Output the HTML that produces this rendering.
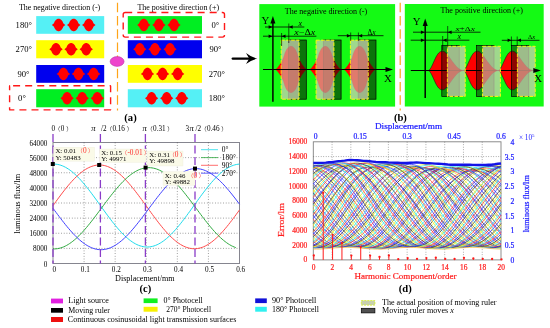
<!DOCTYPE html>
<html><head><meta charset="utf-8"><title>Figure</title>
<style>
html,body{margin:0;padding:0;background:#fff;}
body{width:550px;height:328px;overflow:hidden;font-family:"Liberation Serif","Noto Serif CJK SC",serif;}
svg{display:block;}
</style></head><body>
<svg width="550" height="328" viewBox="0 0 550 328">
<rect width="550" height="328" fill="#fff"/>
<rect x="36.2" y="16.1" width="68" height="17.7" fill="#55f0f5"/>
<path d="M51.90,24.95 L52.20,24.71 L52.51,24.46 L52.81,24.22 L53.12,23.98 L53.42,23.73 L53.73,23.49 L54.03,23.06 L54.34,22.19 L54.64,21.56 L54.95,21.06 L55.25,20.64 L55.55,20.28 L55.86,19.97 L56.16,19.70 L56.47,19.47 L56.77,19.27 L57.08,19.10 L57.38,18.96 L57.69,18.85 L57.99,18.76 L58.30,18.69 L58.60,18.65 L58.90,18.69 L59.21,18.76 L59.51,18.85 L59.82,18.96 L60.12,19.10 L60.43,19.27 L60.73,19.47 L61.04,19.70 L61.34,19.97 L61.65,20.28 L61.95,20.64 L62.25,21.06 L62.56,21.56 L62.86,22.19 L63.17,23.06 L63.47,23.49 L63.78,23.73 L64.08,23.98 L64.39,24.22 L64.69,24.46 L65.00,24.71 L65.30,24.95 L65.30,24.95 L65.00,25.19 L64.69,25.44 L64.39,25.68 L64.08,25.92 L63.78,26.17 L63.47,26.41 L63.17,26.84 L62.86,27.71 L62.56,28.34 L62.25,28.84 L61.95,29.26 L61.65,29.62 L61.34,29.93 L61.04,30.20 L60.73,30.43 L60.43,30.63 L60.12,30.80 L59.82,30.94 L59.51,31.05 L59.21,31.14 L58.90,31.21 L58.60,31.25 L58.30,31.21 L57.99,31.14 L57.69,31.05 L57.38,30.94 L57.08,30.80 L56.77,30.63 L56.47,30.43 L56.16,30.20 L55.86,29.93 L55.55,29.62 L55.25,29.26 L54.95,28.84 L54.64,28.34 L54.34,27.71 L54.03,26.84 L53.73,26.41 L53.42,26.17 L53.12,25.92 L52.81,25.68 L52.51,25.44 L52.20,25.19 L51.90,24.95Z" fill="#ff0000"/>
<path d="M67.00,24.95 L67.30,24.71 L67.61,24.46 L67.91,24.22 L68.22,23.98 L68.52,23.73 L68.83,23.49 L69.13,23.06 L69.44,22.19 L69.74,21.56 L70.05,21.06 L70.35,20.64 L70.65,20.28 L70.96,19.97 L71.26,19.70 L71.57,19.47 L71.87,19.27 L72.18,19.10 L72.48,18.96 L72.79,18.85 L73.09,18.76 L73.40,18.69 L73.70,18.65 L74.00,18.69 L74.31,18.76 L74.61,18.85 L74.92,18.96 L75.22,19.10 L75.53,19.27 L75.83,19.47 L76.14,19.70 L76.44,19.97 L76.75,20.28 L77.05,20.64 L77.35,21.06 L77.66,21.56 L77.96,22.19 L78.27,23.06 L78.57,23.49 L78.88,23.73 L79.18,23.98 L79.49,24.22 L79.79,24.46 L80.10,24.71 L80.40,24.95 L80.40,24.95 L80.10,25.19 L79.79,25.44 L79.49,25.68 L79.18,25.92 L78.88,26.17 L78.57,26.41 L78.27,26.84 L77.96,27.71 L77.66,28.34 L77.35,28.84 L77.05,29.26 L76.75,29.62 L76.44,29.93 L76.14,30.20 L75.83,30.43 L75.53,30.63 L75.22,30.80 L74.92,30.94 L74.61,31.05 L74.31,31.14 L74.00,31.21 L73.70,31.25 L73.40,31.21 L73.09,31.14 L72.79,31.05 L72.48,30.94 L72.18,30.80 L71.87,30.63 L71.57,30.43 L71.26,30.20 L70.96,29.93 L70.65,29.62 L70.35,29.26 L70.05,28.84 L69.74,28.34 L69.44,27.71 L69.13,26.84 L68.83,26.41 L68.52,26.17 L68.22,25.92 L67.91,25.68 L67.61,25.44 L67.30,25.19 L67.00,24.95Z" fill="#ff0000"/>
<path d="M82.10,24.95 L82.40,24.71 L82.71,24.46 L83.01,24.22 L83.32,23.98 L83.62,23.73 L83.93,23.49 L84.23,23.06 L84.54,22.19 L84.84,21.56 L85.15,21.06 L85.45,20.64 L85.75,20.28 L86.06,19.97 L86.36,19.70 L86.67,19.47 L86.97,19.27 L87.28,19.10 L87.58,18.96 L87.89,18.85 L88.19,18.76 L88.50,18.69 L88.80,18.65 L89.10,18.69 L89.41,18.76 L89.71,18.85 L90.02,18.96 L90.32,19.10 L90.63,19.27 L90.93,19.47 L91.24,19.70 L91.54,19.97 L91.85,20.28 L92.15,20.64 L92.45,21.06 L92.76,21.56 L93.06,22.19 L93.37,23.06 L93.67,23.49 L93.98,23.73 L94.28,23.98 L94.59,24.22 L94.89,24.46 L95.20,24.71 L95.50,24.95 L95.50,24.95 L95.20,25.19 L94.89,25.44 L94.59,25.68 L94.28,25.92 L93.98,26.17 L93.67,26.41 L93.37,26.84 L93.06,27.71 L92.76,28.34 L92.45,28.84 L92.15,29.26 L91.85,29.62 L91.54,29.93 L91.24,30.20 L90.93,30.43 L90.63,30.63 L90.32,30.80 L90.02,30.94 L89.71,31.05 L89.41,31.14 L89.10,31.21 L88.80,31.25 L88.50,31.21 L88.19,31.14 L87.89,31.05 L87.58,30.94 L87.28,30.80 L86.97,30.63 L86.67,30.43 L86.36,30.20 L86.06,29.93 L85.75,29.62 L85.45,29.26 L85.15,28.84 L84.84,28.34 L84.54,27.71 L84.23,26.84 L83.93,26.41 L83.62,26.17 L83.32,25.92 L83.01,25.68 L82.71,25.44 L82.40,25.19 L82.10,24.95Z" fill="#ff0000"/>
<text x="23.75" y="27.849999999999998" font-size="8.6" fill="#000" text-anchor="middle" font-family='"Liberation Serif","Noto Serif CJK SC",serif' >180°</text>
<rect x="36.2" y="40.2" width="68" height="18.1" fill="#ffff00"/>
<path d="M49.30,49.25 L49.60,49.01 L49.91,48.76 L50.21,48.52 L50.52,48.28 L50.82,48.03 L51.13,47.79 L51.43,47.36 L51.74,46.49 L52.04,45.86 L52.35,45.36 L52.65,44.94 L52.95,44.58 L53.26,44.27 L53.56,44.00 L53.87,43.77 L54.17,43.57 L54.48,43.40 L54.78,43.26 L55.09,43.15 L55.39,43.06 L55.70,42.99 L56.00,42.95 L56.30,42.99 L56.61,43.06 L56.91,43.15 L57.22,43.26 L57.52,43.40 L57.83,43.57 L58.13,43.77 L58.44,44.00 L58.74,44.27 L59.05,44.58 L59.35,44.94 L59.65,45.36 L59.96,45.86 L60.26,46.49 L60.57,47.36 L60.87,47.79 L61.18,48.03 L61.48,48.28 L61.79,48.52 L62.09,48.76 L62.40,49.01 L62.70,49.25 L62.70,49.25 L62.40,49.49 L62.09,49.74 L61.79,49.98 L61.48,50.22 L61.18,50.47 L60.87,50.71 L60.57,51.14 L60.26,52.01 L59.96,52.64 L59.65,53.14 L59.35,53.56 L59.05,53.92 L58.74,54.23 L58.44,54.50 L58.13,54.73 L57.83,54.93 L57.52,55.10 L57.22,55.24 L56.91,55.35 L56.61,55.44 L56.30,55.51 L56.00,55.55 L55.70,55.51 L55.39,55.44 L55.09,55.35 L54.78,55.24 L54.48,55.10 L54.17,54.93 L53.87,54.73 L53.56,54.50 L53.26,54.23 L52.95,53.92 L52.65,53.56 L52.35,53.14 L52.04,52.64 L51.74,52.01 L51.43,51.14 L51.13,50.71 L50.82,50.47 L50.52,50.22 L50.21,49.98 L49.91,49.74 L49.60,49.49 L49.30,49.25Z" fill="#ff0000"/>
<path d="M64.40,49.25 L64.70,49.01 L65.01,48.76 L65.31,48.52 L65.62,48.28 L65.92,48.03 L66.23,47.79 L66.53,47.36 L66.84,46.49 L67.14,45.86 L67.45,45.36 L67.75,44.94 L68.05,44.58 L68.36,44.27 L68.66,44.00 L68.97,43.77 L69.27,43.57 L69.58,43.40 L69.88,43.26 L70.19,43.15 L70.49,43.06 L70.80,42.99 L71.10,42.95 L71.40,42.99 L71.71,43.06 L72.01,43.15 L72.32,43.26 L72.62,43.40 L72.93,43.57 L73.23,43.77 L73.54,44.00 L73.84,44.27 L74.15,44.58 L74.45,44.94 L74.75,45.36 L75.06,45.86 L75.36,46.49 L75.67,47.36 L75.97,47.79 L76.28,48.03 L76.58,48.28 L76.89,48.52 L77.19,48.76 L77.50,49.01 L77.80,49.25 L77.80,49.25 L77.50,49.49 L77.19,49.74 L76.89,49.98 L76.58,50.22 L76.28,50.47 L75.97,50.71 L75.67,51.14 L75.36,52.01 L75.06,52.64 L74.75,53.14 L74.45,53.56 L74.15,53.92 L73.84,54.23 L73.54,54.50 L73.23,54.73 L72.93,54.93 L72.62,55.10 L72.32,55.24 L72.01,55.35 L71.71,55.44 L71.40,55.51 L71.10,55.55 L70.80,55.51 L70.49,55.44 L70.19,55.35 L69.88,55.24 L69.58,55.10 L69.27,54.93 L68.97,54.73 L68.66,54.50 L68.36,54.23 L68.05,53.92 L67.75,53.56 L67.45,53.14 L67.14,52.64 L66.84,52.01 L66.53,51.14 L66.23,50.71 L65.92,50.47 L65.62,50.22 L65.31,49.98 L65.01,49.74 L64.70,49.49 L64.40,49.25Z" fill="#ff0000"/>
<path d="M79.50,49.25 L79.80,49.01 L80.11,48.76 L80.41,48.52 L80.72,48.28 L81.02,48.03 L81.33,47.79 L81.63,47.36 L81.94,46.49 L82.24,45.86 L82.55,45.36 L82.85,44.94 L83.15,44.58 L83.46,44.27 L83.76,44.00 L84.07,43.77 L84.37,43.57 L84.68,43.40 L84.98,43.26 L85.29,43.15 L85.59,43.06 L85.90,42.99 L86.20,42.95 L86.50,42.99 L86.81,43.06 L87.11,43.15 L87.42,43.26 L87.72,43.40 L88.03,43.57 L88.33,43.77 L88.64,44.00 L88.94,44.27 L89.25,44.58 L89.55,44.94 L89.85,45.36 L90.16,45.86 L90.46,46.49 L90.77,47.36 L91.07,47.79 L91.38,48.03 L91.68,48.28 L91.99,48.52 L92.29,48.76 L92.60,49.01 L92.90,49.25 L92.90,49.25 L92.60,49.49 L92.29,49.74 L91.99,49.98 L91.68,50.22 L91.38,50.47 L91.07,50.71 L90.77,51.14 L90.46,52.01 L90.16,52.64 L89.85,53.14 L89.55,53.56 L89.25,53.92 L88.94,54.23 L88.64,54.50 L88.33,54.73 L88.03,54.93 L87.72,55.10 L87.42,55.24 L87.11,55.35 L86.81,55.44 L86.50,55.51 L86.20,55.55 L85.90,55.51 L85.59,55.44 L85.29,55.35 L84.98,55.24 L84.68,55.10 L84.37,54.93 L84.07,54.73 L83.76,54.50 L83.46,54.23 L83.15,53.92 L82.85,53.56 L82.55,53.14 L82.24,52.64 L81.94,52.01 L81.63,51.14 L81.33,50.71 L81.02,50.47 L80.72,50.22 L80.41,49.98 L80.11,49.74 L79.80,49.49 L79.50,49.25Z" fill="#ff0000"/>
<text x="23.75" y="52.15" font-size="8.6" fill="#000" text-anchor="middle" font-family='"Liberation Serif","Noto Serif CJK SC",serif' >270°</text>
<rect x="36.2" y="65.0" width="68" height="17.8" fill="#0000ee"/>
<path d="M56.70,73.90 L57.00,73.66 L57.31,73.41 L57.61,73.17 L57.92,72.93 L58.22,72.68 L58.53,72.44 L58.83,72.01 L59.14,71.14 L59.44,70.51 L59.75,70.01 L60.05,69.59 L60.35,69.23 L60.66,68.92 L60.96,68.65 L61.27,68.42 L61.57,68.22 L61.88,68.05 L62.18,67.91 L62.49,67.80 L62.79,67.71 L63.10,67.64 L63.40,67.60 L63.70,67.64 L64.01,67.71 L64.31,67.80 L64.62,67.91 L64.92,68.05 L65.23,68.22 L65.53,68.42 L65.84,68.65 L66.14,68.92 L66.45,69.23 L66.75,69.59 L67.05,70.01 L67.36,70.51 L67.66,71.14 L67.97,72.01 L68.27,72.44 L68.58,72.68 L68.88,72.93 L69.19,73.17 L69.49,73.41 L69.80,73.66 L70.10,73.90 L70.10,73.90 L69.80,74.14 L69.49,74.39 L69.19,74.63 L68.88,74.87 L68.58,75.12 L68.27,75.36 L67.97,75.79 L67.66,76.66 L67.36,77.29 L67.05,77.79 L66.75,78.21 L66.45,78.57 L66.14,78.88 L65.84,79.15 L65.53,79.38 L65.23,79.58 L64.92,79.75 L64.62,79.89 L64.31,80.00 L64.01,80.09 L63.70,80.16 L63.40,80.20 L63.10,80.16 L62.79,80.09 L62.49,80.00 L62.18,79.89 L61.88,79.75 L61.57,79.58 L61.27,79.38 L60.96,79.15 L60.66,78.88 L60.35,78.57 L60.05,78.21 L59.75,77.79 L59.44,77.29 L59.14,76.66 L58.83,75.79 L58.53,75.36 L58.22,75.12 L57.92,74.87 L57.61,74.63 L57.31,74.39 L57.00,74.14 L56.70,73.90Z" fill="#ff0000"/>
<path d="M71.80,73.90 L72.10,73.66 L72.41,73.41 L72.71,73.17 L73.02,72.93 L73.32,72.68 L73.63,72.44 L73.93,72.01 L74.24,71.14 L74.54,70.51 L74.85,70.01 L75.15,69.59 L75.45,69.23 L75.76,68.92 L76.06,68.65 L76.37,68.42 L76.67,68.22 L76.98,68.05 L77.28,67.91 L77.59,67.80 L77.89,67.71 L78.20,67.64 L78.50,67.60 L78.80,67.64 L79.11,67.71 L79.41,67.80 L79.72,67.91 L80.02,68.05 L80.33,68.22 L80.63,68.42 L80.94,68.65 L81.24,68.92 L81.55,69.23 L81.85,69.59 L82.15,70.01 L82.46,70.51 L82.76,71.14 L83.07,72.01 L83.37,72.44 L83.68,72.68 L83.98,72.93 L84.29,73.17 L84.59,73.41 L84.90,73.66 L85.20,73.90 L85.20,73.90 L84.90,74.14 L84.59,74.39 L84.29,74.63 L83.98,74.87 L83.68,75.12 L83.37,75.36 L83.07,75.79 L82.76,76.66 L82.46,77.29 L82.15,77.79 L81.85,78.21 L81.55,78.57 L81.24,78.88 L80.94,79.15 L80.63,79.38 L80.33,79.58 L80.02,79.75 L79.72,79.89 L79.41,80.00 L79.11,80.09 L78.80,80.16 L78.50,80.20 L78.20,80.16 L77.89,80.09 L77.59,80.00 L77.28,79.89 L76.98,79.75 L76.67,79.58 L76.37,79.38 L76.06,79.15 L75.76,78.88 L75.45,78.57 L75.15,78.21 L74.85,77.79 L74.54,77.29 L74.24,76.66 L73.93,75.79 L73.63,75.36 L73.32,75.12 L73.02,74.87 L72.71,74.63 L72.41,74.39 L72.10,74.14 L71.80,73.90Z" fill="#ff0000"/>
<path d="M86.90,73.90 L87.20,73.66 L87.51,73.41 L87.81,73.17 L88.12,72.93 L88.42,72.68 L88.73,72.44 L89.03,72.01 L89.34,71.14 L89.64,70.51 L89.95,70.01 L90.25,69.59 L90.55,69.23 L90.86,68.92 L91.16,68.65 L91.47,68.42 L91.77,68.22 L92.08,68.05 L92.38,67.91 L92.69,67.80 L92.99,67.71 L93.30,67.64 L93.60,67.60 L93.90,67.64 L94.21,67.71 L94.51,67.80 L94.82,67.91 L95.12,68.05 L95.43,68.22 L95.73,68.42 L96.04,68.65 L96.34,68.92 L96.65,69.23 L96.95,69.59 L97.25,70.01 L97.56,70.51 L97.86,71.14 L98.17,72.01 L98.47,72.44 L98.78,72.68 L99.08,72.93 L99.39,73.17 L99.69,73.41 L100.00,73.66 L100.30,73.90 L100.30,73.90 L100.00,74.14 L99.69,74.39 L99.39,74.63 L99.08,74.87 L98.78,75.12 L98.47,75.36 L98.17,75.79 L97.86,76.66 L97.56,77.29 L97.25,77.79 L96.95,78.21 L96.65,78.57 L96.34,78.88 L96.04,79.15 L95.73,79.38 L95.43,79.58 L95.12,79.75 L94.82,79.89 L94.51,80.00 L94.21,80.09 L93.90,80.16 L93.60,80.20 L93.30,80.16 L92.99,80.09 L92.69,80.00 L92.38,79.89 L92.08,79.75 L91.77,79.58 L91.47,79.38 L91.16,79.15 L90.86,78.88 L90.55,78.57 L90.25,78.21 L89.95,77.79 L89.64,77.29 L89.34,76.66 L89.03,75.79 L88.73,75.36 L88.42,75.12 L88.12,74.87 L87.81,74.63 L87.51,74.39 L87.20,74.14 L86.90,73.90Z" fill="#ff0000"/>
<text x="23.45" y="76.80000000000001" font-size="8.6" fill="#000" text-anchor="middle" font-family='"Liberation Serif","Noto Serif CJK SC",serif' >90°</text>
<rect x="36.2" y="89.2" width="68" height="18.1" fill="#00ee22"/>
<path d="M60.40,98.25 L60.70,98.01 L61.01,97.76 L61.31,97.52 L61.62,97.28 L61.92,97.03 L62.23,96.79 L62.53,96.36 L62.84,95.49 L63.14,94.86 L63.45,94.36 L63.75,93.94 L64.05,93.58 L64.36,93.27 L64.66,93.00 L64.97,92.77 L65.27,92.57 L65.58,92.40 L65.88,92.26 L66.19,92.15 L66.49,92.06 L66.80,91.99 L67.10,91.95 L67.40,91.99 L67.71,92.06 L68.01,92.15 L68.32,92.26 L68.62,92.40 L68.93,92.57 L69.23,92.77 L69.54,93.00 L69.84,93.27 L70.15,93.58 L70.45,93.94 L70.75,94.36 L71.06,94.86 L71.36,95.49 L71.67,96.36 L71.97,96.79 L72.28,97.03 L72.58,97.28 L72.89,97.52 L73.19,97.76 L73.50,98.01 L73.80,98.25 L73.80,98.25 L73.50,98.49 L73.19,98.74 L72.89,98.98 L72.58,99.22 L72.28,99.47 L71.97,99.71 L71.67,100.14 L71.36,101.01 L71.06,101.64 L70.75,102.14 L70.45,102.56 L70.15,102.92 L69.84,103.23 L69.54,103.50 L69.23,103.73 L68.93,103.93 L68.62,104.10 L68.32,104.24 L68.01,104.35 L67.71,104.44 L67.40,104.51 L67.10,104.55 L66.80,104.51 L66.49,104.44 L66.19,104.35 L65.88,104.24 L65.58,104.10 L65.27,103.93 L64.97,103.73 L64.66,103.50 L64.36,103.23 L64.05,102.92 L63.75,102.56 L63.45,102.14 L63.14,101.64 L62.84,101.01 L62.53,100.14 L62.23,99.71 L61.92,99.47 L61.62,99.22 L61.31,98.98 L61.01,98.74 L60.70,98.49 L60.40,98.25Z" fill="#ff0000"/>
<path d="M75.50,98.25 L75.80,98.01 L76.11,97.76 L76.41,97.52 L76.72,97.28 L77.02,97.03 L77.33,96.79 L77.63,96.36 L77.94,95.49 L78.24,94.86 L78.55,94.36 L78.85,93.94 L79.15,93.58 L79.46,93.27 L79.76,93.00 L80.07,92.77 L80.37,92.57 L80.68,92.40 L80.98,92.26 L81.29,92.15 L81.59,92.06 L81.90,91.99 L82.20,91.95 L82.50,91.99 L82.81,92.06 L83.11,92.15 L83.42,92.26 L83.72,92.40 L84.03,92.57 L84.33,92.77 L84.64,93.00 L84.94,93.27 L85.25,93.58 L85.55,93.94 L85.85,94.36 L86.16,94.86 L86.46,95.49 L86.77,96.36 L87.07,96.79 L87.38,97.03 L87.68,97.28 L87.99,97.52 L88.29,97.76 L88.60,98.01 L88.90,98.25 L88.90,98.25 L88.60,98.49 L88.29,98.74 L87.99,98.98 L87.68,99.22 L87.38,99.47 L87.07,99.71 L86.77,100.14 L86.46,101.01 L86.16,101.64 L85.85,102.14 L85.55,102.56 L85.25,102.92 L84.94,103.23 L84.64,103.50 L84.33,103.73 L84.03,103.93 L83.72,104.10 L83.42,104.24 L83.11,104.35 L82.81,104.44 L82.50,104.51 L82.20,104.55 L81.90,104.51 L81.59,104.44 L81.29,104.35 L80.98,104.24 L80.68,104.10 L80.37,103.93 L80.07,103.73 L79.76,103.50 L79.46,103.23 L79.15,102.92 L78.85,102.56 L78.55,102.14 L78.24,101.64 L77.94,101.01 L77.63,100.14 L77.33,99.71 L77.02,99.47 L76.72,99.22 L76.41,98.98 L76.11,98.74 L75.80,98.49 L75.50,98.25Z" fill="#ff0000"/>
<path d="M90.60,98.25 L90.90,98.01 L91.21,97.76 L91.51,97.52 L91.82,97.28 L92.12,97.03 L92.43,96.79 L92.73,96.36 L93.04,95.49 L93.34,94.86 L93.65,94.36 L93.95,93.94 L94.25,93.58 L94.56,93.27 L94.86,93.00 L95.17,92.77 L95.47,92.57 L95.78,92.40 L96.08,92.26 L96.39,92.15 L96.69,92.06 L97.00,91.99 L97.30,91.95 L97.60,91.99 L97.91,92.06 L98.21,92.15 L98.52,92.26 L98.82,92.40 L99.13,92.57 L99.43,92.77 L99.74,93.00 L100.04,93.27 L100.35,93.58 L100.65,93.94 L100.95,94.36 L101.26,94.86 L101.56,95.49 L101.87,96.36 L102.17,96.79 L102.48,97.03 L102.78,97.28 L103.09,97.52 L103.39,97.76 L103.70,98.01 L104.00,98.25 L104.00,98.25 L103.70,98.49 L103.39,98.74 L103.09,98.98 L102.78,99.22 L102.48,99.47 L102.17,99.71 L101.87,100.14 L101.56,101.01 L101.26,101.64 L100.95,102.14 L100.65,102.56 L100.35,102.92 L100.04,103.23 L99.74,103.50 L99.43,103.73 L99.13,103.93 L98.82,104.10 L98.52,104.24 L98.21,104.35 L97.91,104.44 L97.60,104.51 L97.30,104.55 L97.00,104.51 L96.69,104.44 L96.39,104.35 L96.08,104.24 L95.78,104.10 L95.47,103.93 L95.17,103.73 L94.86,103.50 L94.56,103.23 L94.25,102.92 L93.95,102.56 L93.65,102.14 L93.34,101.64 L93.04,101.01 L92.73,100.14 L92.43,99.71 L92.12,99.47 L91.82,99.22 L91.51,98.98 L91.21,98.74 L90.90,98.49 L90.60,98.25Z" fill="#ff0000"/>
<text x="21.95" y="101.15" font-size="8.6" fill="#000" text-anchor="middle" font-family='"Liberation Serif","Noto Serif CJK SC",serif' >0°</text>
<rect x="127.8" y="16.1" width="74.2" height="17.7" fill="#00ee22"/>
<path d="M137.20,24.95 L137.50,24.71 L137.80,24.46 L138.10,24.22 L138.40,23.98 L138.70,23.73 L139.00,23.49 L139.30,23.06 L139.60,22.19 L139.90,21.56 L140.20,21.06 L140.50,20.64 L140.80,20.28 L141.10,19.97 L141.40,19.70 L141.70,19.47 L142.00,19.27 L142.30,19.10 L142.60,18.96 L142.90,18.85 L143.20,18.76 L143.50,18.69 L143.80,18.65 L144.10,18.69 L144.40,18.76 L144.70,18.85 L145.00,18.96 L145.30,19.10 L145.60,19.27 L145.90,19.47 L146.20,19.70 L146.50,19.97 L146.80,20.28 L147.10,20.64 L147.40,21.06 L147.70,21.56 L148.00,22.19 L148.30,23.06 L148.60,23.49 L148.90,23.73 L149.20,23.98 L149.50,24.22 L149.80,24.46 L150.10,24.71 L150.40,24.95 L150.40,24.95 L150.10,25.19 L149.80,25.44 L149.50,25.68 L149.20,25.92 L148.90,26.17 L148.60,26.41 L148.30,26.84 L148.00,27.71 L147.70,28.34 L147.40,28.84 L147.10,29.26 L146.80,29.62 L146.50,29.93 L146.20,30.20 L145.90,30.43 L145.60,30.63 L145.30,30.80 L145.00,30.94 L144.70,31.05 L144.40,31.14 L144.10,31.21 L143.80,31.25 L143.50,31.21 L143.20,31.14 L142.90,31.05 L142.60,30.94 L142.30,30.80 L142.00,30.63 L141.70,30.43 L141.40,30.20 L141.10,29.93 L140.80,29.62 L140.50,29.26 L140.20,28.84 L139.90,28.34 L139.60,27.71 L139.30,26.84 L139.00,26.41 L138.70,26.17 L138.40,25.92 L138.10,25.68 L137.80,25.44 L137.50,25.19 L137.20,24.95Z" fill="#ff0000"/>
<path d="M152.30,24.95 L152.60,24.71 L152.90,24.46 L153.20,24.22 L153.50,23.98 L153.80,23.73 L154.10,23.49 L154.40,23.06 L154.70,22.19 L155.00,21.56 L155.30,21.06 L155.60,20.64 L155.90,20.28 L156.20,19.97 L156.50,19.70 L156.80,19.47 L157.10,19.27 L157.40,19.10 L157.70,18.96 L158.00,18.85 L158.30,18.76 L158.60,18.69 L158.90,18.65 L159.20,18.69 L159.50,18.76 L159.80,18.85 L160.10,18.96 L160.40,19.10 L160.70,19.27 L161.00,19.47 L161.30,19.70 L161.60,19.97 L161.90,20.28 L162.20,20.64 L162.50,21.06 L162.80,21.56 L163.10,22.19 L163.40,23.06 L163.70,23.49 L164.00,23.73 L164.30,23.98 L164.60,24.22 L164.90,24.46 L165.20,24.71 L165.50,24.95 L165.50,24.95 L165.20,25.19 L164.90,25.44 L164.60,25.68 L164.30,25.92 L164.00,26.17 L163.70,26.41 L163.40,26.84 L163.10,27.71 L162.80,28.34 L162.50,28.84 L162.20,29.26 L161.90,29.62 L161.60,29.93 L161.30,30.20 L161.00,30.43 L160.70,30.63 L160.40,30.80 L160.10,30.94 L159.80,31.05 L159.50,31.14 L159.20,31.21 L158.90,31.25 L158.60,31.21 L158.30,31.14 L158.00,31.05 L157.70,30.94 L157.40,30.80 L157.10,30.63 L156.80,30.43 L156.50,30.20 L156.20,29.93 L155.90,29.62 L155.60,29.26 L155.30,28.84 L155.00,28.34 L154.70,27.71 L154.40,26.84 L154.10,26.41 L153.80,26.17 L153.50,25.92 L153.20,25.68 L152.90,25.44 L152.60,25.19 L152.30,24.95Z" fill="#ff0000"/>
<path d="M167.40,24.95 L167.70,24.71 L168.00,24.46 L168.30,24.22 L168.60,23.98 L168.90,23.73 L169.20,23.49 L169.50,23.06 L169.80,22.19 L170.10,21.56 L170.40,21.06 L170.70,20.64 L171.00,20.28 L171.30,19.97 L171.60,19.70 L171.90,19.47 L172.20,19.27 L172.50,19.10 L172.80,18.96 L173.10,18.85 L173.40,18.76 L173.70,18.69 L174.00,18.65 L174.30,18.69 L174.60,18.76 L174.90,18.85 L175.20,18.96 L175.50,19.10 L175.80,19.27 L176.10,19.47 L176.40,19.70 L176.70,19.97 L177.00,20.28 L177.30,20.64 L177.60,21.06 L177.90,21.56 L178.20,22.19 L178.50,23.06 L178.80,23.49 L179.10,23.73 L179.40,23.98 L179.70,24.22 L180.00,24.46 L180.30,24.71 L180.60,24.95 L180.60,24.95 L180.30,25.19 L180.00,25.44 L179.70,25.68 L179.40,25.92 L179.10,26.17 L178.80,26.41 L178.50,26.84 L178.20,27.71 L177.90,28.34 L177.60,28.84 L177.30,29.26 L177.00,29.62 L176.70,29.93 L176.40,30.20 L176.10,30.43 L175.80,30.63 L175.50,30.80 L175.20,30.94 L174.90,31.05 L174.60,31.14 L174.30,31.21 L174.00,31.25 L173.70,31.21 L173.40,31.14 L173.10,31.05 L172.80,30.94 L172.50,30.80 L172.20,30.63 L171.90,30.43 L171.60,30.20 L171.30,29.93 L171.00,29.62 L170.70,29.26 L170.40,28.84 L170.10,28.34 L169.80,27.71 L169.50,26.84 L169.20,26.41 L168.90,26.17 L168.60,25.92 L168.30,25.68 L168.00,25.44 L167.70,25.19 L167.40,24.95Z" fill="#ff0000"/>
<text x="215.4" y="27.849999999999998" font-size="8.6" fill="#000" text-anchor="middle" font-family='"Liberation Serif","Noto Serif CJK SC",serif' >0°</text>
<rect x="127.8" y="40.2" width="74.2" height="18.1" fill="#0000ee"/>
<path d="M133.20,49.25 L133.50,49.01 L133.80,48.76 L134.10,48.52 L134.40,48.28 L134.70,48.03 L135.00,47.79 L135.30,47.36 L135.60,46.49 L135.90,45.86 L136.20,45.36 L136.50,44.94 L136.80,44.58 L137.10,44.27 L137.40,44.00 L137.70,43.77 L138.00,43.57 L138.30,43.40 L138.60,43.26 L138.90,43.15 L139.20,43.06 L139.50,42.99 L139.80,42.95 L140.10,42.99 L140.40,43.06 L140.70,43.15 L141.00,43.26 L141.30,43.40 L141.60,43.57 L141.90,43.77 L142.20,44.00 L142.50,44.27 L142.80,44.58 L143.10,44.94 L143.40,45.36 L143.70,45.86 L144.00,46.49 L144.30,47.36 L144.60,47.79 L144.90,48.03 L145.20,48.28 L145.50,48.52 L145.80,48.76 L146.10,49.01 L146.40,49.25 L146.40,49.25 L146.10,49.49 L145.80,49.74 L145.50,49.98 L145.20,50.22 L144.90,50.47 L144.60,50.71 L144.30,51.14 L144.00,52.01 L143.70,52.64 L143.40,53.14 L143.10,53.56 L142.80,53.92 L142.50,54.23 L142.20,54.50 L141.90,54.73 L141.60,54.93 L141.30,55.10 L141.00,55.24 L140.70,55.35 L140.40,55.44 L140.10,55.51 L139.80,55.55 L139.50,55.51 L139.20,55.44 L138.90,55.35 L138.60,55.24 L138.30,55.10 L138.00,54.93 L137.70,54.73 L137.40,54.50 L137.10,54.23 L136.80,53.92 L136.50,53.56 L136.20,53.14 L135.90,52.64 L135.60,52.01 L135.30,51.14 L135.00,50.71 L134.70,50.47 L134.40,50.22 L134.10,49.98 L133.80,49.74 L133.50,49.49 L133.20,49.25Z" fill="#ff0000"/>
<path d="M148.30,49.25 L148.60,49.01 L148.90,48.76 L149.20,48.52 L149.50,48.28 L149.80,48.03 L150.10,47.79 L150.40,47.36 L150.70,46.49 L151.00,45.86 L151.30,45.36 L151.60,44.94 L151.90,44.58 L152.20,44.27 L152.50,44.00 L152.80,43.77 L153.10,43.57 L153.40,43.40 L153.70,43.26 L154.00,43.15 L154.30,43.06 L154.60,42.99 L154.90,42.95 L155.20,42.99 L155.50,43.06 L155.80,43.15 L156.10,43.26 L156.40,43.40 L156.70,43.57 L157.00,43.77 L157.30,44.00 L157.60,44.27 L157.90,44.58 L158.20,44.94 L158.50,45.36 L158.80,45.86 L159.10,46.49 L159.40,47.36 L159.70,47.79 L160.00,48.03 L160.30,48.28 L160.60,48.52 L160.90,48.76 L161.20,49.01 L161.50,49.25 L161.50,49.25 L161.20,49.49 L160.90,49.74 L160.60,49.98 L160.30,50.22 L160.00,50.47 L159.70,50.71 L159.40,51.14 L159.10,52.01 L158.80,52.64 L158.50,53.14 L158.20,53.56 L157.90,53.92 L157.60,54.23 L157.30,54.50 L157.00,54.73 L156.70,54.93 L156.40,55.10 L156.10,55.24 L155.80,55.35 L155.50,55.44 L155.20,55.51 L154.90,55.55 L154.60,55.51 L154.30,55.44 L154.00,55.35 L153.70,55.24 L153.40,55.10 L153.10,54.93 L152.80,54.73 L152.50,54.50 L152.20,54.23 L151.90,53.92 L151.60,53.56 L151.30,53.14 L151.00,52.64 L150.70,52.01 L150.40,51.14 L150.10,50.71 L149.80,50.47 L149.50,50.22 L149.20,49.98 L148.90,49.74 L148.60,49.49 L148.30,49.25Z" fill="#ff0000"/>
<path d="M163.40,49.25 L163.70,49.01 L164.00,48.76 L164.30,48.52 L164.60,48.28 L164.90,48.03 L165.20,47.79 L165.50,47.36 L165.80,46.49 L166.10,45.86 L166.40,45.36 L166.70,44.94 L167.00,44.58 L167.30,44.27 L167.60,44.00 L167.90,43.77 L168.20,43.57 L168.50,43.40 L168.80,43.26 L169.10,43.15 L169.40,43.06 L169.70,42.99 L170.00,42.95 L170.30,42.99 L170.60,43.06 L170.90,43.15 L171.20,43.26 L171.50,43.40 L171.80,43.57 L172.10,43.77 L172.40,44.00 L172.70,44.27 L173.00,44.58 L173.30,44.94 L173.60,45.36 L173.90,45.86 L174.20,46.49 L174.50,47.36 L174.80,47.79 L175.10,48.03 L175.40,48.28 L175.70,48.52 L176.00,48.76 L176.30,49.01 L176.60,49.25 L176.60,49.25 L176.30,49.49 L176.00,49.74 L175.70,49.98 L175.40,50.22 L175.10,50.47 L174.80,50.71 L174.50,51.14 L174.20,52.01 L173.90,52.64 L173.60,53.14 L173.30,53.56 L173.00,53.92 L172.70,54.23 L172.40,54.50 L172.10,54.73 L171.80,54.93 L171.50,55.10 L171.20,55.24 L170.90,55.35 L170.60,55.44 L170.30,55.51 L170.00,55.55 L169.70,55.51 L169.40,55.44 L169.10,55.35 L168.80,55.24 L168.50,55.10 L168.20,54.93 L167.90,54.73 L167.60,54.50 L167.30,54.23 L167.00,53.92 L166.70,53.56 L166.40,53.14 L166.10,52.64 L165.80,52.01 L165.50,51.14 L165.20,50.71 L164.90,50.47 L164.60,50.22 L164.30,49.98 L164.00,49.74 L163.70,49.49 L163.40,49.25Z" fill="#ff0000"/>
<text x="215.4" y="52.15" font-size="8.6" fill="#000" text-anchor="middle" font-family='"Liberation Serif","Noto Serif CJK SC",serif' >90°</text>
<rect x="127.8" y="65.0" width="74.2" height="17.8" fill="#ffff00"/>
<path d="M140.90,73.90 L141.20,73.66 L141.50,73.41 L141.80,73.17 L142.10,72.93 L142.40,72.68 L142.70,72.44 L143.00,72.01 L143.30,71.14 L143.60,70.51 L143.90,70.01 L144.20,69.59 L144.50,69.23 L144.80,68.92 L145.10,68.65 L145.40,68.42 L145.70,68.22 L146.00,68.05 L146.30,67.91 L146.60,67.80 L146.90,67.71 L147.20,67.64 L147.50,67.60 L147.80,67.64 L148.10,67.71 L148.40,67.80 L148.70,67.91 L149.00,68.05 L149.30,68.22 L149.60,68.42 L149.90,68.65 L150.20,68.92 L150.50,69.23 L150.80,69.59 L151.10,70.01 L151.40,70.51 L151.70,71.14 L152.00,72.01 L152.30,72.44 L152.60,72.68 L152.90,72.93 L153.20,73.17 L153.50,73.41 L153.80,73.66 L154.10,73.90 L154.10,73.90 L153.80,74.14 L153.50,74.39 L153.20,74.63 L152.90,74.87 L152.60,75.12 L152.30,75.36 L152.00,75.79 L151.70,76.66 L151.40,77.29 L151.10,77.79 L150.80,78.21 L150.50,78.57 L150.20,78.88 L149.90,79.15 L149.60,79.38 L149.30,79.58 L149.00,79.75 L148.70,79.89 L148.40,80.00 L148.10,80.09 L147.80,80.16 L147.50,80.20 L147.20,80.16 L146.90,80.09 L146.60,80.00 L146.30,79.89 L146.00,79.75 L145.70,79.58 L145.40,79.38 L145.10,79.15 L144.80,78.88 L144.50,78.57 L144.20,78.21 L143.90,77.79 L143.60,77.29 L143.30,76.66 L143.00,75.79 L142.70,75.36 L142.40,75.12 L142.10,74.87 L141.80,74.63 L141.50,74.39 L141.20,74.14 L140.90,73.90Z" fill="#ff0000"/>
<path d="M156.00,73.90 L156.30,73.66 L156.60,73.41 L156.90,73.17 L157.20,72.93 L157.50,72.68 L157.80,72.44 L158.10,72.01 L158.40,71.14 L158.70,70.51 L159.00,70.01 L159.30,69.59 L159.60,69.23 L159.90,68.92 L160.20,68.65 L160.50,68.42 L160.80,68.22 L161.10,68.05 L161.40,67.91 L161.70,67.80 L162.00,67.71 L162.30,67.64 L162.60,67.60 L162.90,67.64 L163.20,67.71 L163.50,67.80 L163.80,67.91 L164.10,68.05 L164.40,68.22 L164.70,68.42 L165.00,68.65 L165.30,68.92 L165.60,69.23 L165.90,69.59 L166.20,70.01 L166.50,70.51 L166.80,71.14 L167.10,72.01 L167.40,72.44 L167.70,72.68 L168.00,72.93 L168.30,73.17 L168.60,73.41 L168.90,73.66 L169.20,73.90 L169.20,73.90 L168.90,74.14 L168.60,74.39 L168.30,74.63 L168.00,74.87 L167.70,75.12 L167.40,75.36 L167.10,75.79 L166.80,76.66 L166.50,77.29 L166.20,77.79 L165.90,78.21 L165.60,78.57 L165.30,78.88 L165.00,79.15 L164.70,79.38 L164.40,79.58 L164.10,79.75 L163.80,79.89 L163.50,80.00 L163.20,80.09 L162.90,80.16 L162.60,80.20 L162.30,80.16 L162.00,80.09 L161.70,80.00 L161.40,79.89 L161.10,79.75 L160.80,79.58 L160.50,79.38 L160.20,79.15 L159.90,78.88 L159.60,78.57 L159.30,78.21 L159.00,77.79 L158.70,77.29 L158.40,76.66 L158.10,75.79 L157.80,75.36 L157.50,75.12 L157.20,74.87 L156.90,74.63 L156.60,74.39 L156.30,74.14 L156.00,73.90Z" fill="#ff0000"/>
<path d="M171.10,73.90 L171.40,73.66 L171.70,73.41 L172.00,73.17 L172.30,72.93 L172.60,72.68 L172.90,72.44 L173.20,72.01 L173.50,71.14 L173.80,70.51 L174.10,70.01 L174.40,69.59 L174.70,69.23 L175.00,68.92 L175.30,68.65 L175.60,68.42 L175.90,68.22 L176.20,68.05 L176.50,67.91 L176.80,67.80 L177.10,67.71 L177.40,67.64 L177.70,67.60 L178.00,67.64 L178.30,67.71 L178.60,67.80 L178.90,67.91 L179.20,68.05 L179.50,68.22 L179.80,68.42 L180.10,68.65 L180.40,68.92 L180.70,69.23 L181.00,69.59 L181.30,70.01 L181.60,70.51 L181.90,71.14 L182.20,72.01 L182.50,72.44 L182.80,72.68 L183.10,72.93 L183.40,73.17 L183.70,73.41 L184.00,73.66 L184.30,73.90 L184.30,73.90 L184.00,74.14 L183.70,74.39 L183.40,74.63 L183.10,74.87 L182.80,75.12 L182.50,75.36 L182.20,75.79 L181.90,76.66 L181.60,77.29 L181.30,77.79 L181.00,78.21 L180.70,78.57 L180.40,78.88 L180.10,79.15 L179.80,79.38 L179.50,79.58 L179.20,79.75 L178.90,79.89 L178.60,80.00 L178.30,80.09 L178.00,80.16 L177.70,80.20 L177.40,80.16 L177.10,80.09 L176.80,80.00 L176.50,79.89 L176.20,79.75 L175.90,79.58 L175.60,79.38 L175.30,79.15 L175.00,78.88 L174.70,78.57 L174.40,78.21 L174.10,77.79 L173.80,77.29 L173.50,76.66 L173.20,75.79 L172.90,75.36 L172.60,75.12 L172.30,74.87 L172.00,74.63 L171.70,74.39 L171.40,74.14 L171.10,73.90Z" fill="#ff0000"/>
<text x="216.8" y="76.80000000000001" font-size="8.6" fill="#000" text-anchor="middle" font-family='"Liberation Serif","Noto Serif CJK SC",serif' >270°</text>
<rect x="127.8" y="89.2" width="74.2" height="18.1" fill="#55f0f5"/>
<path d="M145.00,98.25 L145.30,98.01 L145.60,97.76 L145.90,97.52 L146.20,97.28 L146.50,97.03 L146.80,96.79 L147.10,96.36 L147.40,95.49 L147.70,94.86 L148.00,94.36 L148.30,93.94 L148.60,93.58 L148.90,93.27 L149.20,93.00 L149.50,92.77 L149.80,92.57 L150.10,92.40 L150.40,92.26 L150.70,92.15 L151.00,92.06 L151.30,91.99 L151.60,91.95 L151.90,91.99 L152.20,92.06 L152.50,92.15 L152.80,92.26 L153.10,92.40 L153.40,92.57 L153.70,92.77 L154.00,93.00 L154.30,93.27 L154.60,93.58 L154.90,93.94 L155.20,94.36 L155.50,94.86 L155.80,95.49 L156.10,96.36 L156.40,96.79 L156.70,97.03 L157.00,97.28 L157.30,97.52 L157.60,97.76 L157.90,98.01 L158.20,98.25 L158.20,98.25 L157.90,98.49 L157.60,98.74 L157.30,98.98 L157.00,99.22 L156.70,99.47 L156.40,99.71 L156.10,100.14 L155.80,101.01 L155.50,101.64 L155.20,102.14 L154.90,102.56 L154.60,102.92 L154.30,103.23 L154.00,103.50 L153.70,103.73 L153.40,103.93 L153.10,104.10 L152.80,104.24 L152.50,104.35 L152.20,104.44 L151.90,104.51 L151.60,104.55 L151.30,104.51 L151.00,104.44 L150.70,104.35 L150.40,104.24 L150.10,104.10 L149.80,103.93 L149.50,103.73 L149.20,103.50 L148.90,103.23 L148.60,102.92 L148.30,102.56 L148.00,102.14 L147.70,101.64 L147.40,101.01 L147.10,100.14 L146.80,99.71 L146.50,99.47 L146.20,99.22 L145.90,98.98 L145.60,98.74 L145.30,98.49 L145.00,98.25Z" fill="#ff0000"/>
<path d="M160.10,98.25 L160.40,98.01 L160.70,97.76 L161.00,97.52 L161.30,97.28 L161.60,97.03 L161.90,96.79 L162.20,96.36 L162.50,95.49 L162.80,94.86 L163.10,94.36 L163.40,93.94 L163.70,93.58 L164.00,93.27 L164.30,93.00 L164.60,92.77 L164.90,92.57 L165.20,92.40 L165.50,92.26 L165.80,92.15 L166.10,92.06 L166.40,91.99 L166.70,91.95 L167.00,91.99 L167.30,92.06 L167.60,92.15 L167.90,92.26 L168.20,92.40 L168.50,92.57 L168.80,92.77 L169.10,93.00 L169.40,93.27 L169.70,93.58 L170.00,93.94 L170.30,94.36 L170.60,94.86 L170.90,95.49 L171.20,96.36 L171.50,96.79 L171.80,97.03 L172.10,97.28 L172.40,97.52 L172.70,97.76 L173.00,98.01 L173.30,98.25 L173.30,98.25 L173.00,98.49 L172.70,98.74 L172.40,98.98 L172.10,99.22 L171.80,99.47 L171.50,99.71 L171.20,100.14 L170.90,101.01 L170.60,101.64 L170.30,102.14 L170.00,102.56 L169.70,102.92 L169.40,103.23 L169.10,103.50 L168.80,103.73 L168.50,103.93 L168.20,104.10 L167.90,104.24 L167.60,104.35 L167.30,104.44 L167.00,104.51 L166.70,104.55 L166.40,104.51 L166.10,104.44 L165.80,104.35 L165.50,104.24 L165.20,104.10 L164.90,103.93 L164.60,103.73 L164.30,103.50 L164.00,103.23 L163.70,102.92 L163.40,102.56 L163.10,102.14 L162.80,101.64 L162.50,101.01 L162.20,100.14 L161.90,99.71 L161.60,99.47 L161.30,99.22 L161.00,98.98 L160.70,98.74 L160.40,98.49 L160.10,98.25Z" fill="#ff0000"/>
<path d="M175.20,98.25 L175.50,98.01 L175.80,97.76 L176.10,97.52 L176.40,97.28 L176.70,97.03 L177.00,96.79 L177.30,96.36 L177.60,95.49 L177.90,94.86 L178.20,94.36 L178.50,93.94 L178.80,93.58 L179.10,93.27 L179.40,93.00 L179.70,92.77 L180.00,92.57 L180.30,92.40 L180.60,92.26 L180.90,92.15 L181.20,92.06 L181.50,91.99 L181.80,91.95 L182.10,91.99 L182.40,92.06 L182.70,92.15 L183.00,92.26 L183.30,92.40 L183.60,92.57 L183.90,92.77 L184.20,93.00 L184.50,93.27 L184.80,93.58 L185.10,93.94 L185.40,94.36 L185.70,94.86 L186.00,95.49 L186.30,96.36 L186.60,96.79 L186.90,97.03 L187.20,97.28 L187.50,97.52 L187.80,97.76 L188.10,98.01 L188.40,98.25 L188.40,98.25 L188.10,98.49 L187.80,98.74 L187.50,98.98 L187.20,99.22 L186.90,99.47 L186.60,99.71 L186.30,100.14 L186.00,101.01 L185.70,101.64 L185.40,102.14 L185.10,102.56 L184.80,102.92 L184.50,103.23 L184.20,103.50 L183.90,103.73 L183.60,103.93 L183.30,104.10 L183.00,104.24 L182.70,104.35 L182.40,104.44 L182.10,104.51 L181.80,104.55 L181.50,104.51 L181.20,104.44 L180.90,104.35 L180.60,104.24 L180.30,104.10 L180.00,103.93 L179.70,103.73 L179.40,103.50 L179.10,103.23 L178.80,102.92 L178.50,102.56 L178.20,102.14 L177.90,101.64 L177.60,101.01 L177.30,100.14 L177.00,99.71 L176.70,99.47 L176.40,99.22 L176.10,98.98 L175.80,98.74 L175.50,98.49 L175.20,98.25Z" fill="#ff0000"/>
<text x="216.8" y="101.15" font-size="8.6" fill="#000" text-anchor="middle" font-family='"Liberation Serif","Noto Serif CJK SC",serif' >180°</text>
<text x="18.9" y="9.7" font-size="7.8" fill="#000" text-anchor="start" font-family='"Liberation Serif","Noto Serif CJK SC",serif' textLength="81.3" lengthAdjust="spacingAndGlyphs" >The negative direction (-)</text>
<text x="137.4" y="9.7" font-size="7.8" fill="#000" text-anchor="start" font-family='"Liberation Serif","Noto Serif CJK SC",serif' textLength="81.8" lengthAdjust="spacingAndGlyphs" >The positive direction (+)</text>
<rect x="9.6" y="85.8" width="101" height="24.1" rx="0.5" fill="none" stroke="#ff1818" stroke-width="1.4" stroke-dasharray="7 5.07" stroke-dashoffset="-3"/>
<rect x="123.2" y="12.5" width="101.3" height="24.6" rx="2" fill="none" stroke="#ff1818" stroke-width="1.4" stroke-dasharray="7 5.07"/>
<line x1="117.5" y1="2.8" x2="117.5" y2="110.6" stroke="#ffa418" stroke-width="1.2" stroke-dasharray="9.5 3.7"/>
<ellipse cx="117.1" cy="61.5" rx="7" ry="4.9" fill="#ee44cc" stroke="#b030a0" stroke-width="0.5"/>
<line x1="232.8" y1="58.6" x2="251" y2="58.6" stroke="#000" stroke-width="2.4" stroke-linecap="round"/>
<path d="M257.3,58.6 Q251,57.2 246,53.1 L249.2,58.6 L246,64.1 Q251,60 257.3,58.6 Z" fill="#000"/>
<text x="130.5" y="120.7" font-size="10.6" fill="#000" text-anchor="middle" font-family='"Liberation Serif","Noto Serif CJK SC",serif' font-weight="bold" >(a)</text>
<rect x="259.3" y="4.1" width="135.8" height="102.5" fill="#14fa14"/>
<rect x="404.8" y="4.0" width="138.9" height="102.5" fill="#14fa14"/>
<line x1="400.2" y1="2.8" x2="400.2" y2="110.6" stroke="#ffa418" stroke-width="1.2" stroke-dasharray="9.5 3.7"/>
<text x="400.4" y="120.7" font-size="10.6" fill="#000" text-anchor="middle" font-family='"Liberation Serif","Noto Serif CJK SC",serif' font-weight="bold" >(b)</text>
<path d="M274.80,69.50 L275.48,69.24 L276.15,68.77 L276.82,68.16 L277.50,67.43 L278.18,66.61 L278.85,65.70 L279.52,64.71 L280.20,63.65 L280.88,62.51 L281.55,61.32 L282.23,60.06 L282.90,58.74 L283.57,57.80 L284.25,57.80 L284.93,57.80 L285.60,57.80 L286.27,57.80 L286.95,57.80 L287.62,57.80 L288.30,57.80 L288.98,57.80 L289.65,57.80 L290.32,57.80 L291.00,57.80 L291.68,57.80 L292.35,57.80 L293.02,57.80 L293.70,57.80 L294.38,57.80 L295.05,57.80 L295.73,57.80 L296.40,57.80 L297.07,57.80 L297.75,57.80 L298.43,57.80 L299.10,58.74 L299.77,60.06 L300.45,61.32 L301.12,62.51 L301.80,63.65 L302.48,64.71 L303.15,65.70 L303.82,66.61 L304.50,67.43 L305.18,68.16 L305.85,68.77 L306.52,69.24 L307.20,69.50 L307.20,69.50 L306.52,69.76 L305.85,70.23 L305.18,70.84 L304.50,71.57 L303.82,72.39 L303.15,73.30 L302.48,74.29 L301.80,75.35 L301.12,76.49 L300.45,77.68 L299.77,78.94 L299.10,80.26 L298.43,81.20 L297.75,81.20 L297.07,81.20 L296.40,81.20 L295.73,81.20 L295.05,81.20 L294.38,81.20 L293.70,81.20 L293.02,81.20 L292.35,81.20 L291.68,81.20 L291.00,81.20 L290.32,81.20 L289.65,81.20 L288.98,81.20 L288.30,81.20 L287.62,81.20 L286.95,81.20 L286.27,81.20 L285.60,81.20 L284.93,81.20 L284.25,81.20 L283.57,81.20 L282.90,80.26 L282.23,78.94 L281.55,77.68 L280.88,76.49 L280.20,75.35 L279.52,74.29 L278.85,73.30 L278.18,72.39 L277.50,71.57 L276.82,70.84 L276.15,70.23 L275.48,69.76 L274.80,69.50Z" fill="#ff0000"/><ellipse cx="291" cy="69.5" rx="8.7" ry="23.4" fill="#ff0000" stroke="#303040" stroke-width="0.4"/>
<path d="M309.10,69.50 L309.78,69.24 L310.45,68.77 L311.12,68.16 L311.80,67.43 L312.48,66.61 L313.15,65.70 L313.82,64.71 L314.50,63.65 L315.18,62.51 L315.85,61.32 L316.53,60.06 L317.20,58.74 L317.88,57.80 L318.55,57.80 L319.23,57.80 L319.90,57.80 L320.57,57.80 L321.25,57.80 L321.93,57.80 L322.60,57.80 L323.28,57.80 L323.95,57.80 L324.62,57.80 L325.30,57.80 L325.98,57.80 L326.65,57.80 L327.32,57.80 L328.00,57.80 L328.68,57.80 L329.35,57.80 L330.03,57.80 L330.70,57.80 L331.38,57.80 L332.05,57.80 L332.73,57.80 L333.40,58.74 L334.07,60.06 L334.75,61.32 L335.43,62.51 L336.10,63.65 L336.78,64.71 L337.45,65.70 L338.12,66.61 L338.80,67.43 L339.48,68.16 L340.15,68.77 L340.82,69.24 L341.50,69.50 L341.50,69.50 L340.82,69.76 L340.15,70.23 L339.48,70.84 L338.80,71.57 L338.12,72.39 L337.45,73.30 L336.78,74.29 L336.10,75.35 L335.43,76.49 L334.75,77.68 L334.07,78.94 L333.40,80.26 L332.73,81.20 L332.05,81.20 L331.38,81.20 L330.70,81.20 L330.03,81.20 L329.35,81.20 L328.68,81.20 L328.00,81.20 L327.32,81.20 L326.65,81.20 L325.98,81.20 L325.30,81.20 L324.62,81.20 L323.95,81.20 L323.28,81.20 L322.60,81.20 L321.93,81.20 L321.25,81.20 L320.57,81.20 L319.90,81.20 L319.23,81.20 L318.55,81.20 L317.88,81.20 L317.20,80.26 L316.53,78.94 L315.85,77.68 L315.18,76.49 L314.50,75.35 L313.82,74.29 L313.15,73.30 L312.48,72.39 L311.80,71.57 L311.12,70.84 L310.45,70.23 L309.78,69.76 L309.10,69.50Z" fill="#ff0000"/><ellipse cx="325.3" cy="69.5" rx="8.7" ry="23.4" fill="#ff0000" stroke="#303040" stroke-width="0.4"/>
<path d="M343.40,69.50 L344.08,69.24 L344.75,68.77 L345.43,68.16 L346.10,67.43 L346.78,66.61 L347.45,65.70 L348.12,64.71 L348.80,63.65 L349.48,62.51 L350.15,61.32 L350.83,60.06 L351.50,58.74 L352.18,57.80 L352.85,57.80 L353.53,57.80 L354.20,57.80 L354.88,57.80 L355.55,57.80 L356.23,57.80 L356.90,57.80 L357.58,57.80 L358.25,57.80 L358.93,57.80 L359.60,57.80 L360.28,57.80 L360.95,57.80 L361.62,57.80 L362.30,57.80 L362.98,57.80 L363.65,57.80 L364.33,57.80 L365.00,57.80 L365.68,57.80 L366.35,57.80 L367.03,57.80 L367.70,58.74 L368.38,60.06 L369.05,61.32 L369.73,62.51 L370.40,63.65 L371.08,64.71 L371.75,65.70 L372.43,66.61 L373.10,67.43 L373.78,68.16 L374.45,68.77 L375.12,69.24 L375.80,69.50 L375.80,69.50 L375.12,69.76 L374.45,70.23 L373.78,70.84 L373.10,71.57 L372.43,72.39 L371.75,73.30 L371.08,74.29 L370.40,75.35 L369.73,76.49 L369.05,77.68 L368.38,78.94 L367.70,80.26 L367.03,81.20 L366.35,81.20 L365.68,81.20 L365.00,81.20 L364.33,81.20 L363.65,81.20 L362.98,81.20 L362.30,81.20 L361.62,81.20 L360.95,81.20 L360.28,81.20 L359.60,81.20 L358.93,81.20 L358.25,81.20 L357.58,81.20 L356.90,81.20 L356.23,81.20 L355.55,81.20 L354.88,81.20 L354.20,81.20 L353.53,81.20 L352.85,81.20 L352.18,81.20 L351.50,80.26 L350.83,78.94 L350.15,77.68 L349.48,76.49 L348.80,75.35 L348.12,74.29 L347.45,73.30 L346.78,72.39 L346.10,71.57 L345.43,70.84 L344.75,70.23 L344.08,69.76 L343.40,69.50Z" fill="#ff0000"/><ellipse cx="359.6" cy="69.5" rx="8.7" ry="23.4" fill="#ff0000" stroke="#303040" stroke-width="0.4"/>
<rect x="288.5" y="40" width="17.8" height="59.2" fill="rgba(5,10,5,0.56)" stroke="#000" stroke-width="0.7"/>
<rect x="323.3" y="40" width="17.8" height="59.2" fill="rgba(5,10,5,0.56)" stroke="#000" stroke-width="0.7"/>
<rect x="358.2" y="40" width="17.8" height="59.2" fill="rgba(5,10,5,0.56)" stroke="#000" stroke-width="0.7"/>
<rect x="281.2" y="40.2" width="17.8" height="59" fill="rgba(205,204,180,0.75)" stroke="#fbfb10" stroke-width="1" stroke-dasharray="3.6 1.4"/>
<rect x="316.1" y="40.2" width="17.8" height="59" fill="rgba(205,204,180,0.75)" stroke="#fbfb10" stroke-width="1" stroke-dasharray="3.6 1.4"/>
<rect x="350.4" y="40.2" width="17.8" height="59" fill="rgba(205,204,180,0.75)" stroke="#fbfb10" stroke-width="1" stroke-dasharray="3.6 1.4"/>
<clipPath id="lb1"><rect x="281.2" y="40.2" width="17.8" height="59"/><rect x="316.1" y="40.2" width="17.8" height="59"/><rect x="350.4" y="40.2" width="17.8" height="59"/></clipPath>
<g clip-path="url(#lb1)" opacity="0.2">
<path d="M274.80,69.50 L275.48,69.24 L276.15,68.77 L276.82,68.16 L277.50,67.43 L278.18,66.61 L278.85,65.70 L279.52,64.71 L280.20,63.65 L280.88,62.51 L281.55,61.32 L282.23,60.06 L282.90,58.74 L283.57,57.80 L284.25,57.80 L284.93,57.80 L285.60,57.80 L286.27,57.80 L286.95,57.80 L287.62,57.80 L288.30,57.80 L288.98,57.80 L289.65,57.80 L290.32,57.80 L291.00,57.80 L291.68,57.80 L292.35,57.80 L293.02,57.80 L293.70,57.80 L294.38,57.80 L295.05,57.80 L295.73,57.80 L296.40,57.80 L297.07,57.80 L297.75,57.80 L298.43,57.80 L299.10,58.74 L299.77,60.06 L300.45,61.32 L301.12,62.51 L301.80,63.65 L302.48,64.71 L303.15,65.70 L303.82,66.61 L304.50,67.43 L305.18,68.16 L305.85,68.77 L306.52,69.24 L307.20,69.50 L307.20,69.50 L306.52,69.76 L305.85,70.23 L305.18,70.84 L304.50,71.57 L303.82,72.39 L303.15,73.30 L302.48,74.29 L301.80,75.35 L301.12,76.49 L300.45,77.68 L299.77,78.94 L299.10,80.26 L298.43,81.20 L297.75,81.20 L297.07,81.20 L296.40,81.20 L295.73,81.20 L295.05,81.20 L294.38,81.20 L293.70,81.20 L293.02,81.20 L292.35,81.20 L291.68,81.20 L291.00,81.20 L290.32,81.20 L289.65,81.20 L288.98,81.20 L288.30,81.20 L287.62,81.20 L286.95,81.20 L286.27,81.20 L285.60,81.20 L284.93,81.20 L284.25,81.20 L283.57,81.20 L282.90,80.26 L282.23,78.94 L281.55,77.68 L280.88,76.49 L280.20,75.35 L279.52,74.29 L278.85,73.30 L278.18,72.39 L277.50,71.57 L276.82,70.84 L276.15,70.23 L275.48,69.76 L274.80,69.50Z" fill="#ff0000"/><ellipse cx="291" cy="69.5" rx="8.7" ry="23.4" fill="#ff0000"/>
<path d="M309.10,69.50 L309.78,69.24 L310.45,68.77 L311.12,68.16 L311.80,67.43 L312.48,66.61 L313.15,65.70 L313.82,64.71 L314.50,63.65 L315.18,62.51 L315.85,61.32 L316.53,60.06 L317.20,58.74 L317.88,57.80 L318.55,57.80 L319.23,57.80 L319.90,57.80 L320.57,57.80 L321.25,57.80 L321.93,57.80 L322.60,57.80 L323.28,57.80 L323.95,57.80 L324.62,57.80 L325.30,57.80 L325.98,57.80 L326.65,57.80 L327.32,57.80 L328.00,57.80 L328.68,57.80 L329.35,57.80 L330.03,57.80 L330.70,57.80 L331.38,57.80 L332.05,57.80 L332.73,57.80 L333.40,58.74 L334.07,60.06 L334.75,61.32 L335.43,62.51 L336.10,63.65 L336.78,64.71 L337.45,65.70 L338.12,66.61 L338.80,67.43 L339.48,68.16 L340.15,68.77 L340.82,69.24 L341.50,69.50 L341.50,69.50 L340.82,69.76 L340.15,70.23 L339.48,70.84 L338.80,71.57 L338.12,72.39 L337.45,73.30 L336.78,74.29 L336.10,75.35 L335.43,76.49 L334.75,77.68 L334.07,78.94 L333.40,80.26 L332.73,81.20 L332.05,81.20 L331.38,81.20 L330.70,81.20 L330.03,81.20 L329.35,81.20 L328.68,81.20 L328.00,81.20 L327.32,81.20 L326.65,81.20 L325.98,81.20 L325.30,81.20 L324.62,81.20 L323.95,81.20 L323.28,81.20 L322.60,81.20 L321.93,81.20 L321.25,81.20 L320.57,81.20 L319.90,81.20 L319.23,81.20 L318.55,81.20 L317.88,81.20 L317.20,80.26 L316.53,78.94 L315.85,77.68 L315.18,76.49 L314.50,75.35 L313.82,74.29 L313.15,73.30 L312.48,72.39 L311.80,71.57 L311.12,70.84 L310.45,70.23 L309.78,69.76 L309.10,69.50Z" fill="#ff0000"/><ellipse cx="325.3" cy="69.5" rx="8.7" ry="23.4" fill="#ff0000"/>
<path d="M343.40,69.50 L344.08,69.24 L344.75,68.77 L345.43,68.16 L346.10,67.43 L346.78,66.61 L347.45,65.70 L348.12,64.71 L348.80,63.65 L349.48,62.51 L350.15,61.32 L350.83,60.06 L351.50,58.74 L352.18,57.80 L352.85,57.80 L353.53,57.80 L354.20,57.80 L354.88,57.80 L355.55,57.80 L356.23,57.80 L356.90,57.80 L357.58,57.80 L358.25,57.80 L358.93,57.80 L359.60,57.80 L360.28,57.80 L360.95,57.80 L361.62,57.80 L362.30,57.80 L362.98,57.80 L363.65,57.80 L364.33,57.80 L365.00,57.80 L365.68,57.80 L366.35,57.80 L367.03,57.80 L367.70,58.74 L368.38,60.06 L369.05,61.32 L369.73,62.51 L370.40,63.65 L371.08,64.71 L371.75,65.70 L372.43,66.61 L373.10,67.43 L373.78,68.16 L374.45,68.77 L375.12,69.24 L375.80,69.50 L375.80,69.50 L375.12,69.76 L374.45,70.23 L373.78,70.84 L373.10,71.57 L372.43,72.39 L371.75,73.30 L371.08,74.29 L370.40,75.35 L369.73,76.49 L369.05,77.68 L368.38,78.94 L367.70,80.26 L367.03,81.20 L366.35,81.20 L365.68,81.20 L365.00,81.20 L364.33,81.20 L363.65,81.20 L362.98,81.20 L362.30,81.20 L361.62,81.20 L360.95,81.20 L360.28,81.20 L359.60,81.20 L358.93,81.20 L358.25,81.20 L357.58,81.20 L356.90,81.20 L356.23,81.20 L355.55,81.20 L354.88,81.20 L354.20,81.20 L353.53,81.20 L352.85,81.20 L352.18,81.20 L351.50,80.26 L350.83,78.94 L350.15,77.68 L349.48,76.49 L348.80,75.35 L348.12,74.29 L347.45,73.30 L346.78,72.39 L346.10,71.57 L345.43,70.84 L344.75,70.23 L344.08,69.76 L343.40,69.50Z" fill="#ff0000"/><ellipse cx="359.6" cy="69.5" rx="8.7" ry="23.4" fill="#ff0000"/>
</g>
<line x1="263" y1="69.5" x2="388" y2="69.5" stroke="#000" stroke-width="1.1"/>
<path d="M393,69.5 L385.5,67.1 L385.5,71.9Z" fill="#000"/>
<line x1="272.9" y1="22" x2="272.9" y2="101.8" stroke="#000" stroke-width="1.5"/>
<path d="M272.9,16 L270.4,23.5 L275.4,23.5Z" fill="#000"/>
<text x="261.6" y="23.9" font-size="10.8" fill="#000" text-anchor="start" font-family='"Liberation Serif","Noto Serif CJK SC",serif' >Y</text>
<text x="384" y="81.5" font-size="10.8" fill="#000" text-anchor="start" font-family='"Liberation Serif","Noto Serif CJK SC",serif' >X</text>
<text x="284.8" y="13.9" font-size="7.7" fill="#000" text-anchor="start" font-family='"Liberation Serif","Noto Serif CJK SC",serif' textLength="82.4" lengthAdjust="spacingAndGlyphs" >The negative direction (-)</text>
<line x1="265" y1="27" x2="304.3" y2="27" stroke="#000" stroke-width="0.8"/>
<path d="M272.4,27 L268.59999999999997,25.3 L268.59999999999997,28.7Z" fill="#000"/>
<path d="M288.9,27 L292.7,25.3 L292.7,28.7Z" fill="#000"/>
<line x1="288.8" y1="23.5" x2="288.8" y2="43" stroke="#000" stroke-width="0.65"/>
<line x1="263" y1="36.2" x2="316.4" y2="36.2" stroke="#000" stroke-width="0.8"/>
<path d="M272.4,36.2 L268.59999999999997,34.5 L268.59999999999997,37.900000000000006Z" fill="#000"/>
<path d="M281.7,36.2 L285.5,34.5 L285.5,37.900000000000006Z" fill="#000"/>
<line x1="281.6" y1="33" x2="281.6" y2="46" stroke="#000" stroke-width="0.65"/>
<text x="298.5" y="25.8" font-size="8" fill="#000" text-anchor="start" font-family='"Liberation Serif","Noto Serif CJK SC",serif' font-style="italic" >x</text>
<text x="294.3" y="35.2" font-size="7.5" fill="#000" text-anchor="start" font-family='"Liberation Serif","Noto Serif CJK SC",serif' textLength="21" lengthAdjust="spacingAndGlyphs" ><tspan font-style="italic">x</tspan>−Δ<tspan font-style="italic">x</tspan></text>
<line x1="337.8" y1="35.7" x2="383.5" y2="35.7" stroke="#000" stroke-width="0.8"/>
<path d="M350.7,35.7 L346.9,34.0 L346.9,37.400000000000006Z" fill="#000"/>
<path d="M358.4,35.7 L362.2,34.0 L362.2,37.400000000000006Z" fill="#000"/>
<line x1="350.7" y1="32.5" x2="350.7" y2="41" stroke="#000" stroke-width="0.65"/>
<line x1="358.4" y1="32.5" x2="358.4" y2="41" stroke="#000" stroke-width="0.65"/>
<text x="367.4" y="34.6" font-size="7.5" fill="#000" text-anchor="start" font-family='"Liberation Serif","Noto Serif CJK SC",serif' >Δ<tspan font-style="italic">x</tspan></text>
<path d="M428.00,70.50 L428.62,70.36 L429.25,69.96 L429.88,69.32 L430.50,68.46 L431.12,67.41 L431.75,66.22 L432.38,64.92 L433.00,63.55 L433.62,62.14 L434.25,60.74 L434.88,59.36 L435.50,58.05 L436.12,56.82 L436.75,55.69 L437.38,54.69 L438.00,53.81 L438.62,53.07 L439.25,52.47 L439.88,52.00 L440.50,51.65 L441.12,51.41 L441.75,51.27 L442.38,51.21 L443.00,51.20 L443.88,51.46 L444.75,52.00 L445.62,52.73 L446.50,53.61 L447.38,54.61 L448.25,55.70 L449.12,56.85 L450.00,58.05 L450.88,59.26 L451.75,60.48 L452.62,61.68 L453.50,62.85 L454.38,63.97 L455.25,65.03 L456.12,66.03 L457.00,66.93 L457.88,67.75 L458.75,68.47 L459.62,69.09 L460.50,69.60 L461.38,69.99 L462.25,70.28 L463.12,70.44 L464.00,70.50 L464.00,70.50 L463.12,70.56 L462.25,70.72 L461.38,71.01 L460.50,71.40 L459.62,71.91 L458.75,72.53 L457.88,73.25 L457.00,74.07 L456.12,74.97 L455.25,75.97 L454.38,77.03 L453.50,78.15 L452.62,79.32 L451.75,80.52 L450.88,81.74 L450.00,82.95 L449.12,84.15 L448.25,85.30 L447.38,86.39 L446.50,87.39 L445.62,88.27 L444.75,89.00 L443.88,89.54 L443.00,89.80 L442.38,89.79 L441.75,89.73 L441.12,89.59 L440.50,89.35 L439.88,89.00 L439.25,88.53 L438.62,87.93 L438.00,87.19 L437.38,86.31 L436.75,85.31 L436.12,84.18 L435.50,82.95 L434.88,81.64 L434.25,80.26 L433.62,78.86 L433.00,77.45 L432.38,76.08 L431.75,74.78 L431.12,73.59 L430.50,72.54 L429.88,71.68 L429.25,71.04 L428.62,70.64 L428.00,70.50Z" fill="#ff0000" stroke="#181818" stroke-width="0.6"/>
<path d="M463.00,70.50 L463.62,70.36 L464.25,69.96 L464.88,69.32 L465.50,68.46 L466.12,67.41 L466.75,66.22 L467.38,64.92 L468.00,63.55 L468.62,62.14 L469.25,60.74 L469.88,59.36 L470.50,58.05 L471.12,56.82 L471.75,55.69 L472.38,54.69 L473.00,53.81 L473.62,53.07 L474.25,52.47 L474.88,52.00 L475.50,51.65 L476.12,51.41 L476.75,51.27 L477.38,51.21 L478.00,51.20 L478.88,51.46 L479.75,52.00 L480.62,52.73 L481.50,53.61 L482.38,54.61 L483.25,55.70 L484.12,56.85 L485.00,58.05 L485.88,59.26 L486.75,60.48 L487.62,61.68 L488.50,62.85 L489.38,63.97 L490.25,65.03 L491.12,66.03 L492.00,66.93 L492.88,67.75 L493.75,68.47 L494.62,69.09 L495.50,69.60 L496.38,69.99 L497.25,70.28 L498.12,70.44 L499.00,70.50 L499.00,70.50 L498.12,70.56 L497.25,70.72 L496.38,71.01 L495.50,71.40 L494.62,71.91 L493.75,72.53 L492.88,73.25 L492.00,74.07 L491.12,74.97 L490.25,75.97 L489.38,77.03 L488.50,78.15 L487.62,79.32 L486.75,80.52 L485.88,81.74 L485.00,82.95 L484.12,84.15 L483.25,85.30 L482.38,86.39 L481.50,87.39 L480.62,88.27 L479.75,89.00 L478.88,89.54 L478.00,89.80 L477.38,89.79 L476.75,89.73 L476.12,89.59 L475.50,89.35 L474.88,89.00 L474.25,88.53 L473.62,87.93 L473.00,87.19 L472.38,86.31 L471.75,85.31 L471.12,84.18 L470.50,82.95 L469.88,81.64 L469.25,80.26 L468.62,78.86 L468.00,77.45 L467.38,76.08 L466.75,74.78 L466.12,73.59 L465.50,72.54 L464.88,71.68 L464.25,71.04 L463.62,70.64 L463.00,70.50Z" fill="#ff0000" stroke="#181818" stroke-width="0.6"/>
<path d="M498.00,70.50 L498.62,70.36 L499.25,69.96 L499.88,69.32 L500.50,68.46 L501.12,67.41 L501.75,66.22 L502.38,64.92 L503.00,63.55 L503.62,62.14 L504.25,60.74 L504.88,59.36 L505.50,58.05 L506.12,56.82 L506.75,55.69 L507.38,54.69 L508.00,53.81 L508.62,53.07 L509.25,52.47 L509.88,52.00 L510.50,51.65 L511.12,51.41 L511.75,51.27 L512.38,51.21 L513.00,51.20 L513.88,51.46 L514.75,52.00 L515.62,52.73 L516.50,53.61 L517.38,54.61 L518.25,55.70 L519.12,56.85 L520.00,58.05 L520.88,59.26 L521.75,60.48 L522.62,61.68 L523.50,62.85 L524.38,63.97 L525.25,65.03 L526.12,66.03 L527.00,66.93 L527.88,67.75 L528.75,68.47 L529.62,69.09 L530.50,69.60 L531.38,69.99 L532.25,70.28 L533.12,70.44 L534.00,70.50 L534.00,70.50 L533.12,70.56 L532.25,70.72 L531.38,71.01 L530.50,71.40 L529.62,71.91 L528.75,72.53 L527.88,73.25 L527.00,74.07 L526.12,74.97 L525.25,75.97 L524.38,77.03 L523.50,78.15 L522.62,79.32 L521.75,80.52 L520.88,81.74 L520.00,82.95 L519.12,84.15 L518.25,85.30 L517.38,86.39 L516.50,87.39 L515.62,88.27 L514.75,89.00 L513.88,89.54 L513.00,89.80 L512.38,89.79 L511.75,89.73 L511.12,89.59 L510.50,89.35 L509.88,89.00 L509.25,88.53 L508.62,87.93 L508.00,87.19 L507.38,86.31 L506.75,85.31 L506.12,84.18 L505.50,82.95 L504.88,81.64 L504.25,80.26 L503.62,78.86 L503.00,77.45 L502.38,76.08 L501.75,74.78 L501.12,73.59 L500.50,72.54 L499.88,71.68 L499.25,71.04 L498.62,70.64 L498.00,70.50Z" fill="#ff0000" stroke="#181818" stroke-width="0.6"/>
<rect x="441.8" y="45.4" width="17.4" height="51" fill="rgba(5,10,5,0.46)" stroke="#000" stroke-width="0.7"/>
<rect x="476.6" y="45.4" width="17.4" height="51" fill="rgba(5,10,5,0.46)" stroke="#000" stroke-width="0.7"/>
<rect x="511.4" y="45.4" width="17.4" height="51" fill="rgba(5,10,5,0.46)" stroke="#000" stroke-width="0.7"/>
<line x1="410.8" y1="70.5" x2="536" y2="70.5" stroke="#000" stroke-width="1.1"/>
<rect x="447.4" y="46.3" width="17.8" height="50.1" fill="rgba(205,204,180,0.75)" stroke="#fbfb10" stroke-width="1" stroke-dasharray="3.6 1.4"/>
<rect x="482.6" y="46.3" width="17.8" height="50.1" fill="rgba(205,204,180,0.75)" stroke="#fbfb10" stroke-width="1" stroke-dasharray="3.6 1.4"/>
<rect x="517.4" y="46.3" width="17.8" height="50.1" fill="rgba(205,204,180,0.75)" stroke="#fbfb10" stroke-width="1" stroke-dasharray="3.6 1.4"/>
<clipPath id="lb2"><rect x="447.4" y="46.3" width="17.8" height="50.1"/><rect x="482.6" y="46.3" width="17.8" height="50.1"/><rect x="517.4" y="46.3" width="17.8" height="50.1"/></clipPath>
<g clip-path="url(#lb2)" opacity="0.2">
<path d="M428.00,70.50 L428.62,70.36 L429.25,69.96 L429.88,69.32 L430.50,68.46 L431.12,67.41 L431.75,66.22 L432.38,64.92 L433.00,63.55 L433.62,62.14 L434.25,60.74 L434.88,59.36 L435.50,58.05 L436.12,56.82 L436.75,55.69 L437.38,54.69 L438.00,53.81 L438.62,53.07 L439.25,52.47 L439.88,52.00 L440.50,51.65 L441.12,51.41 L441.75,51.27 L442.38,51.21 L443.00,51.20 L443.88,51.46 L444.75,52.00 L445.62,52.73 L446.50,53.61 L447.38,54.61 L448.25,55.70 L449.12,56.85 L450.00,58.05 L450.88,59.26 L451.75,60.48 L452.62,61.68 L453.50,62.85 L454.38,63.97 L455.25,65.03 L456.12,66.03 L457.00,66.93 L457.88,67.75 L458.75,68.47 L459.62,69.09 L460.50,69.60 L461.38,69.99 L462.25,70.28 L463.12,70.44 L464.00,70.50 L464.00,70.50 L463.12,70.56 L462.25,70.72 L461.38,71.01 L460.50,71.40 L459.62,71.91 L458.75,72.53 L457.88,73.25 L457.00,74.07 L456.12,74.97 L455.25,75.97 L454.38,77.03 L453.50,78.15 L452.62,79.32 L451.75,80.52 L450.88,81.74 L450.00,82.95 L449.12,84.15 L448.25,85.30 L447.38,86.39 L446.50,87.39 L445.62,88.27 L444.75,89.00 L443.88,89.54 L443.00,89.80 L442.38,89.79 L441.75,89.73 L441.12,89.59 L440.50,89.35 L439.88,89.00 L439.25,88.53 L438.62,87.93 L438.00,87.19 L437.38,86.31 L436.75,85.31 L436.12,84.18 L435.50,82.95 L434.88,81.64 L434.25,80.26 L433.62,78.86 L433.00,77.45 L432.38,76.08 L431.75,74.78 L431.12,73.59 L430.50,72.54 L429.88,71.68 L429.25,71.04 L428.62,70.64 L428.00,70.50Z" fill="#ff0000"/>
<path d="M463.00,70.50 L463.62,70.36 L464.25,69.96 L464.88,69.32 L465.50,68.46 L466.12,67.41 L466.75,66.22 L467.38,64.92 L468.00,63.55 L468.62,62.14 L469.25,60.74 L469.88,59.36 L470.50,58.05 L471.12,56.82 L471.75,55.69 L472.38,54.69 L473.00,53.81 L473.62,53.07 L474.25,52.47 L474.88,52.00 L475.50,51.65 L476.12,51.41 L476.75,51.27 L477.38,51.21 L478.00,51.20 L478.88,51.46 L479.75,52.00 L480.62,52.73 L481.50,53.61 L482.38,54.61 L483.25,55.70 L484.12,56.85 L485.00,58.05 L485.88,59.26 L486.75,60.48 L487.62,61.68 L488.50,62.85 L489.38,63.97 L490.25,65.03 L491.12,66.03 L492.00,66.93 L492.88,67.75 L493.75,68.47 L494.62,69.09 L495.50,69.60 L496.38,69.99 L497.25,70.28 L498.12,70.44 L499.00,70.50 L499.00,70.50 L498.12,70.56 L497.25,70.72 L496.38,71.01 L495.50,71.40 L494.62,71.91 L493.75,72.53 L492.88,73.25 L492.00,74.07 L491.12,74.97 L490.25,75.97 L489.38,77.03 L488.50,78.15 L487.62,79.32 L486.75,80.52 L485.88,81.74 L485.00,82.95 L484.12,84.15 L483.25,85.30 L482.38,86.39 L481.50,87.39 L480.62,88.27 L479.75,89.00 L478.88,89.54 L478.00,89.80 L477.38,89.79 L476.75,89.73 L476.12,89.59 L475.50,89.35 L474.88,89.00 L474.25,88.53 L473.62,87.93 L473.00,87.19 L472.38,86.31 L471.75,85.31 L471.12,84.18 L470.50,82.95 L469.88,81.64 L469.25,80.26 L468.62,78.86 L468.00,77.45 L467.38,76.08 L466.75,74.78 L466.12,73.59 L465.50,72.54 L464.88,71.68 L464.25,71.04 L463.62,70.64 L463.00,70.50Z" fill="#ff0000"/>
<path d="M498.00,70.50 L498.62,70.36 L499.25,69.96 L499.88,69.32 L500.50,68.46 L501.12,67.41 L501.75,66.22 L502.38,64.92 L503.00,63.55 L503.62,62.14 L504.25,60.74 L504.88,59.36 L505.50,58.05 L506.12,56.82 L506.75,55.69 L507.38,54.69 L508.00,53.81 L508.62,53.07 L509.25,52.47 L509.88,52.00 L510.50,51.65 L511.12,51.41 L511.75,51.27 L512.38,51.21 L513.00,51.20 L513.88,51.46 L514.75,52.00 L515.62,52.73 L516.50,53.61 L517.38,54.61 L518.25,55.70 L519.12,56.85 L520.00,58.05 L520.88,59.26 L521.75,60.48 L522.62,61.68 L523.50,62.85 L524.38,63.97 L525.25,65.03 L526.12,66.03 L527.00,66.93 L527.88,67.75 L528.75,68.47 L529.62,69.09 L530.50,69.60 L531.38,69.99 L532.25,70.28 L533.12,70.44 L534.00,70.50 L534.00,70.50 L533.12,70.56 L532.25,70.72 L531.38,71.01 L530.50,71.40 L529.62,71.91 L528.75,72.53 L527.88,73.25 L527.00,74.07 L526.12,74.97 L525.25,75.97 L524.38,77.03 L523.50,78.15 L522.62,79.32 L521.75,80.52 L520.88,81.74 L520.00,82.95 L519.12,84.15 L518.25,85.30 L517.38,86.39 L516.50,87.39 L515.62,88.27 L514.75,89.00 L513.88,89.54 L513.00,89.80 L512.38,89.79 L511.75,89.73 L511.12,89.59 L510.50,89.35 L509.88,89.00 L509.25,88.53 L508.62,87.93 L508.00,87.19 L507.38,86.31 L506.75,85.31 L506.12,84.18 L505.50,82.95 L504.88,81.64 L504.25,80.26 L503.62,78.86 L503.00,77.45 L502.38,76.08 L501.75,74.78 L501.12,73.59 L500.50,72.54 L499.88,71.68 L499.25,71.04 L498.62,70.64 L498.00,70.50Z" fill="#ff0000"/>
</g>
<path d="M540.8,70.5 L533.3,68.1 L533.3,72.9Z" fill="#000"/>
<line x1="425.2" y1="24" x2="425.2" y2="98" stroke="#000" stroke-width="1.5"/>
<path d="M425.2,18.5 L422.7,26 L427.7,26Z" fill="#000"/>
<text x="412.8" y="24.6" font-size="10.8" fill="#000" text-anchor="start" font-family='"Liberation Serif","Noto Serif CJK SC",serif' >Y</text>
<text x="534.2" y="82.1" font-size="10.8" fill="#000" text-anchor="start" font-family='"Liberation Serif","Noto Serif CJK SC",serif' >X</text>
<text x="440.4" y="13.0" font-size="7.7" fill="#000" text-anchor="start" font-family='"Liberation Serif","Noto Serif CJK SC",serif' textLength="82.6" lengthAdjust="spacingAndGlyphs" >The positive direction (+)</text>
<line x1="413" y1="32.2" x2="480.5" y2="32.2" stroke="#000" stroke-width="0.8"/>
<path d="M424.7,32.2 L420.9,30.500000000000004 L420.9,33.900000000000006Z" fill="#000"/>
<path d="M447.8,32.2 L451.6,30.500000000000004 L451.6,33.900000000000006Z" fill="#000"/>
<line x1="447.7" y1="26" x2="447.7" y2="47" stroke="#000" stroke-width="0.65"/>
<line x1="410.7" y1="40.2" x2="469.4" y2="40.2" stroke="#000" stroke-width="0.8"/>
<path d="M424.7,40.2 L420.9,38.5 L420.9,41.900000000000006Z" fill="#000"/>
<path d="M442.8,40.2 L446.6,38.5 L446.6,41.900000000000006Z" fill="#000"/>
<line x1="442.7" y1="36" x2="442.7" y2="50" stroke="#000" stroke-width="0.65"/>
<text x="455.4" y="31" font-size="6.8" fill="#000" text-anchor="start" font-family='"Liberation Serif","Noto Serif CJK SC",serif' textLength="19.5" lengthAdjust="spacingAndGlyphs" ><tspan font-style="italic">x</tspan>+Δ<tspan font-style="italic">x</tspan></text>
<text x="457.5" y="39.2" font-size="8" fill="#000" text-anchor="start" font-family='"Liberation Serif","Noto Serif CJK SC",serif' font-style="italic" >x</text>
<line x1="501.8" y1="40.3" x2="539.5" y2="40.3" stroke="#000" stroke-width="0.8"/>
<path d="M511.4,40.3 L507.59999999999997,38.599999999999994 L507.59999999999997,42.0Z" fill="#000"/>
<path d="M517.2,40.3 L521.0,38.599999999999994 L521.0,42.0Z" fill="#000"/>
<line x1="511.4" y1="36.5" x2="511.4" y2="46" stroke="#000" stroke-width="0.65"/>
<line x1="517.2" y1="36.5" x2="517.2" y2="46" stroke="#000" stroke-width="0.65"/>
<text x="528" y="39.2" font-size="6.5" fill="#000" text-anchor="start" font-family='"Liberation Serif","Noto Serif CJK SC",serif' >Δ<tspan font-style="italic">x</tspan></text>
<rect x="53.0" y="142.5" width="186.5" height="121.0" fill="#fff" stroke="#85858f" stroke-width="1"/>
<line x1="53.0" y1="248.38" x2="239.5" y2="248.38" stroke="#3a3a3a" stroke-width="0.6" stroke-dasharray="0.8 1.9"/>
<line x1="53.0" y1="233.25" x2="239.5" y2="233.25" stroke="#3a3a3a" stroke-width="0.6" stroke-dasharray="0.8 1.9"/>
<line x1="53.0" y1="218.12" x2="239.5" y2="218.12" stroke="#3a3a3a" stroke-width="0.6" stroke-dasharray="0.8 1.9"/>
<line x1="53.0" y1="203.00" x2="239.5" y2="203.00" stroke="#3a3a3a" stroke-width="0.6" stroke-dasharray="0.8 1.9"/>
<line x1="53.0" y1="187.88" x2="239.5" y2="187.88" stroke="#3a3a3a" stroke-width="0.6" stroke-dasharray="0.8 1.9"/>
<line x1="53.0" y1="172.75" x2="239.5" y2="172.75" stroke="#3a3a3a" stroke-width="0.6" stroke-dasharray="0.8 1.9"/>
<line x1="53.0" y1="157.62" x2="239.5" y2="157.62" stroke="#3a3a3a" stroke-width="0.6" stroke-dasharray="0.8 1.9"/>
<line x1="84.08" y1="142.5" x2="84.08" y2="263.5" stroke="#3a3a3a" stroke-width="0.6" stroke-dasharray="0.8 1.9"/>
<line x1="115.17" y1="142.5" x2="115.17" y2="263.5" stroke="#3a3a3a" stroke-width="0.6" stroke-dasharray="0.8 1.9"/>
<line x1="146.25" y1="142.5" x2="146.25" y2="263.5" stroke="#3a3a3a" stroke-width="0.6" stroke-dasharray="0.8 1.9"/>
<line x1="177.33" y1="142.5" x2="177.33" y2="263.5" stroke="#3a3a3a" stroke-width="0.6" stroke-dasharray="0.8 1.9"/>
<line x1="208.42" y1="142.5" x2="208.42" y2="263.5" stroke="#3a3a3a" stroke-width="0.6" stroke-dasharray="0.8 1.9"/>
<text x="47.4" y="266.5" font-size="7.2" fill="#000" text-anchor="end" font-family='"Liberation Serif","Noto Serif CJK SC",serif' >0</text>
<text x="47.4" y="251.375" font-size="7.2" fill="#000" text-anchor="end" font-family='"Liberation Serif","Noto Serif CJK SC",serif' >8000</text>
<text x="47.4" y="236.25" font-size="7.2" fill="#000" text-anchor="end" font-family='"Liberation Serif","Noto Serif CJK SC",serif' >16000</text>
<text x="47.4" y="221.125" font-size="7.2" fill="#000" text-anchor="end" font-family='"Liberation Serif","Noto Serif CJK SC",serif' >24000</text>
<text x="47.4" y="206.0" font-size="7.2" fill="#000" text-anchor="end" font-family='"Liberation Serif","Noto Serif CJK SC",serif' >32000</text>
<text x="47.4" y="190.875" font-size="7.2" fill="#000" text-anchor="end" font-family='"Liberation Serif","Noto Serif CJK SC",serif' >40000</text>
<text x="47.4" y="175.75" font-size="7.2" fill="#000" text-anchor="end" font-family='"Liberation Serif","Noto Serif CJK SC",serif' >48000</text>
<text x="47.4" y="160.625" font-size="7.2" fill="#000" text-anchor="end" font-family='"Liberation Serif","Noto Serif CJK SC",serif' >56000</text>
<text x="47.4" y="145.5" font-size="7.2" fill="#000" text-anchor="end" font-family='"Liberation Serif","Noto Serif CJK SC",serif' >64000</text>
<text x="54.2" y="272" font-size="7.2" fill="#000" text-anchor="middle" font-family='"Liberation Serif","Noto Serif CJK SC",serif' >0</text>
<text x="85.28333333333335" y="272" font-size="7.2" fill="#000" text-anchor="middle" font-family='"Liberation Serif","Noto Serif CJK SC",serif' >0.1</text>
<text x="116.36666666666669" y="272" font-size="7.2" fill="#000" text-anchor="middle" font-family='"Liberation Serif","Noto Serif CJK SC",serif' >0.2</text>
<text x="147.45" y="272" font-size="7.2" fill="#000" text-anchor="middle" font-family='"Liberation Serif","Noto Serif CJK SC",serif' >0.3</text>
<text x="178.53333333333336" y="272" font-size="7.2" fill="#000" text-anchor="middle" font-family='"Liberation Serif","Noto Serif CJK SC",serif' >0.4</text>
<text x="209.61666666666667" y="272" font-size="7.2" fill="#000" text-anchor="middle" font-family='"Liberation Serif","Noto Serif CJK SC",serif' >0.5</text>
<text x="240.70000000000002" y="272" font-size="7.2" fill="#000" text-anchor="middle" font-family='"Liberation Serif","Noto Serif CJK SC",serif' >0.6</text>
<text x="144.8" y="280.9" font-size="7.8" fill="#000" text-anchor="middle" font-family='"Liberation Serif","Noto Serif CJK SC",serif' textLength="59.5" lengthAdjust="spacingAndGlyphs" >Displacement/mm</text>
<text transform="translate(19.8,203.7) rotate(-90)" font-size="8" text-anchor="middle" font-family='"Liberation Serif","Noto Serif CJK SC",serif' textLength="60" lengthAdjust="spacingAndGlyphs">luminous flux/lm</text>
<text x="145.3" y="291.8" font-size="10.6" fill="#000" text-anchor="middle" font-family='"Liberation Serif","Noto Serif CJK SC",serif' font-weight="bold" >(c)</text>
<path d="M53.00,164.06 L54.55,164.07 L56.11,164.20 L57.66,164.43 L59.22,164.78 L60.77,165.24 L62.33,165.81 L63.88,166.49 L65.43,167.27 L66.99,168.16 L68.54,169.15 L70.10,170.24 L71.65,171.42 L73.20,172.70 L74.76,174.07 L76.31,175.52 L77.87,177.06 L79.42,178.67 L80.97,180.35 L82.53,182.11 L84.08,183.92 L85.64,185.80 L87.19,187.73 L88.75,189.71 L90.30,191.73 L91.85,193.79 L93.41,195.88 L94.96,198.00 L96.52,200.14 L98.07,202.29 L99.62,204.45 L101.18,206.62 L102.73,208.78 L104.29,210.93 L105.84,213.07 L107.40,215.19 L108.95,217.28 L110.50,219.34 L112.06,221.36 L113.61,223.34 L115.17,225.27 L116.72,227.14 L118.28,228.96 L119.83,230.71 L121.38,232.40 L122.94,234.01 L124.49,235.55 L126.05,237.00 L127.60,238.36 L129.15,239.64 L130.71,240.83 L132.26,241.92 L133.82,242.91 L135.37,243.79 L136.92,244.58 L138.48,245.26 L140.03,245.82 L141.59,246.28 L143.14,246.63 L144.70,246.87 L146.25,246.99 L147.80,247.00 L149.36,246.90 L150.91,246.69 L152.47,246.36 L154.02,245.93 L155.57,245.38 L157.13,244.72 L158.68,243.96 L160.24,243.09 L161.79,242.12 L163.35,241.05 L164.90,239.89 L166.45,238.63 L168.01,237.28 L169.56,235.84 L171.12,234.32 L172.67,232.73 L174.22,231.06 L175.78,229.32 L177.33,227.51 L178.89,225.65 L180.44,223.73 L182.00,221.76 L183.55,219.74 L185.10,217.69 L186.66,215.61 L188.21,213.49 L189.77,211.36 L191.32,209.21 L192.88,207.05 L194.43,204.88 L195.98,202.72 L197.54,200.57 L199.09,198.43 L200.65,196.30 L202.20,194.21 L203.75,192.14 L205.31,190.11 L206.86,188.12 L208.42,186.18 L209.97,184.30 L211.53,182.47 L213.08,180.70 L214.63,179.00 L216.19,177.37 L217.74,175.82 L219.30,174.35 L220.85,172.97 L222.40,171.67 L223.96,170.47 L225.51,169.36 L227.07,168.35 L228.62,167.44 L230.17,166.64 L231.73,165.94 L233.28,165.35 L234.84,164.87 L236.39,164.50 L237.95,164.24 L239.50,164.09" fill="none" stroke="#1edcec" stroke-width="1"/>
<path d="M53.00,205.62 L54.55,203.47 L56.11,201.32 L57.66,199.19 L59.22,197.08 L60.77,195.00 L62.33,192.95 L63.88,190.93 L65.43,188.96 L66.99,187.04 L68.54,185.17 L70.10,183.35 L71.65,181.60 L73.20,179.91 L74.76,178.30 L76.31,176.76 L77.87,175.30 L79.42,173.93 L80.97,172.64 L82.53,171.45 L84.08,170.34 L85.64,169.34 L87.19,168.43 L88.75,167.63 L90.30,166.93 L91.85,166.33 L93.41,165.85 L94.96,165.47 L96.52,165.20 L98.07,165.05 L99.62,165.00 L101.18,165.06 L102.73,165.24 L104.29,165.53 L105.84,165.92 L107.40,166.42 L108.95,167.04 L110.50,167.75 L112.06,168.57 L113.61,169.50 L115.17,170.52 L116.72,171.64 L118.28,172.85 L119.83,174.15 L121.38,175.54 L122.94,177.01 L124.49,178.56 L126.05,180.19 L127.60,181.88 L129.15,183.65 L130.71,185.47 L132.26,187.35 L133.82,189.28 L135.37,191.26 L136.92,193.29 L138.48,195.34 L140.03,197.43 L141.59,199.54 L143.14,201.68 L144.70,203.82 L146.25,205.98 L147.80,208.13 L149.36,210.29 L150.91,212.43 L152.47,214.56 L154.02,216.67 L155.57,218.75 L157.13,220.80 L158.68,222.82 L160.24,224.79 L161.79,226.71 L163.35,228.59 L164.90,230.40 L166.45,232.15 L168.01,233.84 L169.56,235.45 L171.12,236.99 L172.67,238.45 L174.22,239.82 L175.78,241.11 L177.33,242.31 L178.89,243.41 L180.44,244.41 L182.00,245.32 L183.55,246.12 L185.10,246.82 L186.66,247.42 L188.21,247.90 L189.77,248.28 L191.32,248.55 L192.88,248.71 L194.43,248.75 L195.98,248.69 L197.54,248.51 L199.09,248.23 L200.65,247.83 L202.20,247.33 L203.75,246.72 L205.31,246.00 L206.86,245.18 L208.42,244.25 L209.97,243.23 L211.53,242.12 L213.08,240.90 L214.63,239.60 L216.19,238.21 L217.74,236.74 L219.30,235.19 L220.85,233.57 L222.40,231.87 L223.96,230.11 L225.51,228.28 L227.07,226.40 L228.62,224.47 L230.17,222.49 L231.73,220.47 L233.28,218.41 L234.84,216.32 L236.39,214.21 L237.95,212.08 L239.50,209.93" fill="none" stroke="#ff4a4a" stroke-width="1"/>
<path d="M53.00,248.92 L54.52,248.93 L56.05,248.84 L57.57,248.65 L59.09,248.35 L60.62,247.95 L62.14,247.45 L63.66,246.85 L65.18,246.15 L66.71,245.35 L68.23,244.46 L69.75,243.48 L71.28,242.41 L72.80,241.25 L74.32,240.01 L75.85,238.69 L77.37,237.29 L78.89,235.81 L80.42,234.27 L81.94,232.66 L83.46,230.99 L84.98,229.26 L86.51,227.47 L88.03,225.64 L89.55,223.76 L91.08,221.85 L92.60,219.90 L94.12,217.92 L95.65,215.91 L97.17,213.89 L98.69,211.85 L100.22,209.80 L101.74,207.75 L103.26,205.70 L104.78,203.66 L106.31,201.62 L107.83,199.61 L109.35,197.62 L110.88,195.65 L112.40,193.72 L113.92,191.82 L115.45,189.97 L116.97,188.16 L118.49,186.41 L120.02,184.71 L121.54,183.07 L123.06,181.49 L124.58,179.98 L126.11,178.55 L127.63,177.19 L129.15,175.91 L130.68,174.71 L132.20,173.60 L133.72,172.57 L135.25,171.64 L136.77,170.80 L138.29,170.06 L139.82,169.41 L141.34,168.86 L142.86,168.41 L144.38,168.07 L145.91,167.82 L147.43,167.68 L148.95,167.65 L150.48,167.71 L152.00,167.88 L153.52,168.16 L155.05,168.53 L156.57,169.01 L158.09,169.58 L159.62,170.26 L161.14,171.03 L162.66,171.90 L164.19,172.86 L165.71,173.91 L167.23,175.04 L168.75,176.27 L170.28,177.57 L171.80,178.95 L173.32,180.41 L174.85,181.93 L176.37,183.53 L177.89,185.19 L179.42,186.90 L180.94,188.67 L182.46,190.50 L183.99,192.36 L185.51,194.27 L187.03,196.21 L188.55,198.18 L190.08,200.18 L191.60,202.20 L193.12,204.24 L194.65,206.28 L196.17,208.34 L197.69,210.39 L199.22,212.43 L200.74,214.47 L202.26,216.49 L203.79,218.48 L205.31,220.46 L206.83,222.40 L208.35,224.30 L209.88,226.17 L211.40,227.99 L212.92,229.76 L214.45,231.47 L215.97,233.12 L217.49,234.72 L219.02,236.24 L220.54,237.69 L222.06,239.07 L223.59,240.37 L225.11,241.59 L226.63,242.73 L228.15,243.77 L229.68,244.73 L231.20,245.59 L232.72,246.36 L234.25,247.03 L235.77,247.60" fill="none" stroke="#30aa40" stroke-width="1"/>
<path d="M53.00,208.31 L54.55,210.40 L56.11,212.48 L57.66,214.56 L59.22,216.62 L60.77,218.66 L62.33,220.68 L63.88,222.67 L65.43,224.62 L66.99,226.52 L68.54,228.39 L70.10,230.20 L71.65,231.96 L73.20,233.65 L74.76,235.28 L76.31,236.84 L77.87,238.33 L79.42,239.74 L80.97,241.07 L82.53,242.32 L84.08,243.47 L85.64,244.54 L87.19,245.51 L88.75,246.39 L90.30,247.16 L91.85,247.84 L93.41,248.41 L94.96,248.88 L96.52,249.25 L98.07,249.50 L99.62,249.65 L101.18,249.70 L102.73,249.63 L104.29,249.46 L105.84,249.18 L107.40,248.80 L108.95,248.31 L110.50,247.71 L112.06,247.02 L113.61,246.22 L115.17,245.33 L116.72,244.33 L118.28,243.25 L119.83,242.08 L121.38,240.81 L122.94,239.47 L124.49,238.04 L126.05,236.54 L127.60,234.96 L129.15,233.32 L130.71,231.61 L132.26,229.84 L133.82,228.02 L135.37,226.15 L136.92,224.23 L138.48,222.27 L140.03,220.28 L141.59,218.26 L143.14,216.21 L144.70,214.14 L146.25,212.07 L147.80,209.98 L149.36,207.89 L150.91,205.81 L152.47,203.73 L154.02,201.67 L155.57,199.63 L157.13,197.61 L158.68,195.62 L160.24,193.67 L161.79,191.76 L163.35,189.90 L164.90,188.09 L166.45,186.33 L168.01,184.64 L169.56,183.01 L171.12,181.44 L172.67,179.96 L174.22,178.55 L175.78,177.22 L177.33,175.97 L178.89,174.81 L180.44,173.75 L182.00,172.78 L183.55,171.90 L185.10,171.12 L186.66,170.45 L188.21,169.88 L189.77,169.41 L191.32,169.04 L192.88,168.78 L194.43,168.63 L195.98,168.59 L197.54,168.66 L199.09,168.83 L200.65,169.11 L202.20,169.49 L203.75,169.98 L205.31,170.58 L206.86,171.27 L208.42,172.07 L209.97,172.96 L211.53,173.95 L213.08,175.04 L214.63,176.21 L216.19,177.48 L217.74,178.82 L219.30,180.25 L220.85,181.75 L222.40,183.33 L223.96,184.97 L225.51,186.68 L227.07,188.45 L228.62,190.27 L230.17,192.14 L231.73,194.06 L233.28,196.02 L234.84,198.01 L236.39,200.03 L237.95,202.08 L239.50,204.14" fill="none" stroke="#4040ff" stroke-width="1"/>
<line x1="53.0" y1="134" x2="53.0" y2="263.5" stroke="#8a3cc8" stroke-width="1.3" stroke-dasharray="8 3.5"/>
<line x1="100.4" y1="134" x2="100.4" y2="263.5" stroke="#8a3cc8" stroke-width="1.3" stroke-dasharray="8 3.5"/>
<line x1="145.4" y1="134" x2="145.4" y2="263.5" stroke="#8a3cc8" stroke-width="1.3" stroke-dasharray="8 3.5"/>
<line x1="195.0" y1="134" x2="195.0" y2="263.5" stroke="#8a3cc8" stroke-width="1.3" stroke-dasharray="8 3.5"/>
<text x="51.4" y="131.4" font-size="7.2" fill="#000" text-anchor="start" font-family='"Liberation Serif","Noto Serif CJK SC",serif' >0<tspan font-size="6.2" dx="-0.4">（</tspan>0<tspan font-size="6.2" dx="1.5">）</tspan></text>
<text x="91.2" y="131.4" font-size="7.2" fill="#000" text-anchor="start" font-family='"Liberation Serif","Noto Serif CJK SC",serif' ><tspan font-style="italic" font-size="8.6">π</tspan></text>
<text x="101" y="131.4" font-size="7.2" fill="#000" text-anchor="start" font-family='"Liberation Serif","Noto Serif CJK SC",serif' >/2<tspan font-size="6.2" dx="-0.4">（</tspan>0.16<tspan font-size="6.2" dx="1.5">）</tspan></text>
<text x="142.4" y="131.4" font-size="7.2" fill="#000" text-anchor="start" font-family='"Liberation Serif","Noto Serif CJK SC",serif' ><tspan font-style="italic" font-size="8.6">π</tspan></text>
<text x="147.2" y="131.4" font-size="7.2" fill="#000" text-anchor="start" font-family='"Liberation Serif","Noto Serif CJK SC",serif' ><tspan font-size="6.2" dx="-0.4">（</tspan>0.31<tspan font-size="6.2" dx="1.5">）</tspan></text>
<text x="185.4" y="131.4" font-size="7.2" fill="#000" text-anchor="start" font-family='"Liberation Serif","Noto Serif CJK SC",serif' >3</text>
<text x="189.4" y="131.4" font-size="7.2" fill="#000" text-anchor="start" font-family='"Liberation Serif","Noto Serif CJK SC",serif' ><tspan font-style="italic" font-size="8.6">π</tspan></text>
<text x="195.6" y="131.4" font-size="7.2" fill="#000" text-anchor="start" font-family='"Liberation Serif","Noto Serif CJK SC",serif' >/2<tspan font-size="6.2" dx="-0.4">（</tspan>0.46<tspan font-size="6.2" dx="1.5">）</tspan></text>
<rect x="53.6" y="147.2" width="41" height="14" fill="#fafae8" stroke="#ececd8" stroke-width="0.3"/>
<text x="55.4" y="153.39999999999998" font-size="6.9" fill="#000" text-anchor="start" font-family='"Liberation Serif","Noto Serif CJK SC",serif' >X: 0.01</text>
<text x="77.3" y="153.39999999999998" font-size="7.3" fill="#ff2a2a" text-anchor="start" font-family='"Liberation Serif","Noto Serif CJK SC",serif' ><tspan font-size="5.6">（</tspan>0<tspan font-size="5.6" dx="1.2">）</tspan></text>
<text x="55.4" y="159.6" font-size="6.9" fill="#000" text-anchor="start" font-family='"Liberation Serif","Noto Serif CJK SC",serif' >Y: 50483</text>
<rect x="50.8" y="162" width="4" height="4" fill="#000"/>
<rect x="99.4" y="149" width="46.6" height="13.4" fill="#fafae8" stroke="#ececd8" stroke-width="0.3"/>
<text x="101.2" y="155.2" font-size="6.9" fill="#000" text-anchor="start" font-family='"Liberation Serif","Noto Serif CJK SC",serif' >X: 0.15</text>
<text x="121.8" y="155.2" font-size="7.3" fill="#ff2a2a" text-anchor="start" font-family='"Liberation Serif","Noto Serif CJK SC",serif' ><tspan font-size="5.6">（</tspan>-0.01<tspan font-size="5.6" dx="1.2">）</tspan></text>
<text x="101.2" y="161.4" font-size="6.9" fill="#000" text-anchor="start" font-family='"Liberation Serif","Noto Serif CJK SC",serif' >Y: 49971</text>
<rect x="97.2" y="163" width="4" height="4" fill="#000"/>
<rect x="147.4" y="151" width="35.6" height="15" fill="#fafae8" stroke="#ececd8" stroke-width="0.3"/>
<text x="149.20000000000002" y="157.2" font-size="6.9" fill="#000" text-anchor="start" font-family='"Liberation Serif","Noto Serif CJK SC",serif' >X: 0.31</text>
<text x="169.2" y="157.2" font-size="7.3" fill="#ff2a2a" text-anchor="start" font-family='"Liberation Serif","Noto Serif CJK SC",serif' ><tspan font-size="5.6">（</tspan>0<tspan font-size="5.6" dx="1.2">）</tspan></text>
<text x="149.20000000000002" y="163.4" font-size="6.9" fill="#000" text-anchor="start" font-family='"Liberation Serif","Noto Serif CJK SC",serif' >Y: 49898</text>
<rect x="143.6" y="165.6" width="4" height="4" fill="#000"/>
<rect x="163" y="171.6" width="32" height="13.6" fill="#fafae8" stroke="#ececd8" stroke-width="0.3"/>
<text x="164.8" y="177.79999999999998" font-size="6.9" fill="#000" text-anchor="start" font-family='"Liberation Serif","Noto Serif CJK SC",serif' >X: 0.46</text>
<text x="188" y="177.79999999999998" font-size="7.3" fill="#ff2a2a" text-anchor="start" font-family='"Liberation Serif","Noto Serif CJK SC",serif' ><tspan font-size="5.6">（</tspan>0<tspan font-size="5.6" dx="1.2">）</tspan></text>
<text x="164.8" y="184.0" font-size="6.9" fill="#000" text-anchor="start" font-family='"Liberation Serif","Noto Serif CJK SC",serif' >Y: 49882</text>
<rect x="193" y="166.6" width="4" height="4" fill="#000"/>
<line x1="201" y1="149.7" x2="218" y2="149.7" stroke="#1edcec" stroke-width="0.8"/>
<text x="221.8" y="152.2" font-size="7.4" fill="#000" text-anchor="start" font-family='"Liberation Serif","Noto Serif CJK SC",serif' >0°</text>
<line x1="201" y1="157.6" x2="218" y2="157.6" stroke="#30aa40" stroke-width="0.8"/>
<text x="221.8" y="160.1" font-size="7.4" fill="#000" text-anchor="start" font-family='"Liberation Serif","Noto Serif CJK SC",serif' >180°</text>
<line x1="201" y1="165.3" x2="218" y2="165.3" stroke="#ff4a4a" stroke-width="0.8"/>
<text x="221.8" y="167.8" font-size="7.4" fill="#000" text-anchor="start" font-family='"Liberation Serif","Noto Serif CJK SC",serif' >90°</text>
<line x1="201" y1="173.2" x2="218" y2="173.2" stroke="#4040ff" stroke-width="0.8"/>
<text x="221.8" y="175.7" font-size="7.4" fill="#000" text-anchor="start" font-family='"Liberation Serif","Noto Serif CJK SC",serif' >270°</text>
<rect x="313.3" y="141.8" width="187.7" height="118.1" fill="#fff" stroke="#808080" stroke-width="0.9"/>
<line x1="332.07" y1="141.8" x2="332.07" y2="259.9" stroke="#555" stroke-width="0.6" stroke-dasharray="0.8 1.7"/>
<line x1="350.84" y1="141.8" x2="350.84" y2="259.9" stroke="#555" stroke-width="0.6" stroke-dasharray="0.8 1.7"/>
<line x1="369.61" y1="141.8" x2="369.61" y2="259.9" stroke="#555" stroke-width="0.6" stroke-dasharray="0.8 1.7"/>
<line x1="388.38" y1="141.8" x2="388.38" y2="259.9" stroke="#555" stroke-width="0.6" stroke-dasharray="0.8 1.7"/>
<line x1="407.15" y1="141.8" x2="407.15" y2="259.9" stroke="#555" stroke-width="0.6" stroke-dasharray="0.8 1.7"/>
<line x1="425.92" y1="141.8" x2="425.92" y2="259.9" stroke="#555" stroke-width="0.6" stroke-dasharray="0.8 1.7"/>
<line x1="444.69" y1="141.8" x2="444.69" y2="259.9" stroke="#555" stroke-width="0.6" stroke-dasharray="0.8 1.7"/>
<line x1="463.46" y1="141.8" x2="463.46" y2="259.9" stroke="#555" stroke-width="0.6" stroke-dasharray="0.8 1.7"/>
<line x1="482.23" y1="141.8" x2="482.23" y2="259.9" stroke="#555" stroke-width="0.6" stroke-dasharray="0.8 1.7"/>
<line x1="313.3" y1="245.14" x2="501.0" y2="245.14" stroke="#555" stroke-width="0.6" stroke-dasharray="0.8 1.7"/>
<line x1="313.3" y1="230.38" x2="501.0" y2="230.38" stroke="#555" stroke-width="0.6" stroke-dasharray="0.8 1.7"/>
<line x1="313.3" y1="215.61" x2="501.0" y2="215.61" stroke="#555" stroke-width="0.6" stroke-dasharray="0.8 1.7"/>
<line x1="313.3" y1="200.85" x2="501.0" y2="200.85" stroke="#555" stroke-width="0.6" stroke-dasharray="0.8 1.7"/>
<line x1="313.3" y1="186.09" x2="501.0" y2="186.09" stroke="#555" stroke-width="0.6" stroke-dasharray="0.8 1.7"/>
<line x1="313.3" y1="171.32" x2="501.0" y2="171.32" stroke="#555" stroke-width="0.6" stroke-dasharray="0.8 1.7"/>
<line x1="313.3" y1="156.56" x2="501.0" y2="156.56" stroke="#555" stroke-width="0.6" stroke-dasharray="0.8 1.7"/>
<g fill="none" stroke-width="0.72">
<path d="M313.3,165.7 L315.6,165.8 L318.0,166.2 L320.3,166.8 L322.7,167.6 L325.0,168.5 L327.4,169.6 L329.7,171.0 L332.1,172.7 L334.4,174.4 L336.8,176.2 L339.1,178.3 L341.5,180.8 L343.8,183.3 L346.1,185.9 L348.5,188.7 L350.8,191.8 L353.2,195.1 L355.5,198.5 L357.9,201.9 L360.2,205.3 L362.6,208.9 L364.9,212.4 L367.3,215.8 L369.6,219.2 L372.0,222.4 L374.3,225.6 L376.6,228.6 L379.0,231.4 L381.3,233.9 L383.7,236.3 L386.0,238.4 L388.4,240.3 L390.7,241.9 L393.1,243.3 L395.4,244.5 L397.8,245.4 L400.1,246.1 L402.5,246.6 L404.8,246.8 L407.1,246.9 L409.5,246.7 L411.8,246.4 L414.2,245.8 L416.5,245.0 L418.9,244.1 L421.2,242.9 L423.6,241.5 L425.9,240.0 L428.3,238.2 L430.6,236.1 L433.0,233.9 L435.3,231.5 L437.7,228.9 L440.0,226.2 L442.3,223.3 L444.7,220.3 L447.0,217.3 L449.4,214.1 L451.7,211.0 L454.1,207.7 L456.4,204.5 L458.8,201.2 L461.1,198.1 L463.5,195.0 L465.8,192.0 L468.2,189.1 L470.5,186.5 L472.8,184.0 L475.2,181.6 L477.5,179.3 L479.9,177.2 L482.2,175.2 L484.6,173.5 L486.9,171.9 L489.3,170.6 L491.6,169.4 L494.0,168.3 L496.3,167.3 L498.7,166.5 L501.0,166.2" stroke="#2828ff"/>
<path d="M313.3,167.4 L315.6,167.8 L318.0,168.4 L320.3,169.3 L322.7,170.4 L325.0,171.6 L327.4,172.8 L329.7,174.5 L332.1,176.4 L334.4,178.2 L336.8,180.2 L339.1,182.5 L341.5,185.1 L343.8,187.7 L346.1,190.4 L348.5,193.3 L350.8,196.4 L353.2,199.7 L355.5,203.0 L357.9,206.4 L360.2,209.8 L362.6,213.3 L364.9,216.7 L367.3,220.0 L369.6,223.2 L372.0,226.3 L374.3,229.3 L376.6,232.1 L379.0,234.6 L381.3,236.9 L383.7,239.0 L386.0,240.9 L388.4,242.5 L390.7,243.9 L393.1,245.0 L395.4,245.9 L397.8,246.5 L400.1,246.9 L402.5,247.1 L404.8,247.1 L407.1,246.8 L409.5,246.4 L411.8,245.8 L414.2,245.0 L416.5,243.9 L418.9,242.7 L421.2,241.3 L423.6,239.8 L425.9,238.0 L428.3,236.0 L430.6,233.8 L433.0,231.5 L435.3,229.0 L437.7,226.3 L440.0,223.4 L442.3,220.5 L444.7,217.5 L447.0,214.5 L449.4,211.4 L451.7,208.2 L454.1,205.1 L456.4,201.9 L458.8,198.8 L461.1,195.7 L463.5,192.8 L465.8,190.0 L468.2,187.3 L470.5,184.8 L472.8,182.5 L475.2,180.4 L477.5,178.3 L479.9,176.5 L482.2,174.7 L484.6,173.2 L486.9,171.9 L489.3,170.9 L491.6,170.0 L494.0,169.1 L496.3,168.4 L498.7,167.9 L501.0,167.9" stroke="#ff3838"/>
<path d="M313.3,167.3 L315.6,168.0 L318.0,168.9 L320.3,170.0 L322.7,171.4 L325.0,172.8 L327.4,174.4 L329.7,176.2 L332.1,178.3 L334.4,180.4 L336.8,182.6 L339.1,185.0 L341.5,187.8 L343.8,190.5 L346.1,193.3 L348.5,196.3 L350.8,199.5 L353.2,202.8 L355.5,206.2 L357.9,209.6 L360.2,213.0 L362.6,216.4 L364.9,219.7 L367.3,222.9 L369.6,226.0 L372.0,229.0 L374.3,231.8 L376.6,234.4 L379.0,236.8 L381.3,238.9 L383.7,240.8 L386.0,242.4 L388.4,243.8 L390.7,244.9 L393.1,245.7 L395.4,246.3 L397.8,246.7 L400.1,246.8 L402.5,246.7 L404.8,246.4 L407.1,245.9 L409.5,245.2 L411.8,244.3 L414.2,243.2 L416.5,242.0 L418.9,240.5 L421.2,238.9 L423.6,237.1 L425.9,235.1 L428.3,232.9 L430.6,230.5 L433.0,228.0 L435.3,225.4 L437.7,222.5 L440.0,219.6 L442.3,216.6 L444.7,213.5 L447.0,210.5 L449.4,207.4 L451.7,204.2 L454.1,201.1 L456.4,198.0 L458.8,194.9 L461.1,192.0 L463.5,189.1 L465.8,186.4 L468.2,183.9 L470.5,181.6 L472.8,179.5 L475.2,177.5 L477.5,175.7 L479.9,174.0 L482.2,172.6 L484.6,171.3 L486.9,170.2 L489.3,169.4 L491.6,168.8 L494.0,168.2 L496.3,167.8 L498.7,167.6 L501.0,167.9" stroke="#22e4f0"/>
<path d="M313.3,165.9 L315.6,166.9 L318.0,168.1 L320.3,169.5 L322.7,171.2 L325.0,172.9 L327.4,174.7 L329.7,176.8 L332.1,179.1 L334.4,181.5 L336.8,183.9 L339.1,186.6 L341.5,189.5 L343.8,192.4 L346.1,195.4 L348.5,198.5 L350.8,201.9 L353.2,205.3 L355.5,208.7 L357.9,212.2 L360.2,215.6 L362.6,219.0 L364.9,222.3 L367.3,225.5 L369.6,228.5 L372.0,231.4 L374.3,234.1 L376.6,236.6 L379.0,238.8 L381.3,240.7 L383.7,242.4 L386.0,243.8 L388.4,244.9 L390.7,245.8 L393.1,246.4 L395.4,246.7 L397.8,246.8 L400.1,246.7 L402.5,246.3 L404.8,245.7 L407.1,244.9 L409.5,243.9 L411.8,242.7 L414.2,241.3 L416.5,239.8 L418.9,238.0 L421.2,236.1 L423.6,234.1 L425.9,231.8 L428.3,229.4 L430.6,226.8 L433.0,224.1 L435.3,221.2 L437.7,218.2 L440.0,215.1 L442.3,212.0 L444.7,208.8 L447.0,205.7 L449.4,202.5 L451.7,199.3 L454.1,196.2 L456.4,193.1 L458.8,190.0 L461.1,187.1 L463.5,184.4 L465.8,181.8 L468.2,179.4 L470.5,177.2 L472.8,175.2 L475.2,173.4 L477.5,171.7 L479.9,170.3 L482.2,169.0 L484.6,167.9 L486.9,167.1 L489.3,166.6 L491.6,166.2 L494.0,165.9 L496.3,165.7 L498.7,165.9 L501.0,166.4" stroke="#f4f020"/>
<path d="M313.3,167.0 L315.6,168.2 L318.0,169.7 L320.3,171.3 L322.7,173.2 L325.0,175.2 L327.4,177.2 L329.7,179.6 L332.1,182.1 L334.4,184.6 L336.8,187.1 L339.1,190.0 L341.5,193.0 L343.8,196.0 L346.1,199.1 L348.5,202.3 L350.8,205.6 L353.2,209.0 L355.5,212.5 L357.9,215.9 L360.2,219.2 L362.6,222.6 L364.9,225.7 L367.3,228.8 L369.6,231.6 L372.0,234.4 L374.3,236.8 L376.6,239.1 L379.0,241.1 L381.3,242.8 L383.7,244.2 L386.0,245.3 L388.4,246.2 L390.7,246.8 L393.1,247.1 L395.4,247.1 L397.8,246.9 L400.1,246.5 L402.5,245.8 L404.8,245.0 L407.1,243.9 L409.5,242.6 L411.8,241.2 L414.2,239.5 L416.5,237.7 L418.9,235.7 L421.2,233.6 L423.6,231.4 L425.9,228.9 L428.3,226.3 L430.6,223.6 L433.0,220.7 L435.3,217.8 L437.7,214.7 L440.0,211.5 L442.3,208.3 L444.7,205.2 L447.0,202.0 L449.4,198.9 L451.7,195.8 L454.1,192.7 L456.4,189.7 L458.8,186.8 L461.1,184.0 L463.5,181.4 L465.8,179.0 L468.2,176.8 L470.5,174.8 L472.8,173.0 L475.2,171.4 L477.5,170.0 L479.9,168.8 L482.2,167.8 L484.6,167.0 L486.9,166.5 L489.3,166.2 L491.6,166.1 L494.0,166.1 L496.3,166.2 L498.7,166.6 L501.0,167.4" stroke="#383838"/>
<path d="M313.3,168.6 L315.6,170.1 L318.0,171.8 L320.3,173.7 L322.7,175.9 L325.0,178.0 L327.4,180.3 L329.7,182.8 L332.1,185.5 L334.4,188.1 L336.8,190.9 L339.1,193.8 L341.5,196.9 L343.8,200.0 L346.1,203.2 L348.5,206.4 L350.8,209.7 L353.2,213.1 L355.5,216.5 L357.9,219.8 L360.2,223.1 L362.6,226.3 L364.9,229.4 L367.3,232.2 L369.6,235.0 L372.0,237.5 L374.3,239.7 L376.6,241.8 L379.0,243.5 L381.3,244.9 L383.7,246.1 L386.0,247.0 L388.4,247.6 L390.7,247.9 L393.1,247.9 L395.4,247.6 L397.8,247.1 L400.1,246.4 L402.5,245.5 L404.8,244.3 L407.1,243.0 L409.5,241.4 L411.8,239.7 L414.2,237.8 L416.5,235.8 L418.9,233.6 L421.2,231.3 L423.6,228.8 L425.9,226.2 L428.3,223.4 L430.6,220.6 L433.0,217.6 L435.3,214.5 L437.7,211.4 L440.0,208.2 L442.3,205.0 L444.7,201.8 L447.0,198.7 L449.4,195.7 L451.7,192.7 L454.1,189.7 L456.4,186.8 L458.8,184.0 L461.1,181.4 L463.5,178.9 L465.8,176.7 L468.2,174.7 L470.5,172.9 L472.8,171.4 L475.2,170.0 L477.5,168.9 L479.9,167.9 L482.2,167.1 L484.6,166.6 L486.9,166.4 L489.3,166.4 L491.6,166.6 L494.0,166.8 L496.3,167.2 L498.7,167.9 L501.0,169.0" stroke="#2828ff"/>
<path d="M313.3,171.8 L315.6,173.5 L318.0,175.4 L320.3,177.5 L322.7,179.8 L325.0,182.0 L327.4,184.4 L329.7,187.0 L332.1,189.7 L334.4,192.3 L336.8,195.1 L339.1,198.0 L341.5,201.1 L343.8,204.1 L346.1,207.1 L348.5,210.2 L350.8,213.4 L353.2,216.7 L355.5,219.9 L357.9,223.0 L360.2,226.1 L362.6,229.0 L364.9,231.8 L367.3,234.4 L369.6,236.9 L372.0,239.1 L374.3,241.0 L376.6,242.7 L379.0,244.2 L381.3,245.3 L383.7,246.2 L386.0,246.7 L388.4,247.0 L390.7,247.0 L393.1,246.7 L395.4,246.2 L397.8,245.5 L400.1,244.5 L402.5,243.3 L404.8,241.9 L407.1,240.4 L409.5,238.7 L411.8,236.8 L414.2,234.7 L416.5,232.5 L418.9,230.2 L421.2,227.8 L423.6,225.3 L425.9,222.7 L428.3,219.9 L430.6,217.0 L433.0,214.1 L435.3,211.0 L437.7,207.9 L440.0,204.9 L442.3,201.8 L444.7,198.8 L447.0,195.9 L449.4,193.0 L451.7,190.2 L454.1,187.5 L456.4,184.8 L458.8,182.3 L461.1,179.9 L463.5,177.8 L465.8,175.8 L468.2,174.1 L470.5,172.6 L472.8,171.4 L475.2,170.3 L477.5,169.4 L479.9,168.8 L482.2,168.3 L484.6,168.1 L486.9,168.1 L489.3,168.4 L491.6,168.9 L494.0,169.4 L496.3,170.0 L498.7,170.9 L501.0,172.3" stroke="#ff3838"/>
<path d="M313.3,172.5 L315.6,174.5 L318.0,176.7 L320.3,179.1 L322.7,181.6 L325.0,184.1 L327.4,186.7 L329.7,189.5 L332.1,192.4 L334.4,195.3 L336.8,198.2 L339.1,201.2 L341.5,204.4 L343.8,207.5 L346.1,210.7 L348.5,213.8 L350.8,217.1 L353.2,220.3 L355.5,223.5 L357.9,226.6 L360.2,229.5 L362.6,232.4 L364.9,235.1 L367.3,237.6 L369.6,239.8 L372.0,241.9 L374.3,243.6 L376.6,245.1 L379.0,246.3 L381.3,247.2 L383.7,247.8 L386.0,248.1 L388.4,248.1 L390.7,247.8 L393.1,247.2 L395.4,246.4 L397.8,245.4 L400.1,244.1 L402.5,242.6 L404.8,241.0 L407.1,239.1 L409.5,237.1 L411.8,235.0 L414.2,232.6 L416.5,230.2 L418.9,227.6 L421.2,225.0 L423.6,222.3 L425.9,219.4 L428.3,216.5 L430.6,213.4 L433.0,210.4 L435.3,207.2 L437.7,204.0 L440.0,200.9 L442.3,197.8 L444.7,194.8 L447.0,191.9 L449.4,189.0 L451.7,186.3 L454.1,183.6 L456.4,181.0 L458.8,178.6 L461.1,176.4 L463.5,174.4 L465.8,172.6 L468.2,171.1 L470.5,169.8 L472.8,168.8 L475.2,167.9 L477.5,167.3 L479.9,166.9 L482.2,166.7 L484.6,166.7 L486.9,167.0 L489.3,167.6 L491.6,168.4 L494.0,169.2 L496.3,170.1 L498.7,171.4 L501.0,173.0" stroke="#22e4f0"/>
<path d="M313.3,176.8 L315.6,178.9 L318.0,181.2 L320.3,183.6 L322.7,186.2 L325.0,188.8 L327.4,191.4 L329.7,194.1 L332.1,197.0 L334.4,199.8 L336.8,202.6 L339.1,205.6 L341.5,208.7 L343.8,211.6 L346.1,214.6 L348.5,217.6 L350.8,220.6 L353.2,223.6 L355.5,226.5 L357.9,229.3 L360.2,232.0 L362.6,234.6 L364.9,237.0 L367.3,239.2 L369.6,241.1 L372.0,242.8 L374.3,244.3 L376.6,245.4 L379.0,246.3 L381.3,246.9 L383.7,247.2 L386.0,247.2 L388.4,246.9 L390.7,246.3 L393.1,245.5 L395.4,244.5 L397.8,243.2 L400.1,241.7 L402.5,240.1 L404.8,238.2 L407.1,236.2 L409.5,234.1 L411.8,231.8 L414.2,229.4 L416.5,226.9 L418.9,224.3 L421.2,221.7 L423.6,219.0 L425.9,216.2 L428.3,213.3 L430.6,210.3 L433.0,207.4 L435.3,204.4 L437.7,201.3 L440.0,198.3 L442.3,195.4 L444.7,192.7 L447.0,190.0 L449.4,187.4 L451.7,185.0 L454.1,182.6 L456.4,180.3 L458.8,178.2 L461.1,176.2 L463.5,174.5 L465.8,173.0 L468.2,171.8 L470.5,170.8 L472.8,170.1 L475.2,169.6 L477.5,169.3 L479.9,169.1 L482.2,169.2 L484.6,169.5 L486.9,170.1 L489.3,170.9 L491.6,171.9 L494.0,172.9 L496.3,174.0 L498.7,175.4 L501.0,177.2" stroke="#f4f020"/>
<path d="M313.3,179.1 L315.6,181.5 L318.0,184.0 L320.3,186.6 L322.7,189.4 L325.0,192.1 L327.4,194.8 L329.7,197.7 L332.1,200.7 L334.4,203.6 L336.8,206.5 L339.1,209.5 L341.5,212.6 L343.8,215.6 L346.1,218.5 L348.5,221.4 L350.8,224.4 L353.2,227.3 L355.5,230.1 L357.9,232.8 L360.2,235.3 L362.6,237.7 L364.9,239.9 L367.3,241.9 L369.6,243.6 L372.0,245.1 L374.3,246.3 L376.6,247.2 L379.0,247.8 L381.3,248.1 L383.7,248.1 L386.0,247.8 L388.4,247.3 L390.7,246.4 L393.1,245.3 L395.4,244.0 L397.8,242.4 L400.1,240.7 L402.5,238.8 L404.8,236.7 L407.1,234.5 L409.5,232.2 L411.8,229.7 L414.2,227.1 L416.5,224.4 L418.9,221.6 L421.2,218.8 L423.6,216.0 L425.9,213.1 L428.3,210.1 L430.6,207.1 L433.0,204.1 L435.3,201.1 L437.7,198.0 L440.0,195.1 L442.3,192.2 L444.7,189.6 L447.0,187.0 L449.4,184.5 L451.7,182.2 L454.1,180.0 L456.4,177.8 L458.8,175.9 L461.1,174.2 L463.5,172.7 L465.8,171.4 L468.2,170.4 L470.5,169.7 L472.8,169.2 L475.2,169.0 L477.5,168.9 L479.9,169.0 L482.2,169.4 L484.6,170.0 L486.9,170.8 L489.3,171.9 L491.6,173.2 L494.0,174.5 L496.3,175.9 L498.7,177.5 L501.0,179.6" stroke="#383838"/>
<path d="M313.3,183.4 L315.6,185.9 L318.0,188.6 L320.3,191.3 L322.7,194.1 L325.0,196.9 L327.4,199.7 L329.7,202.6 L332.1,205.5 L334.4,208.4 L336.8,211.2 L339.1,214.2 L341.5,217.1 L343.8,220.0 L346.1,222.8 L348.5,225.6 L350.8,228.4 L353.2,231.1 L355.5,233.7 L357.9,236.1 L360.2,238.5 L362.6,240.6 L364.9,242.5 L367.3,244.2 L369.6,245.7 L372.0,246.8 L374.3,247.8 L376.6,248.4 L379.0,248.7 L381.3,248.7 L383.7,248.4 L386.0,247.9 L388.4,247.0 L390.7,245.9 L393.1,244.6 L395.4,243.0 L397.8,241.3 L400.1,239.4 L402.5,237.3 L404.8,235.0 L407.1,232.7 L409.5,230.2 L411.8,227.6 L414.2,224.8 L416.5,222.1 L418.9,219.3 L421.2,216.4 L423.6,213.6 L425.9,210.7 L428.3,207.7 L430.6,204.8 L433.0,201.9 L435.3,198.9 L437.7,196.0 L440.0,193.2 L442.3,190.6 L444.7,188.1 L447.0,185.7 L449.4,183.5 L451.7,181.4 L454.1,179.4 L456.4,177.5 L458.8,175.8 L461.1,174.4 L463.5,173.1 L465.8,172.1 L468.2,171.4 L470.5,171.0 L472.8,170.8 L475.2,170.8 L477.5,171.0 L479.9,171.4 L482.2,172.0 L484.6,172.8 L486.9,173.9 L489.3,175.2 L491.6,176.7 L494.0,178.2 L496.3,179.8 L498.7,181.7 L501.0,183.9" stroke="#2828ff"/>
<path d="M313.3,185.8 L315.6,188.4 L318.0,191.2 L320.3,194.0 L322.7,197.0 L325.0,199.8 L327.4,202.7 L329.7,205.6 L332.1,208.6 L334.4,211.5 L336.8,214.3 L339.1,217.2 L341.5,220.1 L343.8,222.9 L346.1,225.6 L348.5,228.3 L350.8,230.9 L353.2,233.5 L355.5,235.9 L357.9,238.1 L360.2,240.2 L362.6,242.1 L364.9,243.8 L367.3,245.3 L369.6,246.5 L372.0,247.4 L374.3,248.0 L376.6,248.3 L379.0,248.4 L381.3,248.1 L383.7,247.6 L386.0,246.7 L388.4,245.6 L390.7,244.3 L393.1,242.7 L395.4,240.9 L397.8,238.9 L400.1,236.7 L402.5,234.5 L404.8,232.0 L407.1,229.5 L409.5,226.8 L411.8,224.1 L414.2,221.2 L416.5,218.3 L418.9,215.4 L421.2,212.6 L423.6,209.7 L425.9,206.8 L428.3,203.8 L430.6,200.8 L433.0,198.0 L435.3,195.1 L437.7,192.3 L440.0,189.6 L442.3,187.0 L444.7,184.7 L447.0,182.5 L449.4,180.5 L451.7,178.6 L454.1,176.8 L456.4,175.1 L458.8,173.7 L461.1,172.5 L463.5,171.5 L465.8,170.7 L468.2,170.3 L470.5,170.1 L472.8,170.2 L475.2,170.4 L477.5,170.9 L479.9,171.6 L482.2,172.4 L484.6,173.5 L486.9,174.8 L489.3,176.4 L491.6,178.1 L494.0,179.9 L496.3,181.7 L498.7,183.8 L501.0,186.2" stroke="#ff3838"/>
<path d="M313.3,186.3 L315.6,189.3 L318.0,192.3 L320.3,195.4 L322.7,198.5 L325.0,201.6 L327.4,204.6 L329.7,207.7 L332.1,210.8 L334.4,213.8 L336.8,216.7 L339.1,219.7 L341.5,222.6 L343.8,225.4 L346.1,228.1 L348.5,230.8 L350.8,233.3 L353.2,235.8 L355.5,238.1 L357.9,240.2 L360.2,242.1 L362.6,243.9 L364.9,245.4 L367.3,246.6 L369.6,247.5 L372.0,248.2 L374.3,248.6 L376.6,248.6 L379.0,248.4 L381.3,247.8 L383.7,246.9 L386.0,245.8 L388.4,244.4 L390.7,242.7 L393.1,240.8 L395.4,238.7 L397.8,236.4 L400.1,234.0 L402.5,231.4 L404.8,228.7 L407.1,225.9 L409.5,222.9 L411.8,219.9 L414.2,216.8 L416.5,213.7 L418.9,210.6 L421.2,207.6 L423.6,204.6 L425.9,201.5 L428.3,198.4 L430.6,195.4 L433.0,192.4 L435.3,189.5 L437.7,186.7 L440.0,184.0 L442.3,181.5 L444.7,179.2 L447.0,177.1 L449.4,175.2 L451.7,173.5 L454.1,171.8 L456.4,170.3 L458.8,169.1 L461.1,168.1 L463.5,167.3 L465.8,166.8 L468.2,166.6 L470.5,166.7 L472.8,167.1 L475.2,167.6 L477.5,168.4 L479.9,169.3 L482.2,170.5 L484.6,171.9 L486.9,173.6 L489.3,175.4 L491.6,177.5 L494.0,179.5 L496.3,181.7 L498.7,184.1 L501.0,186.7" stroke="#22e4f0"/>
<path d="M313.3,189.9 L315.6,192.9 L318.0,195.9 L320.3,199.0 L322.7,202.1 L325.0,205.2 L327.4,208.1 L329.7,211.2 L332.1,214.2 L334.4,217.0 L336.8,219.8 L339.1,222.6 L341.5,225.3 L343.8,227.9 L346.1,230.4 L348.5,232.9 L350.8,235.2 L353.2,237.4 L355.5,239.4 L357.9,241.2 L360.2,242.9 L362.6,244.3 L364.9,245.5 L367.3,246.4 L369.6,247.1 L372.0,247.4 L374.3,247.5 L376.6,247.3 L379.0,246.7 L381.3,245.9 L383.7,244.8 L386.0,243.4 L388.4,241.7 L390.7,239.9 L393.1,237.8 L395.4,235.5 L397.8,233.1 L400.1,230.5 L402.5,227.8 L404.8,225.0 L407.1,222.1 L409.5,219.1 L411.8,216.1 L414.2,213.0 L416.5,209.9 L418.9,206.8 L421.2,203.8 L423.6,200.9 L425.9,197.9 L428.3,195.0 L430.6,192.1 L433.0,189.3 L435.3,186.6 L437.7,183.9 L440.0,181.5 L442.3,179.2 L444.7,177.2 L447.0,175.4 L449.4,173.7 L451.7,172.3 L454.1,170.9 L456.4,169.7 L458.8,168.8 L461.1,168.0 L463.5,167.6 L465.8,167.4 L468.2,167.4 L470.5,167.8 L472.8,168.4 L475.2,169.2 L477.5,170.2 L479.9,171.4 L482.2,172.8 L484.6,174.4 L486.9,176.3 L489.3,178.3 L491.6,180.5 L494.0,182.7 L496.3,185.0 L498.7,187.5 L501.0,190.3" stroke="#f4f020"/>
<path d="M313.3,193.0 L315.6,196.1 L318.0,199.2 L320.3,202.4 L322.7,205.6 L325.0,208.7 L327.4,211.7 L329.7,214.7 L332.1,217.7 L334.4,220.5 L336.8,223.2 L339.1,225.9 L341.5,228.6 L343.8,231.0 L346.1,233.4 L348.5,235.6 L350.8,237.8 L353.2,239.8 L355.5,241.6 L357.9,243.2 L360.2,244.6 L362.6,245.7 L364.9,246.6 L367.3,247.3 L369.6,247.6 L372.0,247.7 L374.3,247.5 L376.6,247.0 L379.0,246.1 L381.3,245.0 L383.7,243.6 L386.0,242.0 L388.4,240.1 L390.7,237.9 L393.1,235.6 L395.4,233.1 L397.8,230.4 L400.1,227.7 L402.5,224.8 L404.8,221.9 L407.1,218.8 L409.5,215.7 L411.8,212.6 L414.2,209.4 L416.5,206.2 L418.9,203.1 L421.2,200.1 L423.6,197.1 L425.9,194.2 L428.3,191.3 L430.6,188.5 L433.0,185.8 L435.3,183.2 L437.7,180.6 L440.0,178.3 L442.3,176.3 L444.7,174.4 L447.0,172.8 L449.4,171.4 L451.7,170.1 L454.1,169.0 L456.4,168.1 L458.8,167.4 L461.1,166.9 L463.5,166.7 L465.8,166.8 L468.2,167.2 L470.5,167.8 L472.8,168.7 L475.2,169.8 L477.5,171.0 L479.9,172.5 L482.2,174.2 L484.6,176.0 L486.9,178.1 L489.3,180.4 L491.6,182.8 L494.0,185.2 L496.3,187.7 L498.7,190.4 L501.0,193.3" stroke="#383838"/>
<path d="M313.3,198.0 L315.6,201.1 L318.0,204.2 L320.3,207.3 L322.7,210.4 L325.0,213.4 L327.4,216.3 L329.7,219.2 L332.1,222.0 L334.4,224.7 L336.8,227.2 L339.1,229.7 L341.5,232.1 L343.8,234.4 L346.1,236.5 L348.5,238.5 L350.8,240.3 L353.2,242.0 L355.5,243.5 L357.9,244.9 L360.2,246.0 L362.6,246.8 L364.9,247.4 L367.3,247.8 L369.6,247.9 L372.0,247.6 L374.3,247.1 L376.6,246.4 L379.0,245.3 L381.3,243.9 L383.7,242.3 L386.0,240.4 L388.4,238.3 L390.7,236.1 L393.1,233.6 L395.4,231.0 L397.8,228.2 L400.1,225.4 L402.5,222.5 L404.8,219.5 L407.1,216.4 L409.5,213.3 L411.8,210.1 L414.2,207.0 L416.5,203.9 L418.9,200.9 L421.2,198.0 L423.6,195.2 L425.9,192.4 L428.3,189.6 L430.6,187.0 L433.0,184.5 L435.3,182.1 L437.7,179.8 L440.0,177.8 L442.3,176.0 L444.7,174.4 L447.0,173.1 L449.4,171.9 L451.7,171.0 L454.1,170.2 L456.4,169.5 L458.8,169.1 L461.1,168.9 L463.5,169.0 L465.8,169.3 L468.2,170.0 L470.5,170.8 L472.8,172.0 L475.2,173.3 L477.5,174.7 L479.9,176.4 L482.2,178.3 L484.6,180.3 L486.9,182.5 L489.3,184.9 L491.6,187.5 L494.0,190.0 L496.3,192.6 L498.7,195.3 L501.0,198.3" stroke="#2828ff"/>
<path d="M313.3,201.4 L315.6,204.6 L318.0,207.8 L320.3,211.0 L322.7,214.1 L325.0,217.1 L327.4,219.9 L329.7,222.8 L332.1,225.5 L334.4,228.1 L336.8,230.5 L339.1,232.9 L341.5,235.1 L343.8,237.2 L346.1,239.1 L348.5,240.9 L350.8,242.5 L353.2,244.0 L355.5,245.3 L357.9,246.3 L360.2,247.1 L362.6,247.7 L364.9,248.0 L367.3,248.1 L369.6,247.9 L372.0,247.4 L374.3,246.6 L376.6,245.5 L379.0,244.2 L381.3,242.6 L383.7,240.7 L386.0,238.6 L388.4,236.2 L390.7,233.7 L393.1,231.1 L395.4,228.2 L397.8,225.3 L400.1,222.3 L402.5,219.3 L404.8,216.2 L407.1,213.1 L409.5,209.9 L411.8,206.6 L414.2,203.4 L416.5,200.3 L418.9,197.3 L421.2,194.4 L423.6,191.7 L425.9,189.0 L428.3,186.3 L430.6,183.8 L433.0,181.4 L435.3,179.2 L437.7,177.1 L440.0,175.2 L442.3,173.6 L444.7,172.3 L447.0,171.2 L449.4,170.3 L451.7,169.6 L454.1,169.0 L456.4,168.7 L458.8,168.5 L461.1,168.6 L463.5,169.0 L465.8,169.6 L468.2,170.5 L470.5,171.6 L472.8,173.0 L475.2,174.6 L477.5,176.3 L479.9,178.2 L482.2,180.3 L484.6,182.5 L486.9,185.0 L489.3,187.6 L491.6,190.3 L494.0,193.0 L496.3,195.8 L498.7,198.7 L501.0,201.7" stroke="#ff3838"/>
<path d="M313.3,203.7 L315.6,207.0 L318.0,210.3 L320.3,213.5 L322.7,216.6 L325.0,219.6 L327.4,222.5 L329.7,225.3 L332.1,228.0 L334.4,230.4 L336.8,232.8 L339.1,235.0 L341.5,237.1 L343.8,239.0 L346.1,240.8 L348.5,242.3 L350.8,243.8 L353.2,245.0 L355.5,246.0 L357.9,246.8 L360.2,247.3 L362.6,247.6 L364.9,247.7 L367.3,247.4 L369.6,246.9 L372.0,246.1 L374.3,245.0 L376.6,243.6 L379.0,242.0 L381.3,240.1 L383.7,237.9 L386.0,235.5 L388.4,233.0 L390.7,230.2 L393.1,227.3 L395.4,224.3 L397.8,221.2 L400.1,218.0 L402.5,214.8 L404.8,211.6 L407.1,208.3 L409.5,205.0 L411.8,201.7 L414.2,198.5 L416.5,195.3 L418.9,192.2 L421.2,189.4 L423.6,186.7 L425.9,184.0 L428.3,181.4 L430.6,179.0 L433.0,176.8 L435.3,174.7 L437.7,172.8 L440.0,171.1 L442.3,169.7 L444.7,168.6 L447.0,167.7 L449.4,167.1 L451.7,166.6 L454.1,166.4 L456.4,166.3 L458.8,166.4 L461.1,166.8 L463.5,167.4 L465.8,168.3 L468.2,169.5 L470.5,170.9 L472.8,172.6 L475.2,174.4 L477.5,176.4 L479.9,178.6 L482.2,180.9 L484.6,183.4 L486.9,186.1 L489.3,189.0 L491.6,191.9 L494.0,194.8 L496.3,197.7 L498.7,200.8 L501.0,204.0" stroke="#22e4f0"/>
<path d="M313.3,208.7 L315.6,211.8 L318.0,215.0 L320.3,218.0 L322.7,221.0 L325.0,223.7 L327.4,226.4 L329.7,228.9 L332.1,231.3 L334.4,233.5 L336.8,235.6 L339.1,237.5 L341.5,239.3 L343.8,240.9 L346.1,242.4 L348.5,243.7 L350.8,244.7 L353.2,245.7 L355.5,246.4 L357.9,246.8 L360.2,247.1 L362.6,247.1 L364.9,246.8 L367.3,246.3 L369.6,245.6 L372.0,244.5 L374.3,243.2 L376.6,241.7 L379.0,239.9 L381.3,237.8 L383.7,235.5 L386.0,233.0 L388.4,230.4 L390.7,227.6 L393.1,224.7 L395.4,221.6 L397.8,218.6 L400.1,215.5 L402.5,212.3 L404.8,209.2 L407.1,206.0 L409.5,202.9 L411.8,199.7 L414.2,196.6 L416.5,193.6 L418.9,190.8 L421.2,188.2 L423.6,185.7 L425.9,183.3 L428.3,181.0 L430.6,178.8 L433.0,176.9 L435.3,175.1 L437.7,173.5 L440.0,172.1 L442.3,171.0 L444.7,170.2 L447.0,169.7 L449.4,169.4 L451.7,169.2 L454.1,169.2 L456.4,169.4 L458.8,169.8 L461.1,170.4 L463.5,171.3 L465.8,172.4 L468.2,173.8 L470.5,175.4 L472.8,177.2 L475.2,179.2 L477.5,181.3 L479.9,183.6 L482.2,186.0 L484.6,188.6 L486.9,191.3 L489.3,194.1 L491.6,197.1 L494.0,200.0 L496.3,202.9 L498.7,205.8 L501.0,208.9" stroke="#f4f020"/>
<path d="M313.3,211.3 L315.6,214.5 L318.0,217.7 L320.3,220.7 L322.7,223.6 L325.0,226.3 L327.4,228.9 L329.7,231.3 L332.1,233.6 L334.4,235.7 L336.8,237.6 L339.1,239.3 L341.5,240.9 L343.8,242.3 L346.1,243.5 L348.5,244.6 L350.8,245.4 L353.2,246.0 L355.5,246.4 L357.9,246.6 L360.2,246.6 L362.6,246.3 L364.9,245.8 L367.3,245.0 L369.6,243.9 L372.0,242.6 L374.3,241.0 L376.6,239.2 L379.0,237.1 L381.3,234.8 L383.7,232.3 L386.0,229.6 L388.4,226.7 L390.7,223.8 L393.1,220.7 L395.4,217.5 L397.8,214.3 L400.1,211.1 L402.5,207.9 L404.8,204.7 L407.1,201.5 L409.5,198.3 L411.8,195.1 L414.2,192.0 L416.5,189.0 L418.9,186.3 L421.2,183.7 L423.6,181.4 L425.9,179.1 L428.3,176.9 L430.6,174.9 L433.0,173.2 L435.3,171.6 L437.7,170.2 L440.0,169.0 L442.3,168.2 L444.7,167.7 L447.0,167.4 L449.4,167.3 L451.7,167.4 L454.1,167.7 L456.4,168.2 L458.8,168.8 L461.1,169.7 L463.5,170.9 L465.8,172.3 L468.2,173.9 L470.5,175.8 L472.8,177.8 L475.2,180.1 L477.5,182.4 L479.9,184.9 L482.2,187.5 L484.6,190.3 L486.9,193.2 L489.3,196.2 L491.6,199.3 L494.0,202.3 L496.3,205.3 L498.7,208.4 L501.0,211.6" stroke="#383838"/>
<path d="M313.3,215.5 L315.6,218.6 L318.0,221.6 L320.3,224.5 L322.7,227.3 L325.0,229.9 L327.4,232.3 L329.7,234.5 L332.1,236.6 L334.4,238.5 L336.8,240.2 L339.1,241.7 L341.5,243.0 L343.8,244.1 L346.1,245.1 L348.5,245.8 L350.8,246.4 L353.2,246.7 L355.5,246.9 L357.9,246.8 L360.2,246.5 L362.6,245.9 L364.9,245.1 L367.3,244.0 L369.6,242.7 L372.0,241.1 L374.3,239.3 L376.6,237.3 L379.0,235.0 L381.3,232.5 L383.7,229.8 L386.0,227.0 L388.4,224.0 L390.7,220.9 L393.1,217.8 L395.4,214.5 L397.8,211.3 L400.1,208.1 L402.5,204.9 L404.8,201.7 L407.1,198.5 L409.5,195.4 L411.8,192.3 L414.2,189.3 L416.5,186.4 L418.9,183.8 L421.2,181.4 L423.6,179.3 L425.9,177.2 L428.3,175.2 L430.6,173.4 L433.0,171.9 L435.3,170.6 L437.7,169.4 L440.0,168.6 L442.3,168.0 L444.7,167.8 L447.0,167.8 L449.4,168.0 L451.7,168.4 L454.1,168.9 L456.4,169.6 L458.8,170.6 L461.1,171.7 L463.5,173.1 L465.8,174.7 L468.2,176.6 L470.5,178.7 L472.8,180.9 L475.2,183.3 L477.5,185.8 L479.9,188.5 L482.2,191.2 L484.6,194.1 L486.9,197.1 L489.3,200.2 L491.6,203.4 L494.0,206.4 L496.3,209.5 L498.7,212.5 L501.0,215.7" stroke="#2828ff"/>
<path d="M313.3,219.2 L315.6,222.2 L318.0,225.0 L320.3,227.7 L322.7,230.3 L325.0,232.6 L327.4,234.8 L329.7,236.8 L332.1,238.6 L334.4,240.2 L336.8,241.6 L339.1,242.8 L341.5,243.9 L343.8,244.7 L346.1,245.3 L348.5,245.8 L350.8,246.1 L353.2,246.1 L355.5,246.0 L357.9,245.6 L360.2,245.0 L362.6,244.2 L364.9,243.2 L367.3,241.9 L369.6,240.3 L372.0,238.6 L374.3,236.6 L376.6,234.4 L379.0,232.0 L381.3,229.4 L383.7,226.6 L386.0,223.8 L388.4,220.8 L390.7,217.7 L393.1,214.6 L395.4,211.4 L397.8,208.2 L400.1,205.1 L402.5,202.0 L404.8,198.9 L407.1,195.9 L409.5,192.9 L411.8,190.0 L414.2,187.2 L416.5,184.5 L418.9,182.1 L421.2,180.0 L423.6,178.1 L425.9,176.3 L428.3,174.5 L430.6,173.1 L433.0,171.9 L435.3,170.8 L437.7,169.9 L440.0,169.3 L442.3,169.1 L444.7,169.1 L447.0,169.4 L449.4,169.9 L451.7,170.5 L454.1,171.3 L456.4,172.3 L458.8,173.4 L461.1,174.8 L463.5,176.4 L465.8,178.2 L468.2,180.2 L470.5,182.4 L472.8,184.7 L475.2,187.2 L477.5,189.8 L479.9,192.5 L482.2,195.4 L484.6,198.3 L486.9,201.3 L489.3,204.3 L491.6,207.4 L494.0,210.4 L496.3,213.4 L498.7,216.4 L501.0,219.4" stroke="#ff3838"/>
<path d="M313.3,221.8 L315.6,224.8 L318.0,227.6 L320.3,230.3 L322.7,232.8 L325.0,235.0 L327.4,237.1 L329.7,238.9 L332.1,240.6 L334.4,242.0 L336.8,243.2 L339.1,244.2 L341.5,245.0 L343.8,245.6 L346.1,246.0 L348.5,246.2 L350.8,246.2 L353.2,246.0 L355.5,245.5 L357.9,244.8 L360.2,243.9 L362.6,242.8 L364.9,241.5 L367.3,239.9 L369.6,238.0 L372.0,236.0 L374.3,233.8 L376.6,231.3 L379.0,228.6 L381.3,225.8 L383.7,222.8 L386.0,219.7 L388.4,216.5 L390.7,213.3 L393.1,210.0 L395.4,206.7 L397.8,203.4 L400.1,200.2 L402.5,197.0 L404.8,194.0 L407.1,190.9 L409.5,187.9 L411.8,185.0 L414.2,182.2 L416.5,179.7 L418.9,177.3 L421.2,175.3 L423.6,173.5 L425.9,171.9 L428.3,170.3 L430.6,169.1 L433.0,168.1 L435.3,167.2 L437.7,166.6 L440.0,166.3 L442.3,166.3 L444.7,166.6 L447.0,167.1 L449.4,167.9 L451.7,168.9 L454.1,169.9 L456.4,171.2 L458.8,172.6 L461.1,174.3 L463.5,176.1 L465.8,178.2 L468.2,180.5 L470.5,182.9 L472.8,185.5 L475.2,188.3 L477.5,191.1 L479.9,194.0 L482.2,197.0 L484.6,200.1 L486.9,203.3 L489.3,206.5 L491.6,209.7 L494.0,212.9 L496.3,215.9 L498.7,218.9 L501.0,222.0" stroke="#22e4f0"/>
<path d="M313.3,225.2 L315.6,228.0 L318.0,230.6 L320.3,233.1 L322.7,235.3 L325.0,237.3 L327.4,239.1 L329.7,240.7 L332.1,242.1 L334.4,243.2 L336.8,244.1 L339.1,244.8 L341.5,245.4 L343.8,245.7 L346.1,245.8 L348.5,245.7 L350.8,245.4 L353.2,244.9 L355.5,244.1 L357.9,243.2 L360.2,242.1 L362.6,240.7 L364.9,239.2 L367.3,237.4 L369.6,235.4 L372.0,233.2 L374.3,230.8 L376.6,228.2 L379.0,225.5 L381.3,222.6 L383.7,219.5 L386.0,216.4 L388.4,213.2 L390.7,210.0 L393.1,206.8 L395.4,203.6 L397.8,200.4 L400.1,197.3 L402.5,194.3 L404.8,191.4 L407.1,188.5 L409.5,185.7 L411.8,182.9 L414.2,180.4 L416.5,178.0 L418.9,176.0 L421.2,174.2 L423.6,172.7 L425.9,171.3 L428.3,170.0 L430.6,169.0 L433.0,168.3 L435.3,167.8 L437.7,167.4 L440.0,167.4 L442.3,167.7 L444.7,168.3 L447.0,169.1 L449.4,170.1 L451.7,171.3 L454.1,172.6 L456.4,174.1 L458.8,175.7 L461.1,177.6 L463.5,179.6 L465.8,181.8 L468.2,184.2 L470.5,186.7 L472.8,189.4 L475.2,192.2 L477.5,195.1 L479.9,198.0 L482.2,201.1 L484.6,204.1 L486.9,207.3 L489.3,210.4 L491.6,213.6 L494.0,216.6 L496.3,219.6 L498.7,222.5 L501.0,225.3" stroke="#f4f020"/>
<path d="M313.3,229.2 L315.6,231.9 L318.0,234.3 L320.3,236.6 L322.7,238.6 L325.0,240.4 L327.4,242.0 L329.7,243.3 L332.1,244.4 L334.4,245.3 L336.8,246.0 L339.1,246.4 L341.5,246.7 L343.8,246.7 L346.1,246.5 L348.5,246.1 L350.8,245.5 L353.2,244.7 L355.5,243.8 L357.9,242.6 L360.2,241.2 L362.6,239.6 L364.9,237.8 L367.3,235.8 L369.6,233.6 L372.0,231.2 L374.3,228.7 L376.6,226.0 L379.0,223.1 L381.3,220.1 L383.7,217.0 L386.0,213.8 L388.4,210.6 L390.7,207.4 L393.1,204.2 L395.4,201.0 L397.8,197.8 L400.1,194.8 L402.5,191.9 L404.8,189.1 L407.1,186.4 L409.5,183.7 L411.8,181.1 L414.2,178.7 L416.5,176.6 L418.9,174.7 L421.2,173.2 L423.6,171.9 L425.9,170.8 L428.3,169.8 L430.6,169.0 L433.0,168.6 L435.3,168.3 L437.7,168.3 L440.0,168.5 L442.3,169.1 L444.7,169.9 L447.0,171.0 L449.4,172.3 L451.7,173.7 L454.1,175.3 L456.4,177.0 L458.8,178.8 L461.1,180.8 L463.5,183.0 L465.8,185.4 L468.2,187.9 L470.5,190.6 L472.8,193.5 L475.2,196.4 L477.5,199.3 L479.9,202.3 L482.2,205.4 L484.6,208.5 L486.9,211.6 L489.3,214.8 L491.6,217.9 L494.0,220.9 L496.3,223.8 L498.7,226.6 L501.0,229.3" stroke="#383838"/>
<path d="M313.3,232.6 L315.6,235.1 L318.0,237.3 L320.3,239.3 L322.7,241.1 L325.0,242.7 L327.4,244.0 L329.7,245.1 L332.1,245.9 L334.4,246.5 L336.8,246.9 L339.1,247.1 L341.5,247.0 L343.8,246.8 L346.1,246.3 L348.5,245.6 L350.8,244.8 L353.2,243.7 L355.5,242.5 L357.9,241.1 L360.2,239.5 L362.6,237.7 L364.9,235.7 L367.3,233.5 L369.6,231.1 L372.0,228.6 L374.3,226.0 L376.6,223.2 L379.0,220.3 L381.3,217.2 L383.7,214.1 L386.0,210.9 L388.4,207.7 L390.7,204.6 L393.1,201.4 L395.4,198.3 L397.8,195.3 L400.1,192.4 L402.5,189.7 L404.8,187.0 L407.1,184.5 L409.5,182.0 L411.8,179.6 L414.2,177.5 L416.5,175.5 L418.9,173.9 L421.2,172.6 L423.6,171.6 L425.9,170.8 L428.3,170.0 L430.6,169.6 L433.0,169.4 L435.3,169.4 L437.7,169.6 L440.0,170.1 L442.3,171.0 L444.7,172.1 L447.0,173.4 L449.4,174.9 L451.7,176.6 L454.1,178.3 L456.4,180.2 L458.8,182.2 L461.1,184.4 L463.5,186.7 L465.8,189.2 L468.2,191.9 L470.5,194.6 L472.8,197.5 L475.2,200.5 L477.5,203.4 L479.9,206.5 L482.2,209.5 L484.6,212.6 L486.9,215.7 L489.3,218.8 L491.6,221.8 L494.0,224.7 L496.3,227.4 L498.7,230.1 L501.0,232.7" stroke="#2828ff"/>
<path d="M313.3,234.1 L315.6,236.4 L318.0,238.5 L320.3,240.4 L322.7,242.0 L325.0,243.3 L327.4,244.4 L329.7,245.3 L332.1,245.9 L334.4,246.2 L336.8,246.3 L339.1,246.2 L341.5,245.9 L343.8,245.3 L346.1,244.6 L348.5,243.6 L350.8,242.5 L353.2,241.1 L355.5,239.6 L357.9,237.9 L360.2,236.0 L362.6,234.0 L364.9,231.8 L367.3,229.3 L369.6,226.8 L372.0,224.1 L374.3,221.2 L376.6,218.3 L379.0,215.2 L381.3,212.0 L383.7,208.8 L386.0,205.5 L388.4,202.3 L390.7,199.1 L393.1,196.0 L395.4,192.9 L397.8,189.9 L400.1,187.1 L402.5,184.4 L404.8,181.9 L407.1,179.4 L409.5,177.1 L411.8,174.9 L414.2,172.9 L416.5,171.1 L418.9,169.7 L421.2,168.6 L423.6,167.9 L425.9,167.2 L428.3,166.7 L430.6,166.6 L433.0,166.7 L435.3,167.0 L437.7,167.4 L440.0,168.2 L442.3,169.4 L444.7,170.7 L447.0,172.4 L449.4,174.1 L451.7,176.0 L454.1,178.0 L456.4,180.2 L458.8,182.4 L461.1,184.8 L463.5,187.4 L465.8,190.0 L468.2,192.9 L470.5,195.8 L472.8,198.8 L475.2,201.9 L477.5,205.0 L479.9,208.1 L482.2,211.2 L484.6,214.3 L486.9,217.4 L489.3,220.5 L491.6,223.5 L494.0,226.4 L496.3,229.1 L498.7,231.7 L501.0,234.2" stroke="#ff3838"/>
<path d="M313.3,236.9 L315.6,239.0 L318.0,240.9 L320.3,242.6 L322.7,244.0 L325.0,245.1 L327.4,245.9 L329.7,246.5 L332.1,246.8 L334.4,246.9 L336.8,246.7 L339.1,246.3 L341.5,245.7 L343.8,244.9 L346.1,243.8 L348.5,242.6 L350.8,241.1 L353.2,239.5 L355.5,237.7 L357.9,235.7 L360.2,233.6 L362.6,231.3 L364.9,228.8 L367.3,226.2 L369.6,223.4 L372.0,220.5 L374.3,217.6 L376.6,214.5 L379.0,211.3 L381.3,208.0 L383.7,204.7 L386.0,201.4 L388.4,198.2 L390.7,195.0 L393.1,191.9 L395.4,188.8 L397.8,185.9 L400.1,183.2 L402.5,180.6 L404.8,178.2 L407.1,175.9 L409.5,173.7 L411.8,171.6 L414.2,169.8 L416.5,168.3 L418.9,167.1 L421.2,166.3 L423.6,165.8 L425.9,165.4 L428.3,165.2 L430.6,165.3 L433.0,165.7 L435.3,166.2 L437.7,167.0 L440.0,168.1 L442.3,169.5 L444.7,171.2 L447.0,173.0 L449.4,175.1 L451.7,177.2 L454.1,179.5 L456.4,181.8 L458.8,184.3 L461.1,186.9 L463.5,189.7 L465.8,192.5 L468.2,195.5 L470.5,198.5 L472.8,201.7 L475.2,204.8 L477.5,208.0 L479.9,211.2 L482.2,214.3 L484.6,217.5 L486.9,220.6 L489.3,223.7 L491.6,226.6 L494.0,229.4 L496.3,232.1 L498.7,234.6 L501.0,236.9" stroke="#22e4f0"/>
<path d="M313.3,239.0 L315.6,240.9 L318.0,242.6 L320.3,244.0 L322.7,245.1 L325.0,246.0 L327.4,246.5 L329.7,246.8 L332.1,246.9 L334.4,246.7 L336.8,246.2 L339.1,245.5 L341.5,244.6 L343.8,243.5 L346.1,242.1 L348.5,240.6 L350.8,238.9 L353.2,237.0 L355.5,235.0 L357.9,232.8 L360.2,230.4 L362.6,228.0 L364.9,225.3 L367.3,222.5 L369.6,219.6 L372.0,216.6 L374.3,213.6 L376.6,210.4 L379.0,207.2 L381.3,203.9 L383.7,200.6 L386.0,197.3 L388.4,194.1 L390.7,191.0 L393.1,188.0 L395.4,185.1 L397.8,182.3 L400.1,179.8 L402.5,177.4 L404.8,175.1 L407.1,173.0 L409.5,171.0 L411.8,169.2 L414.2,167.6 L416.5,166.4 L418.9,165.4 L421.2,164.9 L423.6,164.6 L425.9,164.6 L428.3,164.6 L430.6,165.0 L433.0,165.7 L435.3,166.6 L437.7,167.6 L440.0,169.0 L442.3,170.6 L444.7,172.6 L447.0,174.7 L449.4,176.9 L451.7,179.3 L454.1,181.7 L456.4,184.2 L458.8,186.9 L461.1,189.6 L463.5,192.5 L465.8,195.4 L468.2,198.5 L470.5,201.6 L472.8,204.8 L475.2,207.9 L477.5,211.1 L479.9,214.3 L482.2,217.4 L484.6,220.5 L486.9,223.6 L489.3,226.5 L491.6,229.4 L494.0,232.0 L496.3,234.5 L498.7,236.9 L501.0,239.0" stroke="#f4f020"/>
<path d="M313.3,241.5 L315.6,243.1 L318.0,244.5 L320.3,245.6 L322.7,246.4 L325.0,247.0 L327.4,247.2 L329.7,247.2 L332.1,247.0 L334.4,246.5 L336.8,245.8 L339.1,244.8 L341.5,243.7 L343.8,242.3 L346.1,240.8 L348.5,239.0 L350.8,237.2 L353.2,235.2 L355.5,233.0 L357.9,230.7 L360.2,228.3 L362.6,225.8 L364.9,223.1 L367.3,220.3 L369.6,217.4 L372.0,214.5 L374.3,211.5 L376.6,208.4 L379.0,205.3 L381.3,202.2 L383.7,199.0 L386.0,196.0 L388.4,193.0 L390.7,190.1 L393.1,187.4 L395.4,184.7 L397.8,182.2 L400.1,179.9 L402.5,177.8 L404.8,175.9 L407.1,174.1 L409.5,172.4 L411.8,170.9 L414.2,169.6 L416.5,168.6 L418.9,168.0 L421.2,167.8 L423.6,167.8 L425.9,168.0 L428.3,168.4 L430.6,169.0 L433.0,169.9 L435.3,171.0 L437.7,172.3 L440.0,173.9 L442.3,175.7 L444.7,177.8 L447.0,180.0 L449.4,182.4 L451.7,184.8 L454.1,187.3 L456.4,189.9 L458.8,192.5 L461.1,195.3 L463.5,198.1 L465.8,201.0 L468.2,203.9 L470.5,206.9 L472.8,210.0 L475.2,213.0 L477.5,216.0 L479.9,219.0 L482.2,222.0 L484.6,224.9 L486.9,227.7 L489.3,230.4 L491.6,233.0 L494.0,235.4 L496.3,237.6 L498.7,239.7 L501.0,241.5" stroke="#383838"/>
<path d="M313.3,243.7 L315.6,245.1 L318.0,246.2 L320.3,247.0 L322.7,247.6 L325.0,247.8 L327.4,247.8 L329.7,247.6 L332.1,247.0 L334.4,246.3 L336.8,245.2 L339.1,244.0 L341.5,242.6 L343.8,241.0 L346.1,239.2 L348.5,237.3 L350.8,235.2 L353.2,233.0 L355.5,230.6 L357.9,228.2 L360.2,225.6 L362.6,222.9 L364.9,220.2 L367.3,217.2 L369.6,214.3 L372.0,211.3 L374.3,208.3 L376.6,205.3 L379.0,202.2 L381.3,199.1 L383.7,196.0 L386.0,193.1 L388.4,190.2 L390.7,187.5 L393.1,184.9 L395.4,182.4 L397.8,180.1 L400.1,178.0 L402.5,176.1 L404.8,174.4 L407.1,172.8 L409.5,171.4 L411.8,170.1 L414.2,169.1 L416.5,168.4 L418.9,168.1 L421.2,168.1 L423.6,168.4 L425.9,168.9 L428.3,169.5 L430.6,170.4 L433.0,171.6 L435.3,173.0 L437.7,174.5 L440.0,176.3 L442.3,178.3 L444.7,180.6 L447.0,183.0 L449.4,185.5 L451.7,188.1 L454.1,190.8 L456.4,193.4 L458.8,196.2 L461.1,199.0 L463.5,201.9 L465.8,204.8 L468.2,207.8 L470.5,210.8 L472.8,213.8 L475.2,216.8 L477.5,219.8 L479.9,222.7 L482.2,225.5 L484.6,228.3 L486.9,231.0 L489.3,233.6 L491.6,236.0 L494.0,238.2 L496.3,240.3 L498.7,242.1 L501.0,243.7" stroke="#2828ff"/>
<path d="M313.3,244.8 L315.6,245.9 L318.0,246.8 L320.3,247.3 L322.7,247.6 L325.0,247.6 L327.4,247.3 L329.7,246.8 L332.1,245.9 L334.4,244.9 L336.8,243.6 L339.1,242.1 L341.5,240.5 L343.8,238.6 L346.1,236.6 L348.5,234.4 L350.8,232.1 L353.2,229.7 L355.5,227.1 L357.9,224.5 L360.2,221.8 L362.6,219.0 L364.9,216.1 L367.3,213.1 L369.6,210.1 L372.0,207.1 L374.3,204.1 L376.6,201.1 L379.0,198.0 L381.3,195.0 L383.7,192.0 L386.0,189.1 L388.4,186.4 L390.7,183.8 L393.1,181.3 L395.4,179.0 L397.8,176.9 L400.1,175.0 L402.5,173.4 L404.8,171.9 L407.1,170.5 L409.5,169.3 L411.8,168.3 L414.2,167.6 L416.5,167.1 L418.9,167.0 L421.2,167.3 L423.6,167.9 L425.9,168.7 L428.3,169.6 L430.6,170.8 L433.0,172.2 L435.3,173.8 L437.7,175.6 L440.0,177.6 L442.3,179.9 L444.7,182.4 L447.0,185.0 L449.4,187.7 L451.7,190.4 L454.1,193.1 L456.4,195.9 L458.8,198.8 L461.1,201.7 L463.5,204.6 L465.8,207.5 L468.2,210.5 L470.5,213.5 L472.8,216.5 L475.2,219.5 L477.5,222.4 L479.9,225.2 L482.2,228.0 L484.6,230.6 L486.9,233.2 L489.3,235.6 L491.6,237.9 L494.0,239.9 L496.3,241.8 L498.7,243.4 L501.0,244.8" stroke="#ff3838"/>
<path d="M313.3,246.2 L315.6,247.1 L318.0,247.7 L320.3,248.0 L322.7,248.0 L325.0,247.7 L327.4,247.1 L329.7,246.3 L332.1,245.2 L334.4,243.8 L336.8,242.3 L339.1,240.5 L341.5,238.6 L343.8,236.5 L346.1,234.2 L348.5,231.8 L350.8,229.3 L353.2,226.7 L355.5,224.0 L357.9,221.2 L360.2,218.3 L362.6,215.4 L364.9,212.5 L367.3,209.4 L369.6,206.3 L372.0,203.3 L374.3,200.3 L376.6,197.3 L379.0,194.3 L381.3,191.3 L383.7,188.4 L386.0,185.6 L388.4,183.0 L390.7,180.6 L393.1,178.3 L395.4,176.2 L397.8,174.2 L400.1,172.6 L402.5,171.1 L404.8,169.9 L407.1,168.8 L409.5,167.8 L411.8,167.1 L414.2,166.6 L416.5,166.4 L418.9,166.6 L421.2,167.2 L423.6,168.1 L425.9,169.1 L428.3,170.3 L430.6,171.7 L433.0,173.4 L435.3,175.3 L437.7,177.3 L440.0,179.6 L442.3,182.1 L444.7,184.7 L447.0,187.5 L449.4,190.3 L451.7,193.2 L454.1,196.1 L456.4,199.0 L458.8,201.9 L461.1,204.9 L463.5,207.8 L465.8,210.8 L468.2,213.8 L470.5,216.8 L472.8,219.8 L475.2,222.7 L477.5,225.5 L479.9,228.2 L482.2,230.9 L484.6,233.4 L486.9,235.8 L489.3,238.1 L491.6,240.2 L494.0,242.0 L496.3,243.7 L498.7,245.1 L501.0,246.2" stroke="#22e4f0"/>
<path d="M313.3,246.4 L315.6,247.0 L318.0,247.3 L320.3,247.3 L322.7,247.1 L325.0,246.5 L327.4,245.7 L329.7,244.6 L332.1,243.3 L334.4,241.7 L336.8,239.9 L339.1,238.0 L341.5,235.9 L343.8,233.6 L346.1,231.2 L348.5,228.6 L350.8,226.0 L353.2,223.3 L355.5,220.6 L357.9,217.7 L360.2,214.8 L362.6,212.0 L364.9,209.0 L367.3,206.0 L369.6,203.0 L372.0,200.1 L374.3,197.2 L376.6,194.4 L379.0,191.5 L381.3,188.7 L383.7,186.0 L386.0,183.5 L388.4,181.1 L390.7,178.9 L393.1,176.9 L395.4,175.0 L397.8,173.4 L400.1,172.0 L402.5,170.9 L404.8,169.9 L407.1,169.1 L409.5,168.4 L411.8,167.9 L414.2,167.7 L416.5,167.8 L418.9,168.3 L421.2,169.1 L423.6,170.3 L425.9,171.5 L428.3,172.9 L430.6,174.6 L433.0,176.5 L435.3,178.5 L437.7,180.7 L440.0,183.1 L442.3,185.7 L444.7,188.4 L447.0,191.3 L449.4,194.2 L451.7,197.1 L454.1,199.9 L456.4,202.8 L458.8,205.7 L461.1,208.6 L463.5,211.5 L465.8,214.3 L468.2,217.2 L470.5,220.0 L472.8,222.8 L475.2,225.6 L477.5,228.2 L479.9,230.7 L482.2,233.2 L484.6,235.5 L486.9,237.7 L489.3,239.7 L491.6,241.5 L494.0,243.1 L496.3,244.5 L498.7,245.6 L501.0,246.4" stroke="#f4f020"/>
<path d="M313.3,247.5 L315.6,247.8 L318.0,247.8 L320.3,247.5 L322.7,247.0 L325.0,246.1 L327.4,245.0 L329.7,243.6 L332.1,242.0 L334.4,240.2 L336.8,238.1 L339.1,235.9 L341.5,233.5 L343.8,231.0 L346.1,228.3 L348.5,225.5 L350.8,222.7 L353.2,219.8 L355.5,216.8 L357.9,213.8 L360.2,210.8 L362.6,207.8 L364.9,204.8 L367.3,201.7 L369.6,198.6 L372.0,195.7 L374.3,192.8 L376.6,190.0 L379.0,187.2 L381.3,184.4 L383.7,181.8 L386.0,179.4 L388.4,177.2 L390.7,175.1 L393.1,173.3 L395.4,171.6 L397.8,170.1 L400.1,169.0 L402.5,168.0 L404.8,167.3 L407.1,166.7 L409.5,166.3 L411.8,166.1 L414.2,166.2 L416.5,166.6 L418.9,167.3 L421.2,168.5 L423.6,169.9 L425.9,171.4 L428.3,173.1 L430.6,175.0 L433.0,177.2 L435.3,179.5 L437.7,182.0 L440.0,184.6 L442.3,187.4 L444.7,190.4 L447.0,193.4 L449.4,196.4 L451.7,199.5 L454.1,202.5 L456.4,205.5 L458.8,208.4 L461.1,211.4 L463.5,214.3 L465.8,217.2 L468.2,220.1 L470.5,222.9 L472.8,225.7 L475.2,228.4 L477.5,230.9 L479.9,233.4 L482.2,235.7 L484.6,237.9 L486.9,239.9 L489.3,241.8 L491.6,243.4 L494.0,244.8 L496.3,246.0 L498.7,246.8 L501.0,247.5" stroke="#383838"/>
<path d="M313.3,247.7 L315.6,247.8 L318.0,247.5 L320.3,246.9 L322.7,246.1 L325.0,244.9 L327.4,243.5 L329.7,241.8 L332.1,239.9 L334.4,237.8 L336.8,235.5 L339.1,233.0 L341.5,230.4 L343.8,227.6 L346.1,224.7 L348.5,221.7 L350.8,218.6 L353.2,215.6 L355.5,212.5 L357.9,209.3 L360.2,206.2 L362.6,203.1 L364.9,200.0 L367.3,196.9 L369.6,193.8 L372.0,190.9 L374.3,188.0 L376.6,185.3 L379.0,182.5 L381.3,179.9 L383.7,177.4 L386.0,175.1 L388.4,173.0 L390.7,171.2 L393.1,169.5 L395.4,168.0 L397.8,166.8 L400.1,165.9 L402.5,165.2 L404.8,164.8 L407.1,164.5 L409.5,164.3 L411.8,164.4 L414.2,164.8 L416.5,165.5 L418.9,166.5 L421.2,167.9 L423.6,169.6 L425.9,171.5 L428.3,173.4 L430.6,175.6 L433.0,178.1 L435.3,180.6 L437.7,183.3 L440.0,186.1 L442.3,189.2 L444.7,192.3 L447.0,195.5 L449.4,198.6 L451.7,201.8 L454.1,204.9 L456.4,208.0 L458.8,211.0 L461.1,214.0 L463.5,216.9 L465.8,219.8 L468.2,222.7 L470.5,225.5 L472.8,228.2 L475.2,230.7 L477.5,233.2 L479.9,235.5 L482.2,237.7 L484.6,239.7 L486.9,241.6 L489.3,243.2 L491.6,244.7 L494.0,245.8 L496.3,246.7 L498.7,247.4 L501.0,247.7" stroke="#2828ff"/>
<path d="M313.3,247.3 L315.6,247.1 L318.0,246.5 L320.3,245.7 L322.7,244.6 L325.0,243.2 L327.4,241.6 L329.7,239.8 L332.1,237.7 L334.4,235.4 L336.8,232.9 L339.1,230.4 L341.5,227.7 L343.8,224.8 L346.1,221.9 L348.5,218.8 L350.8,215.8 L353.2,212.8 L355.5,209.8 L357.9,206.7 L360.2,203.7 L362.6,200.8 L364.9,197.8 L367.3,194.8 L369.6,192.0 L372.0,189.3 L374.3,186.7 L376.6,184.1 L379.0,181.7 L381.3,179.3 L383.7,177.1 L386.0,175.1 L388.4,173.4 L390.7,171.8 L393.1,170.5 L395.4,169.3 L397.8,168.4 L400.1,167.8 L402.5,167.4 L404.8,167.3 L407.1,167.2 L409.5,167.4 L411.8,167.7 L414.2,168.3 L416.5,169.3 L418.9,170.5 L421.2,172.1 L423.6,174.0 L425.9,176.0 L428.3,178.1 L430.6,180.5 L433.0,183.0 L435.3,185.6 L437.7,188.4 L440.0,191.2 L442.3,194.2 L444.7,197.3 L447.0,200.5 L449.4,203.6 L451.7,206.6 L454.1,209.6 L456.4,212.5 L458.8,215.4 L461.1,218.2 L463.5,220.9 L465.8,223.6 L468.2,226.2 L470.5,228.8 L472.8,231.2 L475.2,233.5 L477.5,235.7 L479.9,237.7 L482.2,239.6 L484.6,241.4 L486.9,242.9 L489.3,244.3 L491.6,245.4 L494.0,246.3 L496.3,246.9 L498.7,247.2 L501.0,247.3" stroke="#ff3838"/>
<path d="M313.3,248.0 L315.6,247.5 L318.0,246.7 L320.3,245.6 L322.7,244.3 L325.0,242.6 L327.4,240.8 L329.7,238.7 L332.1,236.4 L334.4,233.9 L336.8,231.2 L339.1,228.4 L341.5,225.6 L343.8,222.6 L346.1,219.5 L348.5,216.4 L350.8,213.2 L353.2,210.2 L355.5,207.1 L357.9,204.0 L360.2,201.0 L362.6,198.1 L364.9,195.2 L367.3,192.3 L369.6,189.5 L372.0,186.9 L374.3,184.5 L376.6,182.1 L379.0,179.8 L381.3,177.6 L383.7,175.7 L386.0,173.9 L388.4,172.4 L390.7,171.1 L393.1,170.0 L395.4,169.1 L397.8,168.5 L400.1,168.1 L402.5,168.0 L404.8,168.1 L407.1,168.4 L409.5,168.8 L411.8,169.4 L414.2,170.3 L416.5,171.5 L418.9,173.0 L421.2,174.8 L423.6,177.0 L425.9,179.2 L428.3,181.5 L430.6,184.0 L433.0,186.7 L435.3,189.5 L437.7,192.4 L440.0,195.4 L442.3,198.5 L444.7,201.7 L447.0,204.8 L449.4,207.9 L451.7,211.0 L454.1,214.0 L456.4,216.8 L458.8,219.7 L461.1,222.4 L463.5,225.0 L465.8,227.6 L468.2,230.1 L470.5,232.5 L472.8,234.7 L475.2,236.9 L477.5,238.9 L479.9,240.7 L482.2,242.4 L484.6,243.9 L486.9,245.2 L489.3,246.3 L491.6,247.2 L494.0,247.8 L496.3,248.2 L498.7,248.2 L501.0,248.0" stroke="#22e4f0"/>
<path d="M313.3,246.8 L315.6,246.0 L318.0,244.9 L320.3,243.6 L322.7,241.9 L325.0,240.0 L327.4,237.9 L329.7,235.5 L332.1,233.0 L334.4,230.3 L336.8,227.4 L339.1,224.4 L341.5,221.4 L343.8,218.2 L346.1,214.9 L348.5,211.7 L350.8,208.4 L353.2,205.3 L355.5,202.1 L357.9,199.0 L360.2,196.0 L362.6,193.1 L364.9,190.2 L367.3,187.3 L369.6,184.7 L372.0,182.2 L374.3,179.8 L376.6,177.6 L379.0,175.5 L381.3,173.5 L383.7,171.7 L386.0,170.1 L388.4,168.8 L390.7,167.8 L393.1,166.9 L395.4,166.3 L397.8,165.9 L400.1,165.9 L402.5,166.0 L404.8,166.4 L407.1,166.9 L409.5,167.6 L411.8,168.5 L414.2,169.7 L416.5,171.2 L418.9,172.9 L421.2,175.1 L423.6,177.4 L425.9,179.9 L428.3,182.4 L430.6,185.2 L433.0,188.1 L435.3,191.1 L437.7,194.1 L440.0,197.3 L442.3,200.5 L444.7,203.7 L447.0,207.0 L449.4,210.1 L451.7,213.2 L454.1,216.2 L456.4,219.1 L458.8,221.9 L461.1,224.5 L463.5,227.1 L465.8,229.6 L468.2,232.0 L470.5,234.2 L472.8,236.3 L475.2,238.3 L477.5,240.1 L479.9,241.8 L482.2,243.3 L484.6,244.6 L486.9,245.6 L489.3,246.5 L491.6,247.1 L494.0,247.5 L496.3,247.5 L498.7,247.3 L501.0,246.8" stroke="#f4f020"/>
<path d="M313.3,246.1 L315.6,245.0 L318.0,243.6 L320.3,242.0 L322.7,240.1 L325.0,237.9 L327.4,235.4 L329.7,232.8 L332.1,230.1 L334.4,227.1 L336.8,224.0 L339.1,220.8 L341.5,217.6 L343.8,214.2 L346.1,210.8 L348.5,207.4 L350.8,204.1 L353.2,200.8 L355.5,197.6 L357.9,194.4 L360.2,191.4 L362.6,188.6 L364.9,185.7 L367.3,182.9 L369.6,180.3 L372.0,177.9 L374.3,175.7 L376.6,173.6 L379.0,171.7 L381.3,169.8 L383.7,168.2 L386.0,166.9 L388.4,165.9 L390.7,165.1 L393.1,164.5 L395.4,164.1 L397.8,164.0 L400.1,164.3 L402.5,164.7 L404.8,165.4 L407.1,166.2 L409.5,167.2 L411.8,168.4 L414.2,169.8 L416.5,171.6 L418.9,173.7 L421.2,176.1 L423.6,178.7 L425.9,181.4 L428.3,184.2 L430.6,187.1 L433.0,190.3 L435.3,193.4 L437.7,196.6 L440.0,199.9 L442.3,203.2 L444.7,206.6 L447.0,209.9 L449.4,213.1 L451.7,216.2 L454.1,219.2 L456.4,222.0 L458.8,224.8 L461.1,227.4 L463.5,229.9 L465.8,232.3 L468.2,234.5 L470.5,236.7 L472.8,238.6 L475.2,240.4 L477.5,242.0 L479.9,243.5 L482.2,244.8 L484.6,245.8 L486.9,246.6 L489.3,247.2 L491.6,247.6 L494.0,247.7 L496.3,247.4 L498.7,246.9 L501.0,246.1" stroke="#383838"/>
<path d="M313.3,245.4 L315.6,244.0 L318.0,242.3 L320.3,240.4 L322.7,238.3 L325.0,235.9 L327.4,233.3 L329.7,230.5 L332.1,227.5 L334.4,224.4 L336.8,221.2 L339.1,217.9 L341.5,214.6 L343.8,211.2 L346.1,207.7 L348.5,204.2 L350.8,200.9 L353.2,197.7 L355.5,194.6 L357.9,191.4 L360.2,188.5 L362.6,185.8 L364.9,183.1 L367.3,180.4 L369.6,178.0 L372.0,175.8 L374.3,173.8 L376.6,172.0 L379.0,170.3 L381.3,168.7 L383.7,167.4 L386.0,166.3 L388.4,165.6 L390.7,165.1 L393.1,164.8 L395.4,164.7 L397.8,164.9 L400.1,165.4 L402.5,166.1 L404.8,167.1 L407.1,168.1 L409.5,169.4 L411.8,170.8 L414.2,172.5 L416.5,174.5 L418.9,176.8 L421.2,179.4 L423.6,182.2 L425.9,185.1 L428.3,188.0 L430.6,191.1 L433.0,194.3 L435.3,197.6 L437.7,200.8 L440.0,204.2 L442.3,207.5 L444.7,210.8 L447.0,214.1 L449.4,217.2 L451.7,220.3 L454.1,223.1 L456.4,225.9 L458.8,228.5 L461.1,230.9 L463.5,233.3 L465.8,235.4 L468.2,237.5 L470.5,239.4 L472.8,241.1 L475.2,242.7 L477.5,244.0 L479.9,245.2 L482.2,246.2 L484.6,247.0 L486.9,247.6 L489.3,247.9 L491.6,248.0 L494.0,247.7 L496.3,247.2 L498.7,246.5 L501.0,245.4" stroke="#2828ff"/>
<path d="M313.3,242.8 L315.6,241.2 L318.0,239.3 L320.3,237.2 L322.7,234.9 L325.0,232.3 L327.4,229.5 L329.7,226.5 L332.1,223.5 L334.4,220.2 L336.8,216.9 L339.1,213.5 L341.5,210.1 L343.8,206.7 L346.1,203.2 L348.5,199.8 L350.8,196.5 L353.2,193.3 L355.5,190.3 L357.9,187.3 L360.2,184.5 L362.6,181.9 L364.9,179.4 L367.3,176.9 L369.6,174.7 L372.0,172.7 L374.3,171.0 L376.6,169.4 L379.0,167.9 L381.3,166.6 L383.7,165.6 L386.0,164.8 L388.4,164.4 L390.7,164.1 L393.1,164.1 L395.4,164.3 L397.8,164.8 L400.1,165.6 L402.5,166.6 L404.8,167.8 L407.1,169.2 L409.5,170.7 L411.8,172.3 L414.2,174.3 L416.5,176.4 L418.9,178.9 L421.2,181.7 L423.6,184.6 L425.9,187.7 L428.3,190.7 L430.6,193.9 L433.0,197.2 L435.3,200.5 L437.7,203.8 L440.0,207.1 L442.3,210.4 L444.7,213.7 L447.0,216.8 L449.4,219.9 L451.7,222.8 L454.1,225.5 L456.4,228.1 L458.8,230.5 L461.1,232.8 L463.5,235.0 L465.8,236.9 L468.2,238.7 L470.5,240.4 L472.8,241.9 L475.2,243.2 L477.5,244.3 L479.9,245.2 L482.2,245.9 L484.6,246.4 L486.9,246.7 L489.3,246.8 L491.6,246.5 L494.0,246.0 L496.3,245.3 L498.7,244.2 L501.0,242.9" stroke="#ff3838"/>
<path d="M313.3,241.7 L315.6,239.8 L318.0,237.7 L320.3,235.4 L322.7,232.8 L325.0,230.0 L327.4,227.0 L329.7,223.9 L332.1,220.7 L334.4,217.3 L336.8,213.9 L339.1,210.4 L341.5,207.0 L343.8,203.5 L346.1,200.0 L348.5,196.6 L350.8,193.3 L353.2,190.2 L355.5,187.3 L357.9,184.4 L360.2,181.7 L362.6,179.2 L364.9,176.9 L367.3,174.6 L369.6,172.6 L372.0,170.8 L374.3,169.3 L376.6,168.0 L379.0,166.8 L381.3,165.7 L383.7,165.0 L386.0,164.5 L388.4,164.3 L390.7,164.4 L393.1,164.7 L395.4,165.2 L397.8,165.9 L400.1,167.0 L402.5,168.3 L404.8,169.7 L407.1,171.3 L409.5,173.1 L411.8,175.0 L414.2,177.2 L416.5,179.6 L418.9,182.3 L421.2,185.2 L423.6,188.3 L425.9,191.5 L428.3,194.6 L430.6,197.9 L433.0,201.3 L435.3,204.7 L437.7,208.0 L440.0,211.3 L442.3,214.6 L444.7,217.8 L447.0,220.9 L449.4,223.9 L451.7,226.7 L454.1,229.3 L456.4,231.7 L458.8,234.0 L461.1,236.1 L463.5,238.0 L465.8,239.8 L468.2,241.4 L470.5,242.8 L472.8,244.0 L475.2,245.1 L477.5,245.9 L479.9,246.6 L482.2,247.0 L484.6,247.3 L486.9,247.3 L489.3,247.0 L491.6,246.5 L494.0,245.7 L496.3,244.7 L498.7,243.4 L501.0,241.7" stroke="#22e4f0"/>
<path d="M313.3,238.9 L315.6,236.8 L318.0,234.5 L320.3,232.1 L322.7,229.4 L325.0,226.5 L327.4,223.4 L329.7,220.3 L332.1,217.1 L334.4,213.7 L336.8,210.2 L339.1,206.8 L341.5,203.5 L343.8,200.1 L346.1,196.7 L348.5,193.4 L350.8,190.3 L353.2,187.3 L355.5,184.6 L357.9,181.9 L360.2,179.4 L362.6,177.3 L364.9,175.1 L367.3,173.1 L369.6,171.4 L372.0,169.9 L374.3,168.7 L376.6,167.7 L379.0,166.8 L381.3,166.1 L383.7,165.6 L386.0,165.4 L388.4,165.5 L390.7,165.9 L393.1,166.5 L395.4,167.2 L397.8,168.2 L400.1,169.5 L402.5,171.0 L404.8,172.7 L407.1,174.5 L409.5,176.4 L411.8,178.5 L414.2,180.8 L416.5,183.3 L418.9,186.0 L421.2,189.1 L423.6,192.2 L425.9,195.4 L428.3,198.6 L430.6,201.8 L433.0,205.2 L435.3,208.4 L437.7,211.7 L440.0,214.9 L442.3,218.0 L444.7,221.1 L447.0,224.0 L449.4,226.8 L451.7,229.3 L454.1,231.7 L456.4,233.9 L458.8,235.9 L461.1,237.7 L463.5,239.4 L465.8,240.9 L468.2,242.2 L470.5,243.3 L472.8,244.3 L475.2,245.0 L477.5,245.6 L479.9,246.0 L482.2,246.2 L484.6,246.1 L486.9,245.8 L489.3,245.3 L491.6,244.6 L494.0,243.6 L496.3,242.3 L498.7,240.7 L501.0,238.9" stroke="#f4f020"/>
<path d="M313.3,236.9 L315.6,234.5 L318.0,232.0 L320.3,229.3 L322.7,226.4 L325.0,223.3 L327.4,220.0 L329.7,216.7 L332.1,213.3 L334.4,209.8 L336.8,206.2 L339.1,202.7 L341.5,199.3 L343.8,195.9 L346.1,192.4 L348.5,189.1 L350.8,186.0 L353.2,183.1 L355.5,180.4 L357.9,177.8 L360.2,175.5 L362.6,173.5 L364.9,171.5 L367.3,169.7 L369.6,168.1 L372.0,166.9 L374.3,165.9 L376.6,165.1 L379.0,164.5 L381.3,164.0 L383.7,163.9 L386.0,164.0 L388.4,164.4 L390.7,165.0 L393.1,165.9 L395.4,166.9 L397.8,168.2 L400.1,169.8 L402.5,171.6 L404.8,173.5 L407.1,175.6 L409.5,177.8 L411.8,180.1 L414.2,182.6 L416.5,185.4 L418.9,188.4 L421.2,191.6 L423.6,194.9 L425.9,198.2 L428.3,201.5 L430.6,204.9 L433.0,208.4 L435.3,211.7 L437.7,215.0 L440.0,218.2 L442.3,221.4 L444.7,224.4 L447.0,227.2 L449.4,229.9 L451.7,232.4 L454.1,234.6 L456.4,236.7 L458.8,238.6 L461.1,240.2 L463.5,241.7 L465.8,243.0 L468.2,244.1 L470.5,245.0 L472.8,245.7 L475.2,246.2 L477.5,246.5 L479.9,246.6 L482.2,246.5 L484.6,246.2 L486.9,245.6 L489.3,244.8 L491.6,243.8 L494.0,242.5 L496.3,240.9 L498.7,239.0 L501.0,236.9" stroke="#383838"/>
<path d="M313.3,234.1 L315.6,231.6 L318.0,229.0 L320.3,226.2 L322.7,223.3 L325.0,220.2 L327.4,216.9 L329.7,213.6 L332.1,210.3 L334.4,206.9 L336.8,203.4 L339.1,200.0 L341.5,196.8 L343.8,193.5 L346.1,190.2 L348.5,187.1 L350.8,184.2 L353.2,181.6 L355.5,179.1 L357.9,176.8 L360.2,174.7 L362.6,173.0 L364.9,171.3 L367.3,169.8 L369.6,168.5 L372.0,167.6 L374.3,167.0 L376.6,166.5 L379.0,166.2 L381.3,166.0 L383.7,166.1 L386.0,166.5 L388.4,167.2 L390.7,168.1 L393.1,169.2 L395.4,170.4 L397.8,171.9 L400.1,173.7 L402.5,175.6 L404.8,177.7 L407.1,179.9 L409.5,182.2 L411.8,184.6 L414.2,187.2 L416.5,190.0 L418.9,193.0 L421.2,196.2 L423.6,199.5 L425.9,202.8 L428.3,206.0 L430.6,209.3 L433.0,212.6 L435.3,215.8 L437.7,218.9 L440.0,222.0 L442.3,224.9 L444.7,227.7 L447.0,230.3 L449.4,232.7 L451.7,234.9 L454.1,236.9 L456.4,238.7 L458.8,240.2 L461.1,241.6 L463.5,242.8 L465.8,243.7 L468.2,244.5 L470.5,245.1 L472.8,245.6 L475.2,245.8 L477.5,245.8 L479.9,245.7 L482.2,245.3 L484.6,244.7 L486.9,243.9 L489.3,242.9 L491.6,241.7 L494.0,240.1 L496.3,238.4 L498.7,236.4 L501.0,234.1" stroke="#2828ff"/>
<path d="M313.3,231.6 L315.6,229.0 L318.0,226.3 L320.3,223.4 L322.7,220.4 L325.0,217.3 L327.4,214.0 L329.7,210.7 L332.1,207.4 L334.4,204.0 L336.8,200.6 L339.1,197.2 L341.5,194.1 L343.8,190.9 L346.1,187.8 L348.5,184.8 L350.8,182.1 L353.2,179.7 L355.5,177.5 L357.9,175.4 L360.2,173.6 L362.6,172.1 L364.9,170.7 L367.3,169.4 L369.6,168.5 L372.0,167.8 L374.3,167.5 L376.6,167.3 L379.0,167.2 L381.3,167.3 L383.7,167.7 L386.0,168.4 L388.4,169.3 L390.7,170.5 L393.1,171.8 L395.4,173.3 L397.8,175.0 L400.1,176.9 L402.5,179.1 L404.8,181.3 L407.1,183.6 L409.5,186.1 L411.8,188.6 L414.2,191.3 L416.5,194.2 L418.9,197.2 L421.2,200.4 L423.6,203.7 L425.9,207.0 L428.3,210.2 L430.6,213.4 L433.0,216.6 L435.3,219.7 L437.7,222.7 L440.0,225.6 L442.3,228.3 L444.7,230.9 L447.0,233.3 L449.4,235.5 L451.7,237.5 L454.1,239.2 L456.4,240.7 L458.8,242.1 L461.1,243.2 L463.5,244.1 L465.8,244.8 L468.2,245.3 L470.5,245.6 L472.8,245.8 L475.2,245.7 L477.5,245.5 L479.9,245.1 L482.2,244.5 L484.6,243.7 L486.9,242.6 L489.3,241.4 L491.6,239.9 L494.0,238.2 L496.3,236.2 L498.7,234.0 L501.0,231.7" stroke="#ff3838"/>
<path d="M313.3,228.6 L315.6,225.7 L318.0,222.8 L320.3,219.7 L322.7,216.5 L325.0,213.1 L327.4,209.7 L329.7,206.2 L332.1,202.8 L334.4,199.3 L336.8,195.8 L339.1,192.4 L341.5,189.2 L343.8,186.0 L346.1,182.9 L348.5,180.0 L350.8,177.3 L353.2,175.0 L355.5,172.9 L357.9,170.9 L360.2,169.2 L362.6,167.9 L364.9,166.7 L367.3,165.7 L369.6,165.0 L372.0,164.6 L374.3,164.5 L376.6,164.6 L379.0,164.8 L381.3,165.2 L383.7,165.9 L386.0,166.9 L388.4,168.1 L390.7,169.5 L393.1,171.2 L395.4,172.9 L397.8,175.0 L400.1,177.2 L402.5,179.6 L404.8,182.1 L407.1,184.7 L409.5,187.4 L411.8,190.2 L414.2,193.1 L416.5,196.2 L418.9,199.4 L421.2,202.8 L423.6,206.2 L425.9,209.6 L428.3,212.9 L430.6,216.2 L433.0,219.5 L435.3,222.6 L437.7,225.6 L440.0,228.5 L442.3,231.2 L444.7,233.8 L447.0,236.1 L449.4,238.1 L451.7,240.0 L454.1,241.6 L456.4,242.9 L458.8,244.0 L461.1,244.9 L463.5,245.6 L465.8,246.1 L468.2,246.4 L470.5,246.5 L472.8,246.3 L475.2,246.0 L477.5,245.5 L479.9,244.8 L482.2,243.9 L484.6,242.8 L486.9,241.4 L489.3,239.9 L491.6,238.1 L494.0,236.1 L496.3,233.8 L498.7,231.3 L501.0,228.7" stroke="#22e4f0"/>
<path d="M313.3,225.0 L315.6,222.1 L318.0,219.0 L320.3,215.9 L322.7,212.7 L325.0,209.3 L327.4,205.8 L329.7,202.5 L332.1,199.1 L334.4,195.7 L336.8,192.2 L339.1,189.0 L341.5,186.0 L343.8,183.0 L346.1,180.0 L348.5,177.2 L350.8,174.8 L353.2,172.7 L355.5,170.9 L357.9,169.2 L360.2,167.7 L362.6,166.7 L364.9,165.8 L367.3,165.0 L369.6,164.6 L372.0,164.5 L374.3,164.7 L376.6,165.1 L379.0,165.6 L381.3,166.3 L383.7,167.2 L386.0,168.5 L388.4,170.0 L390.7,171.6 L393.1,173.5 L395.4,175.4 L397.8,177.6 L400.1,180.0 L402.5,182.6 L404.8,185.2 L407.1,187.9 L409.5,190.7 L411.8,193.5 L414.2,196.5 L416.5,199.6 L418.9,202.9 L421.2,206.2 L423.6,209.6 L425.9,212.9 L428.3,216.2 L430.6,219.4 L433.0,222.5 L435.3,225.5 L437.7,228.4 L440.0,231.1 L442.3,233.6 L444.7,235.9 L447.0,237.9 L449.4,239.8 L451.7,241.3 L454.1,242.7 L456.4,243.7 L458.8,244.6 L461.1,245.2 L463.5,245.6 L465.8,245.8 L468.2,245.8 L470.5,245.6 L472.8,245.2 L475.2,244.7 L477.5,243.9 L479.9,242.9 L482.2,241.8 L484.6,240.4 L486.9,238.9 L489.3,237.1 L491.6,235.2 L494.0,233.0 L496.3,230.5 L498.7,227.9 L501.0,225.1" stroke="#f4f020"/>
<path d="M313.3,223.3 L315.6,220.4 L318.0,217.3 L320.3,214.2 L322.7,211.0 L325.0,207.7 L327.4,204.3 L329.7,201.0 L332.1,197.8 L334.4,194.4 L336.8,191.2 L339.1,188.1 L341.5,185.3 L343.8,182.4 L346.1,179.7 L348.5,177.2 L350.8,175.0 L353.2,173.2 L355.5,171.6 L357.9,170.1 L360.2,169.0 L362.6,168.3 L364.9,167.7 L367.3,167.2 L369.6,167.0 L372.0,167.2 L374.3,167.7 L376.6,168.4 L379.0,169.2 L381.3,170.1 L383.7,171.3 L386.0,172.8 L388.4,174.4 L390.7,176.3 L393.1,178.3 L395.4,180.5 L397.8,182.8 L400.1,185.3 L402.5,187.9 L404.8,190.6 L407.1,193.4 L409.5,196.2 L411.8,199.1 L414.2,202.1 L416.5,205.2 L418.9,208.4 L421.2,211.7 L423.6,215.0 L425.9,218.2 L428.3,221.3 L430.6,224.4 L433.0,227.3 L435.3,230.1 L437.7,232.8 L440.0,235.2 L442.3,237.5 L444.7,239.5 L447.0,241.3 L449.4,242.9 L451.7,244.2 L454.1,245.2 L456.4,246.0 L458.8,246.6 L461.1,247.0 L463.5,247.1 L465.8,247.0 L468.2,246.7 L470.5,246.3 L472.8,245.6 L475.2,244.8 L477.5,243.8 L479.9,242.6 L482.2,241.3 L484.6,239.7 L486.9,238.0 L489.3,236.1 L491.6,234.0 L494.0,231.6 L496.3,229.1 L498.7,226.3 L501.0,223.5" stroke="#383838"/>
<path d="M313.3,218.6 L315.6,215.4 L318.0,212.1 L320.3,208.8 L322.7,205.5 L325.0,202.0 L327.4,198.5 L329.7,195.2 L332.1,191.9 L334.4,188.5 L336.8,185.2 L339.1,182.1 L341.5,179.4 L343.8,176.6 L346.1,173.9 L348.5,171.5 L350.8,169.5 L353.2,167.8 L355.5,166.4 L357.9,165.1 L360.2,164.2 L362.6,163.7 L364.9,163.4 L367.3,163.1 L369.6,163.3 L372.0,163.8 L374.3,164.5 L376.6,165.5 L379.0,166.6 L381.3,167.9 L383.7,169.4 L386.0,171.2 L388.4,173.2 L390.7,175.3 L393.1,177.6 L395.4,180.1 L397.8,182.7 L400.1,185.4 L402.5,188.3 L404.8,191.3 L407.1,194.3 L409.5,197.3 L411.8,200.4 L414.2,203.6 L416.5,206.8 L418.9,210.1 L421.2,213.5 L423.6,216.9 L425.9,220.2 L428.3,223.4 L430.6,226.4 L433.0,229.4 L435.3,232.2 L437.7,234.8 L440.0,237.1 L442.3,239.3 L444.7,241.2 L447.0,242.8 L449.4,244.2 L451.7,245.3 L454.1,246.2 L456.4,246.7 L458.8,247.1 L461.1,247.2 L463.5,247.0 L465.8,246.7 L468.2,246.1 L470.5,245.4 L472.8,244.4 L475.2,243.3 L477.5,242.0 L479.9,240.5 L482.2,238.8 L484.6,237.0 L486.9,234.9 L489.3,232.7 L491.6,230.3 L494.0,227.7 L496.3,224.8 L498.7,221.8 L501.0,218.8" stroke="#2828ff"/>
<path d="M313.3,214.9 L315.6,211.7 L318.0,208.4 L320.3,205.1 L322.7,201.8 L325.0,198.4 L327.4,195.0 L329.7,191.7 L332.1,188.5 L334.4,185.3 L336.8,182.2 L339.1,179.3 L341.5,176.7 L343.8,174.1 L346.1,171.7 L348.5,169.5 L350.8,167.7 L353.2,166.3 L355.5,165.2 L357.9,164.2 L360.2,163.6 L362.6,163.4 L364.9,163.3 L367.3,163.4 L369.6,163.8 L372.0,164.6 L374.3,165.6 L376.6,166.9 L379.0,168.3 L381.3,169.8 L383.7,171.5 L386.0,173.5 L388.4,175.7 L390.7,178.1 L393.1,180.6 L395.4,183.1 L397.8,185.9 L400.1,188.7 L402.5,191.7 L404.8,194.7 L407.1,197.8 L409.5,200.9 L411.8,204.0 L414.2,207.1 L416.5,210.4 L418.9,213.6 L421.2,217.0 L423.6,220.2 L425.9,223.4 L428.3,226.4 L430.6,229.3 L433.0,232.1 L435.3,234.7 L437.7,237.1 L440.0,239.2 L442.3,241.1 L444.7,242.8 L447.0,244.2 L449.4,245.3 L451.7,246.1 L454.1,246.7 L456.4,246.9 L458.8,247.0 L461.1,246.8 L463.5,246.4 L465.8,245.8 L468.2,245.0 L470.5,243.9 L472.8,242.8 L475.2,241.4 L477.5,239.9 L479.9,238.1 L482.2,236.3 L484.6,234.2 L486.9,232.0 L489.3,229.6 L491.6,227.1 L494.0,224.3 L496.3,221.3 L498.7,218.2 L501.0,215.1" stroke="#ff3838"/>
<path d="M313.3,212.2 L315.6,209.0 L318.0,205.8 L320.3,202.5 L322.7,199.3 L325.0,196.0 L327.4,192.7 L329.7,189.6 L332.1,186.6 L334.4,183.6 L336.8,180.6 L339.1,177.9 L341.5,175.6 L343.8,173.3 L346.1,171.1 L348.5,169.1 L350.8,167.6 L353.2,166.5 L355.5,165.7 L357.9,165.0 L360.2,164.7 L362.6,164.8 L364.9,165.0 L367.3,165.4 L369.6,166.1 L372.0,167.1 L374.3,168.4 L376.6,169.9 L379.0,171.5 L381.3,173.3 L383.7,175.2 L386.0,177.4 L388.4,179.8 L390.7,182.3 L393.1,184.9 L395.4,187.6 L397.8,190.4 L400.1,193.3 L402.5,196.3 L404.8,199.4 L407.1,202.4 L409.5,205.5 L411.8,208.5 L414.2,211.6 L416.5,214.8 L418.9,218.0 L421.2,221.2 L423.6,224.3 L425.9,227.3 L428.3,230.1 L430.6,232.9 L433.0,235.4 L435.3,237.8 L437.7,239.9 L440.0,241.8 L442.3,243.4 L444.7,244.8 L447.0,245.9 L449.4,246.7 L451.7,247.3 L454.1,247.5 L456.4,247.5 L458.8,247.3 L461.1,246.9 L463.5,246.2 L465.8,245.3 L468.2,244.2 L470.5,243.0 L472.8,241.6 L475.2,240.0 L477.5,238.3 L479.9,236.4 L482.2,234.3 L484.6,232.1 L486.9,229.8 L489.3,227.3 L491.6,224.6 L494.0,221.8 L496.3,218.7 L498.7,215.6 L501.0,212.4" stroke="#22e4f0"/>
<path d="M313.3,207.1 L315.6,203.8 L318.0,200.5 L320.3,197.2 L322.7,194.0 L325.0,190.7 L327.4,187.4 L329.7,184.3 L332.1,181.3 L334.4,178.4 L336.8,175.5 L339.1,173.0 L341.5,170.8 L343.8,168.6 L346.1,166.6 L348.5,164.9 L350.8,163.6 L353.2,162.7 L355.5,162.1 L357.9,161.7 L360.2,161.7 L362.6,162.1 L364.9,162.6 L367.3,163.2 L369.6,164.3 L372.0,165.6 L374.3,167.2 L376.6,169.0 L379.0,170.9 L381.3,173.0 L383.7,175.2 L386.0,177.7 L388.4,180.3 L390.7,183.0 L393.1,185.9 L395.4,188.8 L397.8,191.8 L400.1,194.9 L402.5,198.1 L404.8,201.2 L407.1,204.4 L409.5,207.6 L411.8,210.7 L414.2,213.9 L416.5,217.1 L418.9,220.3 L421.2,223.5 L423.6,226.6 L425.9,229.5 L428.3,232.3 L430.6,234.9 L433.0,237.4 L435.3,239.6 L437.7,241.5 L440.0,243.2 L442.3,244.7 L444.7,245.8 L447.0,246.7 L449.4,247.3 L451.7,247.5 L454.1,247.5 L456.4,247.3 L458.8,246.8 L461.1,246.0 L463.5,245.0 L465.8,243.9 L468.2,242.5 L470.5,241.0 L472.8,239.3 L475.2,237.4 L477.5,235.4 L479.9,233.2 L482.2,230.9 L484.6,228.5 L486.9,225.9 L489.3,223.1 L491.6,220.3 L494.0,217.2 L496.3,214.0 L498.7,210.7 L501.0,207.4" stroke="#f4f020"/>
<path d="M313.3,204.2 L315.6,201.0 L318.0,197.8 L320.3,194.7 L322.7,191.6 L325.0,188.4 L327.4,185.3 L329.7,182.5 L332.1,179.8 L334.4,177.0 L336.8,174.4 L339.1,172.1 L341.5,170.2 L343.8,168.3 L346.1,166.6 L348.5,165.2 L350.8,164.2 L353.2,163.6 L355.5,163.3 L357.9,163.2 L360.2,163.5 L362.6,164.2 L364.9,165.0 L367.3,165.9 L369.6,167.2 L372.0,168.8 L374.3,170.6 L376.6,172.6 L379.0,174.7 L381.3,176.9 L383.7,179.3 L386.0,181.9 L388.4,184.6 L390.7,187.4 L393.1,190.3 L395.4,193.3 L397.8,196.3 L400.1,199.4 L402.5,202.5 L404.8,205.6 L407.1,208.7 L409.5,211.8 L411.8,214.9 L414.2,217.9 L416.5,221.0 L418.9,224.0 L421.2,227.0 L423.6,229.9 L425.9,232.6 L428.3,235.1 L430.6,237.5 L433.0,239.7 L435.3,241.6 L437.7,243.3 L440.0,244.7 L442.3,245.8 L444.7,246.7 L447.0,247.3 L449.4,247.5 L451.7,247.5 L454.1,247.2 L456.4,246.7 L458.8,245.9 L461.1,244.9 L463.5,243.7 L465.8,242.3 L468.2,240.7 L470.5,239.0 L472.8,237.1 L475.2,235.1 L477.5,233.0 L479.9,230.7 L482.2,228.2 L484.6,225.7 L486.9,223.0 L489.3,220.2 L491.6,217.3 L494.0,214.3 L496.3,211.0 L498.7,207.7 L501.0,204.5" stroke="#383838"/>
<path d="M313.3,202.1 L315.6,199.1 L318.0,196.1 L320.3,193.1 L322.7,190.2 L325.0,187.3 L327.4,184.5 L329.7,181.8 L332.1,179.4 L334.4,176.9 L336.8,174.6 L339.1,172.6 L341.5,171.0 L343.8,169.4 L346.1,168.0 L348.5,166.9 L350.8,166.2 L353.2,165.9 L355.5,165.9 L357.9,166.1 L360.2,166.6 L362.6,167.6 L364.9,168.6 L367.3,169.8 L369.6,171.3 L372.0,173.1 L374.3,175.1 L376.6,177.3 L379.0,179.5 L381.3,181.8 L383.7,184.3 L386.0,187.0 L388.4,189.7 L390.7,192.6 L393.1,195.5 L395.4,198.4 L397.8,201.3 L400.1,204.3 L402.5,207.4 L404.8,210.4 L407.1,213.3 L409.5,216.2 L411.8,219.1 L414.2,222.0 L416.5,224.9 L418.9,227.7 L421.2,230.4 L423.6,233.0 L425.9,235.5 L428.3,237.7 L430.6,239.8 L433.0,241.7 L435.3,243.4 L437.7,244.7 L440.0,245.9 L442.3,246.7 L444.7,247.3 L447.0,247.5 L449.4,247.5 L451.7,247.2 L454.1,246.7 L456.4,245.9 L458.8,244.9 L461.1,243.7 L463.5,242.3 L465.8,240.7 L468.2,238.9 L470.5,237.1 L472.8,235.1 L475.2,232.9 L477.5,230.7 L479.9,228.3 L482.2,225.8 L484.6,223.2 L486.9,220.5 L489.3,217.8 L491.6,214.9 L494.0,211.9 L496.3,208.7 L498.7,205.6 L501.0,202.4" stroke="#2828ff"/>
<path d="M313.3,197.5 L315.6,194.4 L318.0,191.4 L320.3,188.4 L322.7,185.6 L325.0,182.8 L327.4,180.0 L329.7,177.5 L332.1,175.2 L334.4,172.9 L336.8,170.8 L339.1,169.0 L341.5,167.6 L343.8,166.2 L346.1,165.0 L348.5,164.1 L350.8,163.7 L353.2,163.7 L355.5,164.0 L357.9,164.5 L360.2,165.3 L362.6,166.5 L364.9,167.9 L367.3,169.3 L369.6,171.1 L372.0,173.2 L374.3,175.5 L376.6,177.9 L379.0,180.4 L381.3,183.0 L383.7,185.7 L386.0,188.6 L388.4,191.5 L390.7,194.5 L393.1,197.6 L395.4,200.6 L397.8,203.7 L400.1,206.8 L402.5,209.9 L404.8,213.0 L407.1,216.0 L409.5,218.9 L411.8,221.8 L414.2,224.7 L416.5,227.5 L418.9,230.2 L421.2,232.8 L423.6,235.3 L425.9,237.7 L428.3,239.8 L430.6,241.7 L433.0,243.4 L435.3,244.8 L437.7,246.0 L440.0,246.9 L442.3,247.5 L444.7,247.8 L447.0,247.8 L449.4,247.5 L451.7,246.9 L454.1,246.1 L456.4,245.0 L458.8,243.7 L461.1,242.2 L463.5,240.5 L465.8,238.7 L468.2,236.7 L470.5,234.6 L472.8,232.3 L475.2,229.9 L477.5,227.5 L479.9,224.9 L482.2,222.2 L484.6,219.4 L486.9,216.6 L489.3,213.6 L491.6,210.6 L494.0,207.5 L496.3,204.2 L498.7,201.0 L501.0,197.8" stroke="#ff3838"/>
<path d="M313.3,194.8 L315.6,191.8 L318.0,188.9 L320.3,186.1 L322.7,183.4 L325.0,180.8 L327.4,178.2 L329.7,175.9 L332.1,173.8 L334.4,171.7 L336.8,169.8 L339.1,168.2 L341.5,167.1 L343.8,166.0 L346.1,165.1 L348.5,164.5 L350.8,164.4 L353.2,164.7 L355.5,165.2 L357.9,166.0 L360.2,167.1 L362.6,168.6 L364.9,170.2 L367.3,171.9 L369.6,174.0 L372.0,176.3 L374.3,178.8 L376.6,181.4 L379.0,184.1 L381.3,186.8 L383.7,189.7 L386.0,192.7 L388.4,195.7 L390.7,198.8 L393.1,201.9 L395.4,205.0 L397.8,208.0 L400.1,211.1 L402.5,214.2 L404.8,217.2 L407.1,220.1 L409.5,223.0 L411.8,225.8 L414.2,228.5 L416.5,231.2 L418.9,233.8 L421.2,236.2 L423.6,238.5 L425.9,240.7 L428.3,242.6 L430.6,244.2 L433.0,245.7 L435.3,246.9 L437.7,247.7 L440.0,248.4 L442.3,248.7 L444.7,248.7 L447.0,248.4 L449.4,247.8 L451.7,247.0 L454.1,245.9 L456.4,244.6 L458.8,243.1 L461.1,241.3 L463.5,239.4 L465.8,237.3 L468.2,235.1 L470.5,232.8 L472.8,230.4 L475.2,227.9 L477.5,225.3 L479.9,222.6 L482.2,219.8 L484.6,216.9 L486.9,213.9 L489.3,211.0 L491.6,208.0 L494.0,204.8 L496.3,201.5 L498.7,198.3 L501.0,195.1" stroke="#22e4f0"/>
<path d="M313.3,191.9 L315.6,189.1 L318.0,186.4 L320.3,183.8 L322.7,181.4 L325.0,178.9 L327.4,176.6 L329.7,174.6 L332.1,172.8 L334.4,171.0 L336.8,169.3 L339.1,168.1 L341.5,167.2 L343.8,166.4 L346.1,165.8 L348.5,165.5 L350.8,165.7 L353.2,166.2 L355.5,167.1 L357.9,168.1 L360.2,169.4 L362.6,171.2 L364.9,173.0 L367.3,174.9 L369.6,177.1 L372.0,179.6 L374.3,182.2 L376.6,184.9 L379.0,187.7 L381.3,190.5 L383.7,193.4 L386.0,196.4 L388.4,199.4 L390.7,202.5 L393.1,205.5 L395.4,208.5 L397.8,211.5 L400.1,214.4 L402.5,217.4 L404.8,220.2 L407.1,223.0 L409.5,225.7 L411.8,228.3 L414.2,230.8 L416.5,233.2 L418.9,235.6 L421.2,237.8 L423.6,239.8 L425.9,241.6 L428.3,243.3 L430.6,244.7 L433.0,245.8 L435.3,246.7 L437.7,247.3 L440.0,247.6 L442.3,247.7 L444.7,247.4 L447.0,246.9 L449.4,246.0 L451.7,245.0 L454.1,243.7 L456.4,242.1 L458.8,240.4 L461.1,238.5 L463.5,236.4 L465.8,234.2 L468.2,231.9 L470.5,229.5 L472.8,227.0 L475.2,224.4 L477.5,221.7 L479.9,219.0 L482.2,216.2 L484.6,213.3 L486.9,210.4 L489.3,207.5 L491.6,204.6 L494.0,201.5 L496.3,198.3 L498.7,195.2 L501.0,192.2" stroke="#f4f020"/>
<path d="M313.3,188.6 L315.6,186.0 L318.0,183.4 L320.3,181.0 L322.7,178.8 L325.0,176.5 L327.4,174.4 L329.7,172.6 L332.1,171.1 L334.4,169.5 L336.8,168.1 L339.1,167.1 L341.5,166.5 L343.8,166.0 L346.1,165.7 L348.5,165.6 L350.8,166.1 L353.2,166.9 L355.5,168.0 L357.9,169.3 L360.2,170.9 L362.6,172.9 L364.9,174.9 L367.3,177.1 L369.6,179.5 L372.0,182.1 L374.3,185.0 L376.6,187.8 L379.0,190.7 L381.3,193.6 L383.7,196.6 L386.0,199.7 L388.4,202.8 L390.7,205.9 L393.1,208.9 L395.4,211.9 L397.8,214.8 L400.1,217.7 L402.5,220.6 L404.8,223.3 L407.1,226.0 L409.5,228.6 L411.8,231.0 L414.2,233.4 L416.5,235.6 L418.9,237.8 L421.2,239.8 L423.6,241.6 L425.9,243.2 L428.3,244.6 L430.6,245.7 L433.0,246.6 L435.3,247.2 L437.7,247.6 L440.0,247.6 L442.3,247.4 L444.7,246.9 L447.0,246.0 L449.4,245.0 L451.7,243.7 L454.1,242.1 L456.4,240.4 L458.8,238.4 L461.1,236.3 L463.5,234.0 L465.8,231.6 L468.2,229.1 L470.5,226.6 L472.8,223.9 L475.2,221.3 L477.5,218.5 L479.9,215.7 L482.2,212.8 L484.6,209.9 L486.9,207.0 L489.3,204.1 L491.6,201.1 L494.0,198.1 L496.3,194.9 L498.7,191.9 L501.0,189.0" stroke="#383838"/>
<path d="M313.3,184.0 L315.6,181.4 L318.0,178.9 L320.3,176.6 L322.7,174.5 L325.0,172.5 L327.4,170.5 L329.7,168.9 L332.1,167.5 L334.4,166.2 L336.8,165.0 L339.1,164.3 L341.5,164.0 L343.8,163.8 L346.1,163.7 L348.5,164.0 L350.8,164.7 L353.2,165.8 L355.5,167.3 L357.9,168.8 L360.2,170.7 L362.6,173.0 L364.9,175.4 L367.3,177.8 L369.6,180.5 L372.0,183.4 L374.3,186.5 L376.6,189.6 L379.0,192.7 L381.3,195.8 L383.7,199.0 L386.0,202.2 L388.4,205.4 L390.7,208.6 L393.1,211.7 L395.4,214.8 L397.8,217.8 L400.1,220.7 L402.5,223.5 L404.8,226.3 L407.1,228.9 L409.5,231.4 L411.8,233.8 L414.2,236.0 L416.5,238.2 L418.9,240.2 L421.2,242.0 L423.6,243.6 L425.9,245.0 L428.3,246.2 L430.6,247.1 L433.0,247.7 L435.3,248.1 L437.7,248.1 L440.0,247.9 L442.3,247.4 L444.7,246.6 L447.0,245.5 L449.4,244.1 L451.7,242.5 L454.1,240.7 L456.4,238.6 L458.8,236.4 L461.1,234.0 L463.5,231.5 L465.8,228.8 L468.2,226.1 L470.5,223.3 L472.8,220.5 L475.2,217.6 L477.5,214.7 L479.9,211.7 L482.2,208.6 L484.6,205.6 L486.9,202.6 L489.3,199.6 L491.6,196.6 L494.0,193.5 L496.3,190.3 L498.7,187.2 L501.0,184.4" stroke="#2828ff"/>
<path d="M313.3,179.9 L315.6,177.5 L318.0,175.2 L320.3,173.0 L322.7,171.1 L325.0,169.3 L327.4,167.6 L329.7,166.2 L332.1,165.1 L334.4,164.0 L336.8,163.2 L339.1,162.7 L341.5,162.7 L343.8,162.7 L346.1,163.0 L348.5,163.5 L350.8,164.6 L353.2,166.0 L355.5,167.7 L357.9,169.5 L360.2,171.7 L362.6,174.2 L364.9,176.8 L367.3,179.5 L369.6,182.4 L372.0,185.5 L374.3,188.7 L376.6,192.0 L379.0,195.2 L381.3,198.4 L383.7,201.7 L386.0,205.0 L388.4,208.2 L390.7,211.4 L393.1,214.5 L395.4,217.5 L397.8,220.5 L400.1,223.3 L402.5,226.1 L404.8,228.7 L407.1,231.2 L409.5,233.6 L411.8,235.8 L414.2,237.9 L416.5,239.8 L418.9,241.6 L421.2,243.2 L423.6,244.6 L425.9,245.7 L428.3,246.6 L430.6,247.3 L433.0,247.6 L435.3,247.7 L437.7,247.5 L440.0,246.9 L442.3,246.1 L444.7,245.0 L447.0,243.7 L449.4,242.0 L451.7,240.2 L454.1,238.1 L456.4,235.8 L458.8,233.4 L461.1,230.8 L463.5,228.0 L465.8,225.2 L468.2,222.3 L470.5,219.4 L472.8,216.4 L475.2,213.4 L477.5,210.4 L479.9,207.3 L482.2,204.3 L484.6,201.2 L486.9,198.1 L489.3,195.1 L491.6,192.2 L494.0,189.1 L496.3,186.0 L498.7,183.1 L501.0,180.3" stroke="#ff3838"/>
<path d="M313.3,177.1 L315.6,174.9 L318.0,172.7 L320.3,170.8 L322.7,169.2 L325.0,167.5 L327.4,166.1 L329.7,165.0 L332.1,164.1 L334.4,163.4 L336.8,162.8 L339.1,162.6 L341.5,162.9 L343.8,163.2 L346.1,163.7 L348.5,164.6 L350.8,165.9 L353.2,167.6 L355.5,169.6 L357.9,171.7 L360.2,174.2 L362.6,176.9 L364.9,179.7 L367.3,182.6 L369.6,185.7 L372.0,189.0 L374.3,192.3 L376.6,195.7 L379.0,199.1 L381.3,202.4 L383.7,205.7 L386.0,209.0 L388.4,212.3 L390.7,215.5 L393.1,218.5 L395.4,221.5 L397.8,224.4 L400.1,227.1 L402.5,229.8 L404.8,232.2 L407.1,234.6 L409.5,236.8 L411.8,238.8 L414.2,240.7 L416.5,242.4 L418.9,244.0 L421.2,245.3 L423.6,246.4 L425.9,247.3 L428.3,247.9 L430.6,248.3 L433.0,248.4 L435.3,248.1 L437.7,247.6 L440.0,246.8 L442.3,245.7 L444.7,244.3 L447.0,242.7 L449.4,240.8 L451.7,238.7 L454.1,236.4 L456.4,233.9 L458.8,231.2 L461.1,228.4 L463.5,225.5 L465.8,222.6 L468.2,219.5 L470.5,216.5 L472.8,213.4 L475.2,210.3 L477.5,207.2 L479.9,204.1 L482.2,201.0 L484.6,197.9 L486.9,194.9 L489.3,191.9 L491.6,189.0 L494.0,186.0 L496.3,183.0 L498.7,180.1 L501.0,177.6" stroke="#22e4f0"/>
<path d="M313.3,175.2 L315.6,173.1 L318.0,171.3 L320.3,169.6 L322.7,168.2 L325.0,166.9 L327.4,165.7 L329.7,164.9 L332.1,164.4 L334.4,163.9 L336.8,163.6 L339.1,163.7 L341.5,164.3 L343.8,164.9 L346.1,165.7 L348.5,166.8 L350.8,168.4 L353.2,170.3 L355.5,172.5 L357.9,174.9 L360.2,177.5 L362.6,180.4 L364.9,183.4 L367.3,186.4 L369.6,189.6 L372.0,192.9 L374.3,196.3 L376.6,199.8 L379.0,203.1 L381.3,206.4 L383.7,209.7 L386.0,212.9 L388.4,216.1 L390.7,219.2 L393.1,222.1 L395.4,225.0 L397.8,227.7 L400.1,230.2 L402.5,232.6 L404.8,234.9 L407.1,237.0 L409.5,239.0 L411.8,240.8 L414.2,242.4 L416.5,243.9 L418.9,245.1 L421.2,246.2 L423.6,247.0 L425.9,247.6 L428.3,248.0 L430.6,248.0 L433.0,247.8 L435.3,247.3 L437.7,246.5 L440.0,245.5 L442.3,244.1 L444.7,242.5 L447.0,240.6 L449.4,238.6 L451.7,236.3 L454.1,233.8 L456.4,231.1 L458.8,228.3 L461.1,225.4 L463.5,222.4 L465.8,219.4 L468.2,216.3 L470.5,213.2 L472.8,210.1 L475.2,207.0 L477.5,204.0 L479.9,200.9 L482.2,197.9 L484.6,194.9 L486.9,191.9 L489.3,189.1 L491.6,186.3 L494.0,183.5 L496.3,180.7 L498.7,178.0 L501.0,175.6" stroke="#f4f020"/>
<path d="M313.3,173.5 L315.6,171.7 L318.0,170.1 L320.3,168.7 L322.7,167.6 L325.0,166.5 L327.4,165.6 L329.7,165.1 L332.1,164.9 L334.4,164.7 L336.8,164.6 L339.1,165.1 L341.5,165.9 L343.8,166.8 L346.1,167.9 L348.5,169.2 L350.8,171.1 L353.2,173.2 L355.5,175.6 L357.9,178.2 L360.2,180.9 L362.6,184.0 L364.9,187.1 L367.3,190.3 L369.6,193.6 L372.0,197.0 L374.3,200.4 L376.6,203.9 L379.0,207.2 L381.3,210.5 L383.7,213.7 L386.0,216.9 L388.4,220.0 L390.7,222.9 L393.1,225.8 L395.4,228.4 L397.8,230.9 L400.1,233.3 L402.5,235.5 L404.8,237.6 L407.1,239.5 L409.5,241.2 L411.8,242.7 L414.2,244.1 L416.5,245.3 L418.9,246.3 L421.2,247.1 L423.6,247.6 L425.9,247.9 L428.3,248.0 L430.6,247.8 L433.0,247.3 L435.3,246.5 L437.7,245.4 L440.0,244.1 L442.3,242.5 L444.7,240.7 L447.0,238.6 L449.4,236.3 L451.7,233.9 L454.1,231.2 L456.4,228.4 L458.8,225.5 L461.1,222.5 L463.5,219.4 L465.8,216.3 L468.2,213.2 L470.5,210.1 L472.8,207.0 L475.2,203.9 L477.5,200.9 L479.9,197.9 L482.2,194.9 L484.6,192.0 L486.9,189.2 L489.3,186.5 L491.6,183.9 L494.0,181.2 L496.3,178.5 L498.7,176.1 L501.0,174.0" stroke="#383838"/>
<path d="M313.3,170.0 L315.6,168.4 L318.0,167.0 L320.3,165.9 L322.7,165.1 L325.0,164.3 L327.4,163.6 L329.7,163.4 L332.1,163.5 L334.4,163.5 L336.8,163.8 L339.1,164.5 L341.5,165.7 L343.8,166.9 L346.1,168.2 L348.5,169.9 L350.8,172.0 L353.2,174.4 L355.5,177.1 L357.9,179.8 L360.2,182.8 L362.6,186.1 L364.9,189.4 L367.3,192.7 L369.6,196.1 L372.0,199.7 L374.3,203.2 L376.6,206.7 L379.0,210.1 L381.3,213.4 L383.7,216.7 L386.0,219.8 L388.4,222.8 L390.7,225.7 L393.1,228.4 L395.4,231.0 L397.8,233.4 L400.1,235.6 L402.5,237.6 L404.8,239.5 L407.1,241.2 L409.5,242.7 L411.8,244.0 L414.2,245.1 L416.5,246.1 L418.9,246.8 L421.2,247.3 L423.6,247.6 L425.9,247.6 L428.3,247.3 L430.6,246.8 L433.0,246.0 L435.3,245.0 L437.7,243.6 L440.0,242.0 L442.3,240.2 L444.7,238.1 L447.0,235.8 L449.4,233.2 L451.7,230.6 L454.1,227.7 L456.4,224.7 L458.8,221.6 L461.1,218.5 L463.5,215.3 L465.8,212.0 L468.2,208.8 L470.5,205.7 L472.8,202.5 L475.2,199.5 L477.5,196.4 L479.9,193.4 L482.2,190.5 L484.6,187.6 L486.9,184.8 L489.3,182.2 L491.6,179.7 L494.0,177.2 L496.3,174.7 L498.7,172.4 L501.0,170.5" stroke="#2828ff"/>
<path d="M313.3,168.7 L315.6,167.4 L318.0,166.3 L320.3,165.5 L322.7,164.9 L325.0,164.4 L327.4,164.0 L329.7,164.1 L332.1,164.5 L334.4,164.8 L336.8,165.4 L339.1,166.4 L341.5,167.8 L343.8,169.2 L346.1,170.8 L348.5,172.7 L350.8,175.0 L353.2,177.6 L355.5,180.4 L357.9,183.3 L360.2,186.4 L362.6,189.8 L364.9,193.2 L367.3,196.5 L369.6,200.0 L372.0,203.5 L374.3,207.1 L376.6,210.5 L379.0,213.9 L381.3,217.1 L383.7,220.2 L386.0,223.2 L388.4,226.1 L390.7,228.8 L393.1,231.3 L395.4,233.6 L397.8,235.8 L400.1,237.8 L402.5,239.6 L404.8,241.2 L407.1,242.6 L409.5,243.8 L411.8,244.9 L414.2,245.7 L416.5,246.4 L418.9,246.8 L421.2,247.0 L423.6,247.0 L425.9,246.7 L428.3,246.2 L430.6,245.4 L433.0,244.4 L435.3,243.1 L437.7,241.5 L440.0,239.7 L442.3,237.6 L444.7,235.3 L447.0,232.8 L449.4,230.2 L451.7,227.4 L454.1,224.4 L456.4,221.3 L458.8,218.2 L461.1,215.0 L463.5,211.8 L465.8,208.5 L468.2,205.3 L470.5,202.2 L472.8,199.2 L475.2,196.2 L477.5,193.2 L479.9,190.3 L482.2,187.5 L484.6,184.8 L486.9,182.2 L489.3,179.8 L491.6,177.5 L494.0,175.2 L496.3,172.9 L498.7,170.8 L501.0,169.2" stroke="#ff3838"/>
<path d="M313.3,166.9 L315.6,165.9 L318.0,165.0 L320.3,164.5 L322.7,164.2 L325.0,164.0 L327.4,164.0 L329.7,164.3 L332.1,164.9 L334.4,165.6 L336.8,166.4 L339.1,167.7 L341.5,169.3 L343.8,171.0 L346.1,172.8 L348.5,174.9 L350.8,177.4 L353.2,180.2 L355.5,183.1 L357.9,186.2 L360.2,189.4 L362.6,192.9 L364.9,196.3 L367.3,199.7 L369.6,203.2 L372.0,206.7 L374.3,210.2 L376.6,213.6 L379.0,216.9 L381.3,220.0 L383.7,223.0 L386.0,225.9 L388.4,228.6 L390.7,231.1 L393.1,233.4 L395.4,235.5 L397.8,237.5 L400.1,239.2 L402.5,240.8 L404.8,242.1 L407.1,243.3 L409.5,244.2 L411.8,245.0 L414.2,245.6 L416.5,245.9 L418.9,246.1 L421.2,246.0 L423.6,245.7 L425.9,245.2 L428.3,244.4 L430.6,243.3 L433.0,242.0 L435.3,240.5 L437.7,238.6 L440.0,236.6 L442.3,234.3 L444.7,231.9 L447.0,229.2 L449.4,226.5 L451.7,223.5 L454.1,220.5 L456.4,217.3 L458.8,214.1 L461.1,210.9 L463.5,207.6 L465.8,204.4 L468.2,201.3 L470.5,198.2 L472.8,195.2 L475.2,192.3 L477.5,189.5 L479.9,186.7 L482.2,184.0 L484.6,181.5 L486.9,179.1 L489.3,176.8 L491.6,174.7 L494.0,172.6 L496.3,170.6 L498.7,168.8 L501.0,167.4" stroke="#22e4f0"/>
<path d="M313.3,168.5 L315.6,167.8 L318.0,167.3 L320.3,167.0 L322.7,167.0 L325.0,167.1 L327.4,167.3 L329.7,167.9 L332.1,168.8 L334.4,169.7 L336.8,170.8 L339.1,172.2 L341.5,174.1 L343.8,175.9 L346.1,177.9 L348.5,180.2 L350.8,182.8 L353.2,185.7 L355.5,188.7 L357.9,191.9 L360.2,195.1 L362.6,198.6 L364.9,202.0 L367.3,205.4 L369.6,208.8 L372.0,212.3 L374.3,215.7 L376.6,218.9 L379.0,222.0 L381.3,225.0 L383.7,227.8 L386.0,230.5 L388.4,233.0 L390.7,235.2 L393.1,237.3 L395.4,239.2 L397.8,240.8 L400.1,242.3 L402.5,243.5 L404.8,244.6 L407.1,245.5 L409.5,246.1 L411.8,246.6 L414.2,246.9 L416.5,247.0 L418.9,246.9 L421.2,246.5 L423.6,246.0 L425.9,245.2 L428.3,244.1 L430.6,242.8 L433.0,241.3 L435.3,239.6 L437.7,237.6 L440.0,235.4 L442.3,233.0 L444.7,230.4 L447.0,227.7 L449.4,224.8 L451.7,221.9 L454.1,218.8 L456.4,215.6 L458.8,212.4 L461.1,209.2 L463.5,206.1 L465.8,202.9 L468.2,199.9 L470.5,197.0 L472.8,194.1 L475.2,191.4 L477.5,188.7 L479.9,186.1 L482.2,183.6 L484.6,181.3 L486.9,179.1 L489.3,177.1 L491.6,175.3 L494.0,173.4 L496.3,171.7 L498.7,170.1 L501.0,169.0" stroke="#f4f020"/>
<path d="M313.3,166.0 L315.6,165.6 L318.0,165.3 L320.3,165.4 L322.7,165.6 L325.0,166.0 L327.4,166.5 L329.7,167.4 L332.1,168.6 L334.4,169.8 L336.8,171.1 L339.1,172.9 L341.5,174.9 L343.8,177.1 L346.1,179.3 L348.5,181.8 L350.8,184.6 L353.2,187.7 L355.5,190.9 L357.9,194.2 L360.2,197.6 L362.6,201.2 L364.9,204.7 L367.3,208.1 L369.6,211.6 L372.0,215.0 L374.3,218.4 L376.6,221.6 L379.0,224.7 L381.3,227.6 L383.7,230.3 L386.0,232.8 L388.4,235.2 L390.7,237.3 L393.1,239.1 L395.4,240.8 L397.8,242.3 L400.1,243.5 L402.5,244.5 L404.8,245.3 L407.1,245.9 L409.5,246.3 L411.8,246.6 L414.2,246.6 L416.5,246.4 L418.9,245.9 L421.2,245.3 L423.6,244.5 L425.9,243.4 L428.3,242.1 L430.6,240.5 L433.0,238.7 L435.3,236.7 L437.7,234.5 L440.0,232.0 L442.3,229.4 L444.7,226.7 L447.0,223.8 L449.4,220.8 L451.7,217.7 L454.1,214.5 L456.4,211.2 L458.8,208.0 L461.1,204.7 L463.5,201.5 L465.8,198.4 L468.2,195.3 L470.5,192.4 L472.8,189.6 L475.2,186.9 L477.5,184.4 L479.9,181.9 L482.2,179.5 L484.6,177.3 L486.9,175.3 L489.3,173.5 L491.6,171.9 L494.0,170.2 L496.3,168.7 L498.7,167.4 L501.0,166.5" stroke="#383838"/>
<path d="M313.3,166.1 L315.6,165.9 L318.0,165.9 L320.3,166.3 L322.7,166.8 L325.0,167.5 L327.4,168.3 L329.7,169.4 L332.1,170.9 L334.4,172.3 L336.8,173.9 L339.1,175.8 L341.5,178.1 L343.8,180.4 L346.1,182.8 L348.5,185.5 L350.8,188.5 L353.2,191.6 L355.5,194.9 L357.9,198.3 L360.2,201.7 L362.6,205.3 L364.9,208.8 L367.3,212.2 L369.6,215.7 L372.0,219.0 L374.3,222.3 L376.6,225.4 L379.0,228.3 L381.3,231.1 L383.7,233.6 L386.0,235.9 L388.4,238.0 L390.7,239.9 L393.1,241.6 L395.4,243.0 L397.8,244.2 L400.1,245.1 L402.5,245.9 L404.8,246.4 L407.1,246.7 L409.5,246.9 L411.8,246.8 L414.2,246.5 L416.5,246.0 L418.9,245.4 L421.2,244.5 L423.6,243.3 L425.9,242.0 L428.3,240.4 L430.6,238.7 L433.0,236.7 L435.3,234.4 L437.7,232.0 L440.0,229.4 L442.3,226.7 L444.7,223.8 L447.0,220.8 L449.4,217.8 L451.7,214.6 L454.1,211.4 L456.4,208.1 L458.8,204.9 L461.1,201.7 L463.5,198.5 L465.8,195.4 L468.2,192.5 L470.5,189.7 L472.8,187.0 L475.2,184.5 L477.5,182.1 L479.9,179.8 L482.2,177.6 L484.6,175.6 L486.9,173.8 L489.3,172.3 L491.6,170.9 L494.0,169.5 L496.3,168.2 L498.7,167.2 L501.0,166.6" stroke="#2828ff"/>
</g>
<path d="M313.3,249.1 L316.4,249.1 L319.6,249.1 L322.7,248.9 L325.8,248.7 L328.9,248.5 L332.1,248.2 L335.2,247.9 L338.3,247.7 L341.5,247.5 L344.6,247.4 L347.7,247.4 L350.8,247.4 L354.0,247.6 L357.1,247.8 L360.2,248.0 L363.4,248.3 L366.5,248.6 L369.6,248.8 L372.7,249.0 L375.9,249.1 L379.0,249.1 L382.1,249.1 L385.3,248.9 L388.4,248.7 L391.5,248.5 L394.6,248.2 L397.8,247.9 L400.9,247.7 L404.0,247.5 L407.1,247.4 L410.3,247.4 L413.4,247.4 L416.5,247.6 L419.7,247.8 L422.8,248.0 L425.9,248.3 L429.0,248.6 L432.2,248.8 L435.3,249.0 L438.4,249.1 L441.6,249.1 L444.7,249.1 L447.8,248.9 L450.9,248.7 L454.1,248.5 L457.2,248.2 L460.3,247.9 L463.5,247.7 L466.6,247.5 L469.7,247.4 L472.8,247.4 L476.0,247.4 L479.1,247.6 L482.2,247.8 L485.4,248.0 L488.5,248.3 L491.6,248.6 L494.7,248.8 L497.9,249.0 L501.0,249.1" fill="none" stroke="#f8b830" stroke-width="0.7"/>
<path d="M313.3,163.0 L316.4,163.0 L319.6,162.9 L322.7,162.9 L325.8,162.6 L328.9,162.2 L332.1,162.1 L335.2,161.6 L338.3,161.1 L341.5,160.9 L344.6,160.6 L347.7,160.1 L350.8,160.0 L354.0,160.1 L357.1,160.3 L360.2,160.5 L363.4,160.9 L366.5,161.0 L369.6,161.3 L372.7,161.6 L375.9,162.0 L379.0,162.2 L382.1,162.2 L385.3,162.3 L388.4,162.5 L391.5,162.6 L394.6,162.7 L397.8,162.8 L400.9,162.9 L404.0,163.0 L407.1,163.0 L410.3,162.8 L413.4,162.6 L416.5,162.5 L419.7,162.6 L422.8,162.9 L425.9,163.2 L429.0,163.2 L432.2,163.4 L435.3,163.6 L438.4,163.7 L441.6,163.9 L444.7,164.2 L447.8,164.5 L450.9,164.7 L454.1,164.8 L457.2,164.8 L460.3,164.7 L463.5,164.7 L466.6,164.7 L469.7,164.8 L472.8,164.9 L476.0,165.0 L479.1,165.0 L482.2,164.9 L485.4,164.9 L488.5,164.8 L491.6,164.7 L494.7,164.3 L497.9,163.8 L501.0,163.5" fill="none" stroke="#1414e6" stroke-width="2.4"/>
<line x1="313.80" y1="259.9" x2="313.80" y2="255.47" stroke="#ff1a1a" stroke-width="1"/>
<circle cx="313.80" cy="255.47" r="1.15" fill="#ff1a1a"/>
<line x1="323.19" y1="259.9" x2="323.19" y2="192.73" stroke="#ff1a1a" stroke-width="1"/>
<circle cx="323.19" cy="192.73" r="1.15" fill="#ff1a1a"/>
<line x1="332.57" y1="259.9" x2="332.57" y2="234.80" stroke="#ff1a1a" stroke-width="1"/>
<circle cx="332.57" cy="234.80" r="1.15" fill="#ff1a1a"/>
<line x1="341.95" y1="259.9" x2="341.95" y2="242.92" stroke="#ff1a1a" stroke-width="1"/>
<circle cx="341.95" cy="242.92" r="1.15" fill="#ff1a1a"/>
<line x1="351.34" y1="259.9" x2="351.34" y2="255.62" stroke="#ff1a1a" stroke-width="1"/>
<circle cx="351.34" cy="255.62" r="1.15" fill="#ff1a1a"/>
<line x1="360.73" y1="259.9" x2="360.73" y2="246.98" stroke="#ff1a1a" stroke-width="1"/>
<circle cx="360.73" cy="246.98" r="1.15" fill="#ff1a1a"/>
<line x1="370.11" y1="259.9" x2="370.11" y2="255.62" stroke="#ff1a1a" stroke-width="1"/>
<circle cx="370.11" cy="255.62" r="1.15" fill="#ff1a1a"/>
<line x1="379.50" y1="259.9" x2="379.50" y2="256.95" stroke="#ff1a1a" stroke-width="1"/>
<circle cx="379.50" cy="256.95" r="1.15" fill="#ff1a1a"/>
<line x1="388.88" y1="259.9" x2="388.88" y2="255.47" stroke="#ff1a1a" stroke-width="1"/>
<circle cx="388.88" cy="255.47" r="1.15" fill="#ff1a1a"/>
<line x1="398.26" y1="259.9" x2="398.26" y2="259.16" stroke="#ff1a1a" stroke-width="1"/>
<circle cx="398.26" cy="259.16" r="1.15" fill="#ff1a1a"/>
<line x1="407.65" y1="259.9" x2="407.65" y2="258.05" stroke="#ff1a1a" stroke-width="1"/>
<circle cx="407.65" cy="258.05" r="1.15" fill="#ff1a1a"/>
<line x1="417.03" y1="259.9" x2="417.03" y2="258.79" stroke="#ff1a1a" stroke-width="1"/>
<circle cx="417.03" cy="258.79" r="1.15" fill="#ff1a1a"/>
<line x1="426.42" y1="259.9" x2="426.42" y2="258.05" stroke="#ff1a1a" stroke-width="1"/>
<circle cx="426.42" cy="258.05" r="1.15" fill="#ff1a1a"/>
<line x1="435.81" y1="259.9" x2="435.81" y2="257.69" stroke="#ff1a1a" stroke-width="1"/>
<circle cx="435.81" cy="257.69" r="1.15" fill="#ff1a1a"/>
<line x1="445.19" y1="259.9" x2="445.19" y2="258.79" stroke="#ff1a1a" stroke-width="1"/>
<circle cx="445.19" cy="258.79" r="1.15" fill="#ff1a1a"/>
<line x1="454.58" y1="259.9" x2="454.58" y2="259.01" stroke="#ff1a1a" stroke-width="1"/>
<circle cx="454.58" cy="259.01" r="1.15" fill="#ff1a1a"/>
<line x1="463.96" y1="259.9" x2="463.96" y2="257.83" stroke="#ff1a1a" stroke-width="1"/>
<circle cx="463.96" cy="257.83" r="1.15" fill="#ff1a1a"/>
<line x1="473.35" y1="259.9" x2="473.35" y2="258.42" stroke="#ff1a1a" stroke-width="1"/>
<circle cx="473.35" cy="258.42" r="1.15" fill="#ff1a1a"/>
<line x1="482.73" y1="259.9" x2="482.73" y2="258.79" stroke="#ff1a1a" stroke-width="1"/>
<circle cx="482.73" cy="258.79" r="1.15" fill="#ff1a1a"/>
<line x1="492.12" y1="259.9" x2="492.12" y2="259.01" stroke="#ff1a1a" stroke-width="1"/>
<circle cx="492.12" cy="259.01" r="1.15" fill="#ff1a1a"/>
<line x1="501.50" y1="259.9" x2="501.50" y2="259.46" stroke="#ff1a1a" stroke-width="1"/>
<circle cx="501.50" cy="259.46" r="1.15" fill="#ff1a1a"/>
<text x="307.2" y="262.4" font-size="7.5" fill="#ff2020" text-anchor="end" font-family='"Liberation Serif","Noto Serif CJK SC",serif' stroke="#ff2020" stroke-width="0.22" >0</text>
<text x="307.2" y="247.6375" font-size="7.5" fill="#ff2020" text-anchor="end" font-family='"Liberation Serif","Noto Serif CJK SC",serif' stroke="#ff2020" stroke-width="0.22" >2000</text>
<text x="307.2" y="232.875" font-size="7.5" fill="#ff2020" text-anchor="end" font-family='"Liberation Serif","Noto Serif CJK SC",serif' stroke="#ff2020" stroke-width="0.22" >4000</text>
<text x="307.2" y="218.11249999999998" font-size="7.5" fill="#ff2020" text-anchor="end" font-family='"Liberation Serif","Noto Serif CJK SC",serif' stroke="#ff2020" stroke-width="0.22" >6000</text>
<text x="307.2" y="203.35" font-size="7.5" fill="#ff2020" text-anchor="end" font-family='"Liberation Serif","Noto Serif CJK SC",serif' stroke="#ff2020" stroke-width="0.22" >8000</text>
<text x="307.2" y="188.58749999999998" font-size="7.5" fill="#ff2020" text-anchor="end" font-family='"Liberation Serif","Noto Serif CJK SC",serif' stroke="#ff2020" stroke-width="0.22" >10000</text>
<text x="307.2" y="173.825" font-size="7.5" fill="#ff2020" text-anchor="end" font-family='"Liberation Serif","Noto Serif CJK SC",serif' stroke="#ff2020" stroke-width="0.22" >12000</text>
<text x="307.2" y="159.0625" font-size="7.5" fill="#ff2020" text-anchor="end" font-family='"Liberation Serif","Noto Serif CJK SC",serif' stroke="#ff2020" stroke-width="0.22" >14000</text>
<text x="307.2" y="144.3" font-size="7.5" fill="#ff2020" text-anchor="end" font-family='"Liberation Serif","Noto Serif CJK SC",serif' stroke="#ff2020" stroke-width="0.22" >16000</text>
<text x="313.6" y="269.9" font-size="7.4" fill="#ff2020" text-anchor="middle" font-family='"Liberation Serif","Noto Serif CJK SC",serif' stroke="#ff2020" stroke-width="0.22" >0</text>
<text x="332.37" y="269.9" font-size="7.4" fill="#ff2020" text-anchor="middle" font-family='"Liberation Serif","Noto Serif CJK SC",serif' stroke="#ff2020" stroke-width="0.22" >2</text>
<text x="351.14000000000004" y="269.9" font-size="7.4" fill="#ff2020" text-anchor="middle" font-family='"Liberation Serif","Noto Serif CJK SC",serif' stroke="#ff2020" stroke-width="0.22" >4</text>
<text x="369.91" y="269.9" font-size="7.4" fill="#ff2020" text-anchor="middle" font-family='"Liberation Serif","Noto Serif CJK SC",serif' stroke="#ff2020" stroke-width="0.22" >6</text>
<text x="388.68" y="269.9" font-size="7.4" fill="#ff2020" text-anchor="middle" font-family='"Liberation Serif","Noto Serif CJK SC",serif' stroke="#ff2020" stroke-width="0.22" >8</text>
<text x="407.45" y="269.9" font-size="7.4" fill="#ff2020" text-anchor="middle" font-family='"Liberation Serif","Noto Serif CJK SC",serif' stroke="#ff2020" stroke-width="0.22" >10</text>
<text x="426.21999999999997" y="269.9" font-size="7.4" fill="#ff2020" text-anchor="middle" font-family='"Liberation Serif","Noto Serif CJK SC",serif' stroke="#ff2020" stroke-width="0.22" >12</text>
<text x="444.99" y="269.9" font-size="7.4" fill="#ff2020" text-anchor="middle" font-family='"Liberation Serif","Noto Serif CJK SC",serif' stroke="#ff2020" stroke-width="0.22" >14</text>
<text x="463.76000000000005" y="269.9" font-size="7.4" fill="#ff2020" text-anchor="middle" font-family='"Liberation Serif","Noto Serif CJK SC",serif' stroke="#ff2020" stroke-width="0.22" >16</text>
<text x="482.53000000000003" y="269.9" font-size="7.4" fill="#ff2020" text-anchor="middle" font-family='"Liberation Serif","Noto Serif CJK SC",serif' stroke="#ff2020" stroke-width="0.22" >18</text>
<text x="501.3" y="269.9" font-size="7.4" fill="#ff2020" text-anchor="middle" font-family='"Liberation Serif","Noto Serif CJK SC",serif' stroke="#ff2020" stroke-width="0.22" >20</text>
<text x="405.5" y="279.2" font-size="8.8" fill="#ff2020" text-anchor="middle" font-family='"Liberation Serif","Noto Serif CJK SC",serif' textLength="102" lengthAdjust="spacingAndGlyphs" stroke="#ff2020" stroke-width="0.22" >Harmonic Component/order</text>
<text transform="translate(284,220) rotate(-90)" font-size="9" fill="#ff2020" stroke="#ff2020" stroke-width="0.2" text-anchor="middle" font-family='"Liberation Serif","Noto Serif CJK SC",serif' textLength="34" lengthAdjust="spacingAndGlyphs">Error/lm</text>
<text x="315.6" y="138.6" font-size="7.6" fill="#2020ff" text-anchor="middle" font-family='"Liberation Serif","Noto Serif CJK SC",serif' stroke="#2020ff" stroke-width="0.22" >0</text>
<text x="360.225" y="138.6" font-size="7.6" fill="#2020ff" text-anchor="middle" font-family='"Liberation Serif","Noto Serif CJK SC",serif' stroke="#2020ff" stroke-width="0.22" >0.15</text>
<text x="407.15" y="138.6" font-size="7.6" fill="#2020ff" text-anchor="middle" font-family='"Liberation Serif","Noto Serif CJK SC",serif' stroke="#2020ff" stroke-width="0.22" >0.3</text>
<text x="454.075" y="138.6" font-size="7.6" fill="#2020ff" text-anchor="middle" font-family='"Liberation Serif","Noto Serif CJK SC",serif' stroke="#2020ff" stroke-width="0.22" >0.45</text>
<text x="501.0" y="138.6" font-size="7.6" fill="#2020ff" text-anchor="middle" font-family='"Liberation Serif","Noto Serif CJK SC",serif' stroke="#2020ff" stroke-width="0.22" >0.6</text>
<text x="408.5" y="128.6" font-size="8" fill="#2020ff" text-anchor="middle" font-family='"Liberation Serif","Noto Serif CJK SC",serif' textLength="67" lengthAdjust="spacingAndGlyphs" stroke="#2020ff" stroke-width="0.22" >Displacement/mm</text>
<text x="514.3" y="263.0" font-size="7.6" fill="#2020ff" text-anchor="end" font-family='"Liberation Serif","Noto Serif CJK SC",serif' stroke="#2020ff" stroke-width="0.22" >0</text>
<text x="514.3" y="248.23749999999998" font-size="7.6" fill="#2020ff" text-anchor="end" font-family='"Liberation Serif","Noto Serif CJK SC",serif' stroke="#2020ff" stroke-width="0.22" >0.5</text>
<text x="514.3" y="233.475" font-size="7.6" fill="#2020ff" text-anchor="end" font-family='"Liberation Serif","Noto Serif CJK SC",serif' stroke="#2020ff" stroke-width="0.22" >1</text>
<text x="514.3" y="218.71249999999998" font-size="7.6" fill="#2020ff" text-anchor="end" font-family='"Liberation Serif","Noto Serif CJK SC",serif' stroke="#2020ff" stroke-width="0.22" >1.5</text>
<text x="514.3" y="203.95" font-size="7.6" fill="#2020ff" text-anchor="end" font-family='"Liberation Serif","Noto Serif CJK SC",serif' stroke="#2020ff" stroke-width="0.22" >2</text>
<text x="514.3" y="189.1875" font-size="7.6" fill="#2020ff" text-anchor="end" font-family='"Liberation Serif","Noto Serif CJK SC",serif' stroke="#2020ff" stroke-width="0.22" >2.5</text>
<text x="514.3" y="174.42499999999998" font-size="7.6" fill="#2020ff" text-anchor="end" font-family='"Liberation Serif","Noto Serif CJK SC",serif' stroke="#2020ff" stroke-width="0.22" >3</text>
<text x="514.3" y="159.6625" font-size="7.6" fill="#2020ff" text-anchor="end" font-family='"Liberation Serif","Noto Serif CJK SC",serif' stroke="#2020ff" stroke-width="0.22" >3.5</text>
<text x="514.3" y="144.9" font-size="7.6" fill="#2020ff" text-anchor="end" font-family='"Liberation Serif","Noto Serif CJK SC",serif' stroke="#2020ff" stroke-width="0.22" >4</text>
<text x="519" y="139.6" font-size="7.2" fill="#2020ff" text-anchor="start" font-family='"Liberation Serif","Noto Serif CJK SC",serif' >× 10<tspan dy="-3" font-size="5">5</tspan></text>
<text transform="translate(529.4,203.7) rotate(-90)" font-size="8.5" fill="#2020ff" stroke="#2020ff" stroke-width="0.2" text-anchor="middle" font-family='"Liberation Serif","Noto Serif CJK SC",serif' textLength="57" lengthAdjust="spacingAndGlyphs">luminous flux/lm</text>
<text x="405.3" y="292.3" font-size="10.6" fill="#000" text-anchor="middle" font-family='"Liberation Serif","Noto Serif CJK SC",serif' font-weight="bold" >(d)</text>
<rect x="51" y="298.6" width="12" height="4.8" fill="#e020e0" />
<text x="68.2" y="303.3" font-size="7.5" fill="#000" text-anchor="start" font-family='"Liberation Serif","Noto Serif CJK SC",serif' textLength="40.7" lengthAdjust="spacingAndGlyphs" >Light source</text>
<rect x="51" y="308" width="12" height="4.7" fill="#000" />
<text x="68.2" y="312.6" font-size="7.5" fill="#000" text-anchor="start" font-family='"Liberation Serif","Noto Serif CJK SC",serif' textLength="41.8" lengthAdjust="spacingAndGlyphs" >Moving ruler</text>
<rect x="51" y="317" width="12" height="5" fill="#ee1010" />
<text x="67.8" y="322" font-size="7.5" fill="#000" text-anchor="start" font-family='"Liberation Serif","Noto Serif CJK SC",serif' textLength="168.5" lengthAdjust="spacingAndGlyphs" >Continuous cosinusoidal light transmission surfaces</text>
<rect x="143.6" y="298.4" width="14" height="4.7" fill="#10f020" />
<text x="163.6" y="303.3" font-size="7.5" fill="#000" text-anchor="start" font-family='"Liberation Serif","Noto Serif CJK SC",serif' textLength="39" lengthAdjust="spacingAndGlyphs" >0° Photocell</text>
<rect x="143.6" y="306.8" width="14" height="4.9" fill="#f8f000" />
<text x="166.3" y="311.6" font-size="7.5" fill="#000" text-anchor="start" font-family='"Liberation Serif","Noto Serif CJK SC",serif' textLength="44.7" lengthAdjust="spacingAndGlyphs" >270° Photocell</text>
<rect x="255.2" y="298.4" width="11.6" height="4.7" fill="#1010d8" />
<text x="272" y="303.3" font-size="7.5" fill="#000" text-anchor="start" font-family='"Liberation Serif","Noto Serif CJK SC",serif' textLength="44.3" lengthAdjust="spacingAndGlyphs" >90° Photocell</text>
<rect x="255.2" y="306.8" width="11.6" height="4.9" fill="#30f0f0" />
<text x="272" y="311.6" font-size="7.5" fill="#000" text-anchor="start" font-family='"Liberation Serif","Noto Serif CJK SC",serif' textLength="47" lengthAdjust="spacingAndGlyphs" >180° Photocell</text>
<rect x="361.3" y="300.6" width="13.6" height="4.5" fill="#c8d0b0" stroke="#d8f020" stroke-width="0.8" stroke-dasharray="2 1"/>
<text x="382" y="305.2" font-size="7.5" fill="#000" text-anchor="start" font-family='"Liberation Serif","Noto Serif CJK SC",serif' textLength="114.5" lengthAdjust="spacingAndGlyphs" >The actual position of moving ruler</text>
<rect x="361.3" y="308.3" width="13.6" height="4.6" fill="#505050" stroke="#000" stroke-width="0.7"/>
<text x="382" y="312.8" font-size="7.5" fill="#000" text-anchor="start" font-family='"Liberation Serif","Noto Serif CJK SC",serif' textLength="71.8" lengthAdjust="spacingAndGlyphs" >Moving ruler moves <tspan font-style="italic">x</tspan></text>
</svg>
</body></html>
